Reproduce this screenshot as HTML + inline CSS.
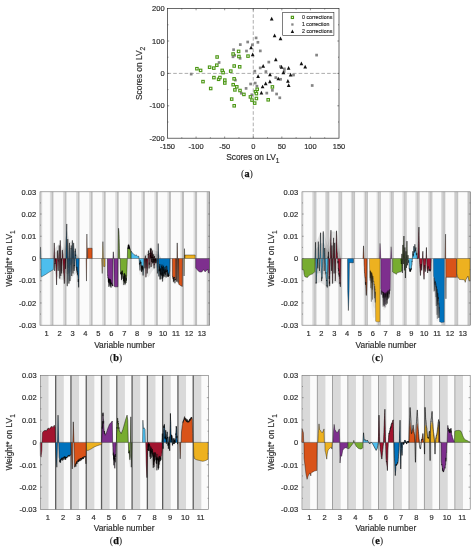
<!DOCTYPE html>
<html lang="en">
<head>
<meta charset="utf-8">
<title>Figure: PLS scores and weights</title>
<style>
html,body{margin:0;padding:0;background:#fff;}
body{width:476px;height:550px;overflow:hidden;}
svg{display:block;font-family:"Liberation Sans", Arial, sans-serif;}
</style>
</head>
<body>
<svg width="476" height="550" viewBox="0 0 476 550">
<rect x="0" y="0" width="476" height="550" fill="#ffffff"/>
<g id="panel-a">
<rect x="167.5" y="8.6" width="171.5" height="129.6" fill="#ffffff" />
<line x1="167.5" y1="73.4" x2="339" y2="73.4" stroke="#6a6a6a" stroke-width="0.55" stroke-dasharray="3.6 2.1"/>
<line x1="253.25" y1="8.6" x2="253.25" y2="138.2" stroke="#6a6a6a" stroke-width="0.55" stroke-dasharray="3.6 2.1"/>
<rect x="189.85" y="72.75" width="2.7" height="2.7" fill="#858585"/>
<rect x="217.75" y="61.15" width="2.7" height="2.7" fill="#858585"/>
<rect x="232.25" y="48.35" width="2.7" height="2.7" fill="#858585"/>
<rect x="238.95" y="43.25" width="2.7" height="2.7" fill="#858585"/>
<rect x="233.35" y="53.95" width="2.7" height="2.7" fill="#858585"/>
<rect x="231.65" y="55.45" width="2.7" height="2.7" fill="#858585"/>
<rect x="238.75" y="56.95" width="2.7" height="2.7" fill="#858585"/>
<rect x="228.85" y="69.95" width="2.7" height="2.7" fill="#858585"/>
<rect x="254.75" y="36.55" width="2.7" height="2.7" fill="#858585"/>
<rect x="256.55" y="40.95" width="2.7" height="2.7" fill="#858585"/>
<rect x="246.35" y="40.65" width="2.7" height="2.7" fill="#858585"/>
<rect x="251.05" y="43.45" width="2.7" height="2.7" fill="#858585"/>
<rect x="245.15" y="49.65" width="2.7" height="2.7" fill="#858585"/>
<rect x="258.95" y="49.55" width="2.7" height="2.7" fill="#858585"/>
<rect x="267.45" y="60.75" width="2.7" height="2.7" fill="#858585"/>
<rect x="258.85" y="66.55" width="2.7" height="2.7" fill="#858585"/>
<rect x="253.45" y="69.85" width="2.7" height="2.7" fill="#858585"/>
<rect x="264.55" y="70.25" width="2.7" height="2.7" fill="#858585"/>
<rect x="279.15" y="65.15" width="2.7" height="2.7" fill="#858585"/>
<rect x="283.05" y="67.55" width="2.7" height="2.7" fill="#858585"/>
<rect x="282.85" y="70.05" width="2.7" height="2.7" fill="#858585"/>
<rect x="292.15" y="73.65" width="2.7" height="2.7" fill="#858585"/>
<rect x="315.25" y="53.75" width="2.7" height="2.7" fill="#858585"/>
<rect x="234.05" y="78.75" width="2.7" height="2.7" fill="#858585"/>
<rect x="244.75" y="87.05" width="2.7" height="2.7" fill="#858585"/>
<rect x="249.25" y="82.65" width="2.7" height="2.7" fill="#858585"/>
<rect x="253.85" y="81.75" width="2.7" height="2.7" fill="#858585"/>
<rect x="255.55" y="84.85" width="2.7" height="2.7" fill="#858585"/>
<rect x="239.95" y="91.85" width="2.7" height="2.7" fill="#858585"/>
<rect x="250.45" y="93.45" width="2.7" height="2.7" fill="#858585"/>
<rect x="274.45" y="76.25" width="2.7" height="2.7" fill="#858585"/>
<rect x="279.25" y="77.95" width="2.7" height="2.7" fill="#858585"/>
<rect x="310.85" y="84.15" width="2.7" height="2.7" fill="#858585"/>
<rect x="271.05" y="88.95" width="2.7" height="2.7" fill="#858585"/>
<rect x="265.45" y="91.75" width="2.7" height="2.7" fill="#858585"/>
<rect x="275.25" y="92.65" width="2.7" height="2.7" fill="#858585"/>
<rect x="278.45" y="96.45" width="2.7" height="2.7" fill="#858585"/>
<rect x="195.68" y="67.48" width="2.45" height="2.45" fill="#ffffff" stroke="#4a9612" stroke-width="1.1"/>
<rect x="199.38" y="69.18" width="2.45" height="2.45" fill="#ffffff" stroke="#4a9612" stroke-width="1.1"/>
<rect x="208.38" y="65.98" width="2.45" height="2.45" fill="#ffffff" stroke="#4a9612" stroke-width="1.1"/>
<rect x="212.58" y="66.88" width="2.45" height="2.45" fill="#ffffff" stroke="#4a9612" stroke-width="1.1"/>
<rect x="215.58" y="63.98" width="2.45" height="2.45" fill="#ffffff" stroke="#4a9612" stroke-width="1.1"/>
<rect x="215.88" y="55.77" width="2.45" height="2.45" fill="#ffffff" stroke="#4a9612" stroke-width="1.1"/>
<rect x="220.97" y="69.18" width="2.45" height="2.45" fill="#ffffff" stroke="#4a9612" stroke-width="1.1"/>
<rect x="221.88" y="71.38" width="2.45" height="2.45" fill="#ffffff" stroke="#4a9612" stroke-width="1.1"/>
<rect x="229.58" y="69.88" width="2.45" height="2.45" fill="#ffffff" stroke="#4a9612" stroke-width="1.1"/>
<rect x="232.97" y="64.78" width="2.45" height="2.45" fill="#ffffff" stroke="#4a9612" stroke-width="1.1"/>
<rect x="238.47" y="65.58" width="2.45" height="2.45" fill="#ffffff" stroke="#4a9612" stroke-width="1.1"/>
<rect x="231.88" y="52.77" width="2.45" height="2.45" fill="#ffffff" stroke="#4a9612" stroke-width="1.1"/>
<rect x="237.38" y="50.17" width="2.45" height="2.45" fill="#ffffff" stroke="#4a9612" stroke-width="1.1"/>
<rect x="237.68" y="55.27" width="2.45" height="2.45" fill="#ffffff" stroke="#4a9612" stroke-width="1.1"/>
<rect x="246.78" y="54.88" width="2.45" height="2.45" fill="#ffffff" stroke="#4a9612" stroke-width="1.1"/>
<rect x="212.68" y="76.38" width="2.45" height="2.45" fill="#ffffff" stroke="#4a9612" stroke-width="1.1"/>
<rect x="217.38" y="78.08" width="2.45" height="2.45" fill="#ffffff" stroke="#4a9612" stroke-width="1.1"/>
<rect x="218.68" y="76.28" width="2.45" height="2.45" fill="#ffffff" stroke="#4a9612" stroke-width="1.1"/>
<rect x="201.78" y="80.38" width="2.45" height="2.45" fill="#ffffff" stroke="#4a9612" stroke-width="1.1"/>
<rect x="223.58" y="78.88" width="2.45" height="2.45" fill="#ffffff" stroke="#4a9612" stroke-width="1.1"/>
<rect x="223.58" y="81.78" width="2.45" height="2.45" fill="#ffffff" stroke="#4a9612" stroke-width="1.1"/>
<rect x="232.88" y="77.58" width="2.45" height="2.45" fill="#ffffff" stroke="#4a9612" stroke-width="1.1"/>
<rect x="209.47" y="87.28" width="2.45" height="2.45" fill="#ffffff" stroke="#4a9612" stroke-width="1.1"/>
<rect x="231.97" y="83.48" width="2.45" height="2.45" fill="#ffffff" stroke="#4a9612" stroke-width="1.1"/>
<rect x="235.58" y="85.58" width="2.45" height="2.45" fill="#ffffff" stroke="#4a9612" stroke-width="1.1"/>
<rect x="233.68" y="88.68" width="2.45" height="2.45" fill="#ffffff" stroke="#4a9612" stroke-width="1.1"/>
<rect x="238.78" y="89.28" width="2.45" height="2.45" fill="#ffffff" stroke="#4a9612" stroke-width="1.1"/>
<rect x="242.68" y="93.18" width="2.45" height="2.45" fill="#ffffff" stroke="#4a9612" stroke-width="1.1"/>
<rect x="230.47" y="97.88" width="2.45" height="2.45" fill="#ffffff" stroke="#4a9612" stroke-width="1.1"/>
<rect x="232.97" y="104.58" width="2.45" height="2.45" fill="#ffffff" stroke="#4a9612" stroke-width="1.1"/>
<rect x="249.18" y="95.68" width="2.45" height="2.45" fill="#ffffff" stroke="#4a9612" stroke-width="1.1"/>
<rect x="250.78" y="98.88" width="2.45" height="2.45" fill="#ffffff" stroke="#4a9612" stroke-width="1.1"/>
<rect x="253.47" y="101.88" width="2.45" height="2.45" fill="#ffffff" stroke="#4a9612" stroke-width="1.1"/>
<rect x="255.17" y="97.28" width="2.45" height="2.45" fill="#ffffff" stroke="#4a9612" stroke-width="1.1"/>
<rect x="254.28" y="90.48" width="2.45" height="2.45" fill="#ffffff" stroke="#4a9612" stroke-width="1.1"/>
<rect x="255.97" y="88.08" width="2.45" height="2.45" fill="#ffffff" stroke="#4a9612" stroke-width="1.1"/>
<rect x="255.17" y="92.38" width="2.45" height="2.45" fill="#ffffff" stroke="#4a9612" stroke-width="1.1"/>
<rect x="271.17" y="85.68" width="2.45" height="2.45" fill="#ffffff" stroke="#4a9612" stroke-width="1.1"/>
<rect x="266.97" y="98.58" width="2.45" height="2.45" fill="#ffffff" stroke="#4a9612" stroke-width="1.1"/>
<polygon points="271.7,16.85 273.55,20.55 269.85,20.55" fill="#111111"/>
<polygon points="274.6,33.45 276.45,37.15 272.75,37.15" fill="#111111"/>
<polygon points="280.5,36.55 282.35,40.25 278.65,40.25" fill="#111111"/>
<polygon points="251.1,45.45 252.95,49.15 249.25,49.15" fill="#111111"/>
<polygon points="252.7,52.45 254.55,56.15 250.85,56.15" fill="#111111"/>
<polygon points="275.8,57.45 277.65,61.15 273.95,61.15" fill="#111111"/>
<polygon points="263.2,64.05 265.05,67.75 261.35,67.75" fill="#111111"/>
<polygon points="281.6,65.05 283.45,68.75 279.75,68.75" fill="#111111"/>
<polygon points="288.6,66.05 290.45,69.75 286.75,69.75" fill="#111111"/>
<polygon points="301.4,61.55 303.25,65.25 299.55,65.25" fill="#111111"/>
<polygon points="305.2,64.75 307.05,68.45 303.35,68.45" fill="#111111"/>
<polygon points="283.4,70.55 285.25,74.25 281.55,74.25" fill="#111111"/>
<polygon points="270,72.45 271.85,76.15 268.15,76.15" fill="#111111"/>
<polygon points="290.6,72.75 292.45,76.45 288.75,76.45" fill="#111111"/>
<polygon points="258.1,74.25 259.95,77.95 256.25,77.95" fill="#111111"/>
<polygon points="278.3,76.65 280.15,80.35 276.45,80.35" fill="#111111"/>
<polygon points="287.9,79.05 289.75,82.75 286.05,82.75" fill="#111111"/>
<polygon points="288.7,83.25 290.55,86.95 286.85,86.95" fill="#111111"/>
<polygon points="269.9,79.55 271.75,83.25 268.05,83.25" fill="#111111"/>
<polygon points="265.7,81.55 267.55,85.25 263.85,85.25" fill="#111111"/>
<polygon points="262.6,84.65 264.45,88.35 260.75,88.35" fill="#111111"/>
<polygon points="261.4,90.85 263.25,94.55 259.55,94.55" fill="#111111"/>
<rect x="167.5" y="8.6" width="171.5" height="129.6" fill="none" stroke="#2a2a2a" stroke-width="0.7"/>
<line x1="181.79" y1="138.2" x2="181.79" y2="137.2" stroke="#2a2a2a" stroke-width="0.5" />
<line x1="181.79" y1="8.6" x2="181.79" y2="9.6" stroke="#2a2a2a" stroke-width="0.5" />
<line x1="196.08" y1="138.2" x2="196.08" y2="136.5" stroke="#2a2a2a" stroke-width="0.5" />
<line x1="196.08" y1="8.6" x2="196.08" y2="10.3" stroke="#2a2a2a" stroke-width="0.5" />
<line x1="210.38" y1="138.2" x2="210.38" y2="137.2" stroke="#2a2a2a" stroke-width="0.5" />
<line x1="210.38" y1="8.6" x2="210.38" y2="9.6" stroke="#2a2a2a" stroke-width="0.5" />
<line x1="224.67" y1="138.2" x2="224.67" y2="136.5" stroke="#2a2a2a" stroke-width="0.5" />
<line x1="224.67" y1="8.6" x2="224.67" y2="10.3" stroke="#2a2a2a" stroke-width="0.5" />
<line x1="238.96" y1="138.2" x2="238.96" y2="137.2" stroke="#2a2a2a" stroke-width="0.5" />
<line x1="238.96" y1="8.6" x2="238.96" y2="9.6" stroke="#2a2a2a" stroke-width="0.5" />
<line x1="253.25" y1="138.2" x2="253.25" y2="136.5" stroke="#2a2a2a" stroke-width="0.5" />
<line x1="253.25" y1="8.6" x2="253.25" y2="10.3" stroke="#2a2a2a" stroke-width="0.5" />
<line x1="267.54" y1="138.2" x2="267.54" y2="137.2" stroke="#2a2a2a" stroke-width="0.5" />
<line x1="267.54" y1="8.6" x2="267.54" y2="9.6" stroke="#2a2a2a" stroke-width="0.5" />
<line x1="281.83" y1="138.2" x2="281.83" y2="136.5" stroke="#2a2a2a" stroke-width="0.5" />
<line x1="281.83" y1="8.6" x2="281.83" y2="10.3" stroke="#2a2a2a" stroke-width="0.5" />
<line x1="296.12" y1="138.2" x2="296.12" y2="137.2" stroke="#2a2a2a" stroke-width="0.5" />
<line x1="296.12" y1="8.6" x2="296.12" y2="9.6" stroke="#2a2a2a" stroke-width="0.5" />
<line x1="310.42" y1="138.2" x2="310.42" y2="136.5" stroke="#2a2a2a" stroke-width="0.5" />
<line x1="310.42" y1="8.6" x2="310.42" y2="10.3" stroke="#2a2a2a" stroke-width="0.5" />
<line x1="324.71" y1="138.2" x2="324.71" y2="137.2" stroke="#2a2a2a" stroke-width="0.5" />
<line x1="324.71" y1="8.6" x2="324.71" y2="9.6" stroke="#2a2a2a" stroke-width="0.5" />
<line x1="167.5" y1="122" x2="168.5" y2="122" stroke="#2a2a2a" stroke-width="0.5" />
<line x1="339" y1="122" x2="338" y2="122" stroke="#2a2a2a" stroke-width="0.5" />
<line x1="167.5" y1="105.8" x2="169.2" y2="105.8" stroke="#2a2a2a" stroke-width="0.5" />
<line x1="339" y1="105.8" x2="337.3" y2="105.8" stroke="#2a2a2a" stroke-width="0.5" />
<line x1="167.5" y1="89.6" x2="168.5" y2="89.6" stroke="#2a2a2a" stroke-width="0.5" />
<line x1="339" y1="89.6" x2="338" y2="89.6" stroke="#2a2a2a" stroke-width="0.5" />
<line x1="167.5" y1="73.4" x2="169.2" y2="73.4" stroke="#2a2a2a" stroke-width="0.5" />
<line x1="339" y1="73.4" x2="337.3" y2="73.4" stroke="#2a2a2a" stroke-width="0.5" />
<line x1="167.5" y1="57.2" x2="168.5" y2="57.2" stroke="#2a2a2a" stroke-width="0.5" />
<line x1="339" y1="57.2" x2="338" y2="57.2" stroke="#2a2a2a" stroke-width="0.5" />
<line x1="167.5" y1="41" x2="169.2" y2="41" stroke="#2a2a2a" stroke-width="0.5" />
<line x1="339" y1="41" x2="337.3" y2="41" stroke="#2a2a2a" stroke-width="0.5" />
<line x1="167.5" y1="24.8" x2="168.5" y2="24.8" stroke="#2a2a2a" stroke-width="0.5" />
<line x1="339" y1="24.8" x2="338" y2="24.8" stroke="#2a2a2a" stroke-width="0.5" />
<text x="167.5" y="149.3" font-size="7.5" text-anchor="middle" fill="#2a2a2a" stroke="#2a2a2a" stroke-width="0.16" >-150</text>
<text x="196.08" y="149.3" font-size="7.5" text-anchor="middle" fill="#2a2a2a" stroke="#2a2a2a" stroke-width="0.16" >-100</text>
<text x="224.67" y="149.3" font-size="7.5" text-anchor="middle" fill="#2a2a2a" stroke="#2a2a2a" stroke-width="0.16" >-50</text>
<text x="253.25" y="149.3" font-size="7.5" text-anchor="middle" fill="#2a2a2a" stroke="#2a2a2a" stroke-width="0.16" >0</text>
<text x="281.83" y="149.3" font-size="7.5" text-anchor="middle" fill="#2a2a2a" stroke="#2a2a2a" stroke-width="0.16" >50</text>
<text x="310.42" y="149.3" font-size="7.5" text-anchor="middle" fill="#2a2a2a" stroke="#2a2a2a" stroke-width="0.16" >100</text>
<text x="339" y="149.3" font-size="7.5" text-anchor="middle" fill="#2a2a2a" stroke="#2a2a2a" stroke-width="0.16" >150</text>
<text x="164.6" y="140.8" font-size="7.5" text-anchor="end" fill="#2a2a2a" stroke="#2a2a2a" stroke-width="0.16" >-200</text>
<text x="164.6" y="108.4" font-size="7.5" text-anchor="end" fill="#2a2a2a" stroke="#2a2a2a" stroke-width="0.16" >-100</text>
<text x="164.6" y="76" font-size="7.5" text-anchor="end" fill="#2a2a2a" stroke="#2a2a2a" stroke-width="0.16" >0</text>
<text x="164.6" y="43.6" font-size="7.5" text-anchor="end" fill="#2a2a2a" stroke="#2a2a2a" stroke-width="0.16" >100</text>
<text x="164.6" y="11.2" font-size="7.5" text-anchor="end" fill="#2a2a2a" stroke="#2a2a2a" stroke-width="0.16" >200</text>
<text x="252.8" y="160" font-size="8.4" text-anchor="middle" fill="#2a2a2a" stroke="#2a2a2a" stroke-width="0.16" >Scores on LV<tspan font-size="6.6" dy="2.8">1</tspan></text>
<text transform="translate(142.4 73.4) rotate(-90)" font-size="8.4" text-anchor="middle" fill="#2a2a2a" stroke="#2a2a2a" stroke-width="0.16">Scores on LV<tspan font-size="6.6" dy="2.8">2</tspan></text>
<rect x="282.7" y="12.6" width="51.2" height="22.8" fill="#ffffff" stroke="#2a2a2a" stroke-width="0.6"/>
<rect x="291.3" y="16.3" width="2.2" height="2.2" fill="#ffffff" stroke="#4a9612" stroke-width="1.1"/>
<rect x="291.25" y="23.35" width="2.3" height="2.3" fill="#858585"/>
<polygon points="292.4,29.5 294.1,32.9 290.7,32.9" fill="#111111"/>
<text x="302" y="19.3" font-size="5.4" text-anchor="start" fill="#2a2a2a" stroke="#2a2a2a" stroke-width="0.16" textLength="30.3" lengthAdjust="spacingAndGlyphs">0 corrections</text>
<text x="302" y="26.4" font-size="5.4" text-anchor="start" fill="#2a2a2a" stroke="#2a2a2a" stroke-width="0.16" textLength="27.3" lengthAdjust="spacingAndGlyphs">1 correction</text>
<text x="302" y="33.3" font-size="5.4" text-anchor="start" fill="#2a2a2a" stroke="#2a2a2a" stroke-width="0.16" textLength="30.3" lengthAdjust="spacingAndGlyphs">2 corrections</text>
<text x="247" y="177.1" font-size="10.2" text-anchor="middle" fill="#111" font-family='"Liberation Serif", "Times New Roman", serif'>(<tspan font-weight="bold" stroke="#111" stroke-width="0.25">a</tspan>)</text>
</g>
<g id="panel-b">
<rect x="40" y="191.8" width="169.7" height="133.4" fill="#fbfbfb" />
<rect x="40.3" y="191.8" width="1.9" height="133.4" fill="#d9d9d9" />
<rect x="49.9" y="191.8" width="1.4" height="133.4" fill="#dedede" />
<rect x="51.4" y="191.8" width="2" height="133.4" fill="#bebebe" />
<rect x="62.96" y="191.8" width="1.4" height="133.4" fill="#dedede" />
<rect x="64.46" y="191.8" width="2" height="133.4" fill="#bebebe" />
<rect x="76.02" y="191.8" width="1.4" height="133.4" fill="#dedede" />
<rect x="77.52" y="191.8" width="2" height="133.4" fill="#bebebe" />
<rect x="89.08" y="191.8" width="1.4" height="133.4" fill="#dedede" />
<rect x="90.58" y="191.8" width="2" height="133.4" fill="#bebebe" />
<rect x="102.14" y="191.8" width="1.4" height="133.4" fill="#dedede" />
<rect x="103.64" y="191.8" width="2" height="133.4" fill="#bebebe" />
<rect x="115.2" y="191.8" width="1.4" height="133.4" fill="#dedede" />
<rect x="116.7" y="191.8" width="2" height="133.4" fill="#bebebe" />
<rect x="128.26" y="191.8" width="1.4" height="133.4" fill="#dedede" />
<rect x="129.76" y="191.8" width="2" height="133.4" fill="#bebebe" />
<rect x="141.32" y="191.8" width="1.4" height="133.4" fill="#dedede" />
<rect x="142.82" y="191.8" width="2" height="133.4" fill="#bebebe" />
<rect x="154.38" y="191.8" width="1.4" height="133.4" fill="#dedede" />
<rect x="155.88" y="191.8" width="2" height="133.4" fill="#bebebe" />
<rect x="167.44" y="191.8" width="1.4" height="133.4" fill="#dedede" />
<rect x="168.94" y="191.8" width="2" height="133.4" fill="#bebebe" />
<rect x="180.5" y="191.8" width="1.4" height="133.4" fill="#dedede" />
<rect x="182" y="191.8" width="2" height="133.4" fill="#bebebe" />
<rect x="193.56" y="191.8" width="1.4" height="133.4" fill="#dedede" />
<rect x="195.06" y="191.8" width="2" height="133.4" fill="#bebebe" />
<rect x="206.7" y="191.8" width="3" height="133.4" fill="#c2c2c2" />
<polygon points="40.16,258.5 40.16,258.56 40.55,247.36 40.93,258.56 41.05,276 41.44,276.89 42.14,276.49 42.84,276.09 43.54,275.68 44.24,275.28 44.94,274.88 45.64,274.47 46.36,274 47.09,273.53 47.82,273.06 48.55,272.58 49.27,272.11 50,271.64 50.73,271.16 51.4,270.78 52.06,270.4 52.73,270.02 53.4,269.64 53.78,258.56 53.78,258.5" fill="#4DBEEE"/>
<polyline points="40.16,258.56 40.55,247.36 40.93,258.56 41.05,276 41.44,276.89 42.14,276.49 42.84,276.09 43.54,275.68 44.24,275.28 44.94,274.88 45.64,274.47 46.36,274 47.09,273.53 47.82,273.06 48.55,272.58 49.27,272.11 50,271.64 50.73,271.16 51.4,270.78 52.06,270.4 52.73,270.02 53.4,269.64 53.78,258.56" fill="none" stroke="#000" stroke-opacity="1.0" stroke-width="0.38" stroke-linejoin="round"/>
<polygon points="53.78,258.18 55.18,248 59.64,242.91 63.46,249.27 67.02,230.18 69.82,241.64 73,241.64 76.18,251.82 78.98,258.18 79.24,258.56 79.24,258.56 78.98,283.64 76.18,273.46 73,276 69.82,282.36 67.02,284.91 63.46,279.82 59.64,279.82 55.18,273.46 53.78,259.46" fill="#000" fill-opacity="0.09"/>
<polygon points="53.78,258.34 55.18,252.23 59.64,249.17 63.46,252.99 67.02,241.53 69.82,248.41 73,248.41 76.18,254.52 78.98,258.34 79.24,258.56 79.24,258.56 78.98,273.61 76.18,267.5 73,269.03 69.82,272.84 67.02,274.37 63.46,271.32 59.64,271.32 55.18,267.5 53.78,259.1" fill="#000" fill-opacity="0.1"/>
<polygon points="53.78,258.5 53.78,258.56 53.91,254.37 54.04,250.85 54.16,247.68 54.29,242.91 54.42,250.96 54.55,260.52 54.67,270.91 54.8,268.29 54.93,263.61 55.05,263.04 55.18,263.84 55.31,258.56 55.44,260.71 55.56,261.02 55.69,262.79 55.82,263.14 55.95,264.55 56.07,266.29 56.2,271.17 56.33,277.64 56.45,280.93 56.58,284.91 56.71,279.22 56.84,275.41 56.96,267.56 57.09,263.17 57.22,258.56 57.35,257.81 57.47,251.72 57.6,250.55 57.73,258.18 57.85,261.36 57.98,266.03 58.11,270.91 58.24,265.99 58.36,264.08 58.49,260.7 58.62,261.21 58.75,256.91 58.87,254.75 59,252.75 59.13,249.45 59.25,245.46 59.38,256.52 59.51,260.2 59.64,268.35 59.76,278.55 59.89,271.98 60.02,260.08 60.15,248.09 60.27,240.36 60.4,248.13 60.53,257.98 60.65,264.93 60.78,276 60.91,271.12 61.04,264.76 61.16,261.82 61.29,258.56 61.42,266.1 61.55,270.99 61.67,273.46 61.8,267.74 61.93,261.46 62.05,259.61 62.18,254.13 62.31,249.91 62.44,250.42 62.56,253.94 62.69,254.09 62.82,255.36 62.95,258.56 63.07,262.94 63.2,265.17 63.33,266.09 63.46,270.69 63.58,273.24 63.71,273.46 63.84,274.54 63.96,275.83 64.09,279.46 64.22,281.29 64.35,283.64 64.47,279.38 64.6,275 64.73,270.25 64.86,264.38 64.98,263.02 65.11,258.56 65.24,260.21 65.36,263.25 65.49,268.89 65.62,268.36 65.75,263.89 65.87,261.66 66,258.56 66,258.5" fill="#A2142F"/>
<polygon points="53.78,255.56 54.29,239.91 54.67,267.91 55.31,255.56 55.95,261.55 56.58,281.91 57.22,255.56 57.6,247.55 58.11,267.91 58.75,253.91 59.25,242.46 59.76,275.55 60.27,237.36 60.78,273 61.29,255.56 61.67,270.46 62.31,246.91 62.95,255.56 63.71,270.46 64.35,280.64 65.11,255.56 65.62,265.36 66,255.56 66,261.56 65.62,271.36 65.11,261.56 64.35,286.64 63.71,276.46 62.95,261.56 62.31,252.91 61.67,276.46 61.29,261.56 60.78,279 60.27,243.36 59.76,281.55 59.25,248.46 58.75,259.91 58.11,273.91 57.6,253.55 57.22,261.56 56.58,287.91 55.95,267.55 55.31,261.56 54.67,273.91 54.29,245.91 53.78,261.56" fill="#000" fill-opacity="0.05"/>
<polygon points="53.78,256.46 54.29,240.81 54.67,268.81 55.31,256.46 55.95,262.45 56.58,282.81 57.22,256.46 57.6,248.45 58.11,268.81 58.75,254.81 59.25,243.36 59.76,276.45 60.27,238.26 60.78,273.9 61.29,256.46 61.67,271.36 62.31,247.81 62.95,256.46 63.71,271.36 64.35,281.54 65.11,256.46 65.62,266.26 66,256.46 66,260.66 65.62,270.46 65.11,260.66 64.35,285.74 63.71,275.56 62.95,260.66 62.31,252.01 61.67,275.56 61.29,260.66 60.78,278.1 60.27,242.46 59.76,280.65 59.25,247.56 58.75,259.01 58.11,273.01 57.6,252.65 57.22,260.66 56.58,287.01 55.95,266.65 55.31,260.66 54.67,273.01 54.29,245.01 53.78,260.66" fill="#000" fill-opacity="0.05"/>
<polygon points="53.78,257.21 54.29,241.56 54.67,269.56 55.31,257.21 55.95,263.2 56.58,283.56 57.22,257.21 57.6,249.2 58.11,269.56 58.75,255.56 59.25,244.11 59.76,277.2 60.27,239.01 60.78,274.65 61.29,257.21 61.67,272.11 62.31,248.56 62.95,257.21 63.71,272.11 64.35,282.29 65.11,257.21 65.62,267.01 66,257.21 66,259.91 65.62,269.71 65.11,259.91 64.35,284.99 63.71,274.81 62.95,259.91 62.31,251.26 61.67,274.81 61.29,259.91 60.78,277.35 60.27,241.71 59.76,279.9 59.25,246.81 58.75,258.26 58.11,272.26 57.6,251.9 57.22,259.91 56.58,286.26 55.95,265.9 55.31,259.91 54.67,272.26 54.29,244.26 53.78,259.91" fill="#000" fill-opacity="0.07"/>
<polygon points="53.78,257.81 54.29,242.16 54.67,270.16 55.31,257.81 55.95,263.8 56.58,284.16 57.22,257.81 57.6,249.8 58.11,270.16 58.75,256.16 59.25,244.71 59.76,277.8 60.27,239.61 60.78,275.25 61.29,257.81 61.67,272.71 62.31,249.16 62.95,257.81 63.71,272.71 64.35,282.89 65.11,257.81 65.62,267.61 66,257.81 66,259.31 65.62,269.11 65.11,259.31 64.35,284.39 63.71,274.21 62.95,259.31 62.31,250.66 61.67,274.21 61.29,259.31 60.78,276.75 60.27,241.11 59.76,279.3 59.25,246.21 58.75,257.66 58.11,271.66 57.6,251.3 57.22,259.31 56.58,285.66 55.95,265.3 55.31,259.31 54.67,271.66 54.29,243.66 53.78,259.31" fill="#000" fill-opacity="0.1"/>
<polygon points="53.78,258.2 54.29,242.55 54.67,270.55 55.31,258.2 55.95,264.19 56.58,284.55 57.22,258.2 57.6,250.19 58.11,270.55 58.75,256.55 59.25,245.1 59.76,278.19 60.27,240 60.78,275.64 61.29,258.2 61.67,273.1 62.31,249.55 62.95,258.2 63.71,273.1 64.35,283.28 65.11,258.2 65.62,268 66,258.2 66,258.92 65.62,268.72 65.11,258.92 64.35,284 63.71,273.82 62.95,258.92 62.31,250.27 61.67,273.82 61.29,258.92 60.78,276.36 60.27,240.72 59.76,278.91 59.25,245.82 58.75,257.27 58.11,271.27 57.6,250.91 57.22,258.92 56.58,285.27 55.95,264.91 55.31,258.92 54.67,271.27 54.29,243.27 53.78,258.92" fill="#000" fill-opacity="0.14"/>
<polyline points="53.78,258.56 53.91,254.37 54.04,250.85 54.16,247.68 54.29,242.91 54.42,250.96 54.55,260.52 54.67,270.91 54.8,268.29 54.93,263.61 55.05,263.04 55.18,263.84 55.31,258.56 55.44,260.71 55.56,261.02 55.69,262.79 55.82,263.14 55.95,264.55 56.07,266.29 56.2,271.17 56.33,277.64 56.45,280.93 56.58,284.91 56.71,279.22 56.84,275.41 56.96,267.56 57.09,263.17 57.22,258.56 57.35,257.81 57.47,251.72 57.6,250.55 57.73,258.18 57.85,261.36 57.98,266.03 58.11,270.91 58.24,265.99 58.36,264.08 58.49,260.7 58.62,261.21 58.75,256.91 58.87,254.75 59,252.75 59.13,249.45 59.25,245.46 59.38,256.52 59.51,260.2 59.64,268.35 59.76,278.55 59.89,271.98 60.02,260.08 60.15,248.09 60.27,240.36 60.4,248.13 60.53,257.98 60.65,264.93 60.78,276 60.91,271.12 61.04,264.76 61.16,261.82 61.29,258.56 61.42,266.1 61.55,270.99 61.67,273.46 61.8,267.74 61.93,261.46 62.05,259.61 62.18,254.13 62.31,249.91 62.44,250.42 62.56,253.94 62.69,254.09 62.82,255.36 62.95,258.56 63.07,262.94 63.2,265.17 63.33,266.09 63.46,270.69 63.58,273.24 63.71,273.46 63.84,274.54 63.96,275.83 64.09,279.46 64.22,281.29 64.35,283.64 64.47,279.38 64.6,275 64.73,270.25 64.86,264.38 64.98,263.02 65.11,258.56 65.24,260.21 65.36,263.25 65.49,268.89 65.62,268.36 65.75,263.89 65.87,261.66 66,258.56" fill="none" stroke="#000" stroke-opacity="1.0" stroke-width="0.45" stroke-linejoin="round"/>
<polygon points="66,258.5 66,258.56 66.13,252.22 66.26,247.33 66.38,238.44 66.51,235.76 66.64,229.75 66.76,223.95 66.89,242.42 67.02,256.97 67.15,269.77 67.27,286.18 67.4,272.24 67.53,264.83 67.66,250.4 67.78,239.09 67.91,246.9 68.04,251.12 68.16,255.76 68.29,258.56 68.42,262.26 68.55,268.56 68.67,273 68.8,276.73 68.93,283.64 69.06,274.55 69.18,266.23 69.31,253.94 69.44,242.91 69.56,251.98 69.69,261.59 69.82,274.18 69.95,281.09 70.07,277.79 70.2,274.35 70.33,265.79 70.46,265.28 70.58,258.56 70.71,257.14 70.84,251.09 70.96,248.42 71.09,249.02 71.22,245.46 71.35,250.29 71.47,261.06 71.6,268.08 71.73,276 71.86,271.17 71.98,259.38 72.11,256.4 72.24,246.07 72.36,240.36 72.49,246.97 72.62,255.35 72.75,262.97 72.87,264.31 73,273.46 73.13,267.78 73.26,260.59 73.38,253.59 73.51,248.01 73.64,242.91 73.76,247.24 73.89,255.78 74.02,266.56 74.15,270.91 74.27,265.13 74.4,266.1 74.53,261.67 74.66,258.56 74.78,256.22 74.91,252.33 75.04,251.43 75.16,252.07 75.29,248.64 75.42,249.8 75.55,255.82 75.67,254.63 75.8,258.56 75.93,259.59 76.06,263.12 76.18,265.59 76.31,266.18 76.44,268.01 76.56,268.36 76.69,270.69 76.82,267.84 76.95,266.85 77.07,272.61 77.2,271.04 77.33,270.91 77.46,274.72 77.58,273.2 77.71,272.88 77.84,274.48 77.96,276 78.09,275.88 78.22,282.01 78.35,279.11 78.47,283.05 78.6,287.37 78.73,286.18 78.86,274.15 78.98,266.55 79.11,258.56 79.11,258.5" fill="#0072BD"/>
<polygon points="66,255.56 66.76,220.95 67.27,283.18 67.78,236.09 68.29,255.56 68.93,280.64 69.44,239.91 69.95,278.09 70.58,255.56 71.22,242.46 71.73,273 72.36,237.36 73,270.46 73.64,239.91 74.15,267.91 74.66,255.56 75.29,245.64 75.8,255.56 76.56,265.36 77.33,267.91 77.96,273 78.73,283.18 79.11,255.56 79.11,261.56 78.73,289.18 77.96,279 77.33,273.91 76.56,271.36 75.8,261.56 75.29,251.64 74.66,261.56 74.15,273.91 73.64,245.91 73,276.46 72.36,243.36 71.73,279 71.22,248.46 70.58,261.56 69.95,284.09 69.44,245.91 68.93,286.64 68.29,261.56 67.78,242.09 67.27,289.18 66.76,226.95 66,261.56" fill="#000" fill-opacity="0.05"/>
<polygon points="66,256.46 66.76,221.85 67.27,284.08 67.78,236.99 68.29,256.46 68.93,281.54 69.44,240.81 69.95,278.99 70.58,256.46 71.22,243.36 71.73,273.9 72.36,238.26 73,271.36 73.64,240.81 74.15,268.81 74.66,256.46 75.29,246.54 75.8,256.46 76.56,266.26 77.33,268.81 77.96,273.9 78.73,284.08 79.11,256.46 79.11,260.66 78.73,288.28 77.96,278.1 77.33,273.01 76.56,270.46 75.8,260.66 75.29,250.74 74.66,260.66 74.15,273.01 73.64,245.01 73,275.56 72.36,242.46 71.73,278.1 71.22,247.56 70.58,260.66 69.95,283.19 69.44,245.01 68.93,285.74 68.29,260.66 67.78,241.19 67.27,288.28 66.76,226.05 66,260.66" fill="#000" fill-opacity="0.05"/>
<polygon points="66,257.21 66.76,222.6 67.27,284.83 67.78,237.74 68.29,257.21 68.93,282.29 69.44,241.56 69.95,279.74 70.58,257.21 71.22,244.11 71.73,274.65 72.36,239.01 73,272.11 73.64,241.56 74.15,269.56 74.66,257.21 75.29,247.29 75.8,257.21 76.56,267.01 77.33,269.56 77.96,274.65 78.73,284.83 79.11,257.21 79.11,259.91 78.73,287.53 77.96,277.35 77.33,272.26 76.56,269.71 75.8,259.91 75.29,249.99 74.66,259.91 74.15,272.26 73.64,244.26 73,274.81 72.36,241.71 71.73,277.35 71.22,246.81 70.58,259.91 69.95,282.44 69.44,244.26 68.93,284.99 68.29,259.91 67.78,240.44 67.27,287.53 66.76,225.3 66,259.91" fill="#000" fill-opacity="0.07"/>
<polygon points="66,257.81 66.76,223.2 67.27,285.43 67.78,238.34 68.29,257.81 68.93,282.89 69.44,242.16 69.95,280.34 70.58,257.81 71.22,244.71 71.73,275.25 72.36,239.61 73,272.71 73.64,242.16 74.15,270.16 74.66,257.81 75.29,247.89 75.8,257.81 76.56,267.61 77.33,270.16 77.96,275.25 78.73,285.43 79.11,257.81 79.11,259.31 78.73,286.93 77.96,276.75 77.33,271.66 76.56,269.11 75.8,259.31 75.29,249.39 74.66,259.31 74.15,271.66 73.64,243.66 73,274.21 72.36,241.11 71.73,276.75 71.22,246.21 70.58,259.31 69.95,281.84 69.44,243.66 68.93,284.39 68.29,259.31 67.78,239.84 67.27,286.93 66.76,224.7 66,259.31" fill="#000" fill-opacity="0.1"/>
<polygon points="66,258.2 66.76,223.59 67.27,285.82 67.78,238.73 68.29,258.2 68.93,283.28 69.44,242.55 69.95,280.73 70.58,258.2 71.22,245.1 71.73,275.64 72.36,240 73,273.1 73.64,242.55 74.15,270.55 74.66,258.2 75.29,248.28 75.8,258.2 76.56,268 77.33,270.55 77.96,275.64 78.73,285.82 79.11,258.2 79.11,258.92 78.73,286.54 77.96,276.36 77.33,271.27 76.56,268.72 75.8,258.92 75.29,249 74.66,258.92 74.15,271.27 73.64,243.27 73,273.82 72.36,240.72 71.73,276.36 71.22,245.82 70.58,258.92 69.95,281.45 69.44,243.27 68.93,284 68.29,258.92 67.78,239.45 67.27,286.54 66.76,224.31 66,258.92" fill="#000" fill-opacity="0.14"/>
<polyline points="66,258.56 66.13,252.22 66.26,247.33 66.38,238.44 66.51,235.76 66.64,229.75 66.76,223.95 66.89,242.42 67.02,256.97 67.15,269.77 67.27,286.18 67.4,272.24 67.53,264.83 67.66,250.4 67.78,239.09 67.91,246.9 68.04,251.12 68.16,255.76 68.29,258.56 68.42,262.26 68.55,268.56 68.67,273 68.8,276.73 68.93,283.64 69.06,274.55 69.18,266.23 69.31,253.94 69.44,242.91 69.56,251.98 69.69,261.59 69.82,274.18 69.95,281.09 70.07,277.79 70.2,274.35 70.33,265.79 70.46,265.28 70.58,258.56 70.71,257.14 70.84,251.09 70.96,248.42 71.09,249.02 71.22,245.46 71.35,250.29 71.47,261.06 71.6,268.08 71.73,276 71.86,271.17 71.98,259.38 72.11,256.4 72.24,246.07 72.36,240.36 72.49,246.97 72.62,255.35 72.75,262.97 72.87,264.31 73,273.46 73.13,267.78 73.26,260.59 73.38,253.59 73.51,248.01 73.64,242.91 73.76,247.24 73.89,255.78 74.02,266.56 74.15,270.91 74.27,265.13 74.4,266.1 74.53,261.67 74.66,258.56 74.78,256.22 74.91,252.33 75.04,251.43 75.16,252.07 75.29,248.64 75.42,249.8 75.55,255.82 75.67,254.63 75.8,258.56 75.93,259.59 76.06,263.12 76.18,265.59 76.31,266.18 76.44,268.01 76.56,268.36 76.69,270.69 76.82,267.84 76.95,266.85 77.07,272.61 77.2,271.04 77.33,270.91 77.46,274.72 77.58,273.2 77.71,272.88 77.84,274.48 77.96,276 78.09,275.88 78.22,282.01 78.35,279.11 78.47,283.05 78.6,287.37 78.73,286.18 78.86,274.15 78.98,266.55 79.11,258.56" fill="none" stroke="#000" stroke-opacity="1.0" stroke-width="0.45" stroke-linejoin="round"/>
<polygon points="86.11,258.5 86.11,258.56 86.49,281.09 86.87,234 87.26,258.56 87.64,258.56 87.64,248.26 88.38,248.26 89.12,248.26 89.86,248.26 90.61,248.26 91.35,248.26 92.09,248.26 92.09,258.56 92.09,258.5" fill="#D95319"/>
<polyline points="86.11,258.56 86.49,281.09 86.87,234 87.26,258.56 87.64,258.56 87.64,248.26 88.38,248.26 89.12,248.26 89.86,248.26 90.61,248.26 91.35,248.26 92.09,248.26 92.09,258.56" fill="none" stroke="#000" stroke-opacity="1.0" stroke-width="0.38" stroke-linejoin="round"/>
<polygon points="101.62,258.5 101.62,258.56 102.25,273.46 102.89,241.64 103.4,258.56 103.65,258.56 103.65,266.46 104.29,266.46 104.93,266.46 104.93,258.56 104.93,258.5" fill="#EDB120"/>
<polyline points="101.62,258.56 102.25,273.46 102.89,241.64 103.4,258.56 103.65,258.56 103.65,266.46 104.29,266.46 104.93,266.46 104.93,258.56" fill="none" stroke="#000" stroke-opacity="1.0" stroke-width="0.38" stroke-linejoin="round"/>
<polygon points="107.35,258.5 107.35,258.56 107.47,273.46 107.6,275.72 107.73,275.47 107.85,277.96 107.98,277.66 108.11,279.18 108.24,279.43 108.36,281.95 108.49,279.28 108.62,282.83 108.75,278.02 108.87,286.79 109,280.2 109.13,279.06 109.25,281.09 109.38,281.01 109.51,278.96 109.64,282.54 109.76,279.08 109.89,285.54 110.02,281.77 110.15,283.94 110.27,279.29 110.4,286.59 110.53,282.36 110.65,279.92 110.78,280.08 110.91,281.97 111.04,287.61 111.16,282.78 111.29,283.92 111.42,282.97 111.55,283.02 111.67,282.91 111.8,283.64 111.93,284.71 112.05,284.49 112.18,284.26 112.31,284.48 112.44,286.06 112.56,284.91 112.69,285.29 112.82,286.18 112.95,258.56 113.33,251.82 113.84,258.56 114.22,286.18 114.73,286.82 115.36,286.82 116,286.82 116.64,286.82 117.27,286.82 117.91,286.82 118.04,258.56 118.04,258.5" fill="#7E2F8E"/>
<polygon points="107.35,258.56 107.47,273.46 108.11,277.27 109.25,278.55 110.53,279.18 111.8,281.09 112.56,283.64 112.82,286.18 112.95,258.56 113.33,251.82 113.84,258.56 114.22,286.18 114.73,286.82 117.91,286.82 118.04,258.56 118.04,258.56 117.91,286.82 114.73,286.82 114.22,286.18 113.84,258.56 113.33,251.82 112.95,258.56 112.82,286.18 112.56,287.46 111.8,288.09 110.53,288.09 109.25,287.46 108.11,286.18 107.47,273.46 107.35,258.56" fill="#000" fill-opacity="0.05"/>
<polygon points="107.35,258.56 107.47,273.46 108.11,277.85 109.25,279.31 110.53,280.14 111.8,281.86 112.56,284.02 112.82,286.18 112.95,258.56 113.33,251.82 113.84,258.56 114.22,286.18 114.73,286.82 117.91,286.82 118.04,258.56 118.04,258.56 117.91,286.82 114.73,286.82 114.22,286.18 113.84,258.56 113.33,251.82 112.95,258.56 112.82,286.18 112.56,286.69 111.8,286.76 110.53,286.37 109.25,285.55 108.11,284.08 107.47,273.46 107.35,258.56" fill="#000" fill-opacity="0.05"/>
<polygon points="107.35,258.56 107.47,273.46 108.11,278.32 109.25,279.95 110.53,280.93 111.8,282.49 112.56,284.34 112.82,286.18 112.95,258.56 113.33,251.82 113.84,258.56 114.22,286.18 114.73,286.82 117.91,286.82 118.04,258.56 118.04,258.56 117.91,286.82 114.73,286.82 114.22,286.18 113.84,258.56 113.33,251.82 112.95,258.56 112.82,286.18 112.56,286.06 111.8,285.64 110.53,284.94 109.25,283.96 108.11,282.33 107.47,273.46 107.35,258.56" fill="#000" fill-opacity="0.07"/>
<polygon points="107.35,258.56 107.47,273.46 108.11,278.71 109.25,280.46 110.53,281.57 111.8,283 112.56,284.59 112.82,286.18 112.95,258.56 113.33,251.82 113.84,258.56 114.22,286.18 114.73,286.82 117.91,286.82 118.04,258.56 118.04,258.56 117.91,286.82 114.73,286.82 114.22,286.18 113.84,258.56 113.33,251.82 112.95,258.56 112.82,286.18 112.56,285.55 111.8,284.75 110.53,283.8 109.25,282.68 108.11,280.93 107.47,273.46 107.35,258.56" fill="#000" fill-opacity="0.1"/>
<polygon points="107.35,258.56 107.47,273.46 108.11,278.95 109.25,280.79 110.53,281.98 111.8,283.33 112.56,284.76 112.82,286.18 112.95,258.56 113.33,251.82 113.84,258.56 114.22,286.18 114.73,286.82 117.91,286.82 118.04,258.56 118.04,258.56 117.91,286.82 114.73,286.82 114.22,286.18 113.84,258.56 113.33,251.82 112.95,258.56 112.82,286.18 112.56,285.22 111.8,284.17 110.53,283.05 109.25,281.86 108.11,280.02 107.47,273.46 107.35,258.56" fill="#000" fill-opacity="0.14"/>
<polyline points="107.35,258.56 107.47,273.46 107.6,275.72 107.73,275.47 107.85,277.96 107.98,277.66 108.11,279.18 108.24,279.43 108.36,281.95 108.49,279.28 108.62,282.83 108.75,278.02 108.87,286.79 109,280.2 109.13,279.06 109.25,281.09 109.38,281.01 109.51,278.96 109.64,282.54 109.76,279.08 109.89,285.54 110.02,281.77 110.15,283.94 110.27,279.29 110.4,286.59 110.53,282.36 110.65,279.92 110.78,280.08 110.91,281.97 111.04,287.61 111.16,282.78 111.29,283.92 111.42,282.97 111.55,283.02 111.67,282.91 111.8,283.64 111.93,284.71 112.05,284.49 112.18,284.26 112.31,284.48 112.44,286.06 112.56,284.91 112.69,285.29 112.82,286.18 112.95,258.56 113.33,251.82 113.84,258.56 114.22,286.18 114.73,286.82 115.36,286.82 116,286.82 116.64,286.82 117.27,286.82 117.91,286.82 118.04,258.56" fill="none" stroke="#000" stroke-opacity="1.0" stroke-width="0.45" stroke-linejoin="round"/>
<polygon points="118.16,258.5 118.16,258.56 118.55,228.27 118.67,229.36 118.8,230.64 118.93,231.45 119.05,234.46 119.18,238.65 119.31,242.91 119.44,248.79 119.56,253.07 119.69,258.56 120.2,258.56 120.46,272.18 120.58,273.71 120.71,272.85 120.84,273.56 120.96,272.46 121.09,274.73 121.22,274.33 121.35,271.94 121.47,280.06 121.6,273.89 121.73,273.09 121.86,273.06 121.98,270.83 122.11,278.8 122.24,270.56 122.36,274.09 122.49,273.37 122.62,273.59 122.75,273.44 122.87,273.75 123,274.97 123.13,274.8 123.26,276.29 123.38,276.03 123.51,281.04 123.64,277.27 123.76,282.53 123.89,285.02 124.02,275.77 124.15,277.25 124.27,281.74 124.4,273.09 124.53,281.24 124.66,283.32 124.78,273.87 124.91,275.36 125.04,283.45 125.16,283.47 125.29,284.4 125.42,282.24 125.55,276.91 125.67,276.32 125.8,274.9 125.93,282.3 126.06,282.97 126.18,278.55 126.31,278.04 126.44,280.7 126.56,278.42 126.69,276.56 126.82,276 127.33,258.56 127.58,248.64 127.71,248.53 127.84,247.71 127.96,248.26 128.09,248.31 128.22,248.63 128.35,246.7 128.47,244.98 128.6,248.47 128.73,248.26 128.86,248.34 128.98,247.5 129.11,248.54 129.24,248.51 129.36,247.69 129.49,248.64 129.62,249.06 129.75,249.08 129.87,249.32 130,249.17 130.13,249.53 130.26,249.9 130.38,250.4 130.51,250.2 130.64,250.92 130.76,251.18 131.15,253.35 131.15,258.56 131.15,258.5" fill="#77AC30"/>
<polygon points="118.16,258.56 118.55,228.27 118.93,230.44 119.31,241.89 119.69,258.56 120.2,258.56 120.46,272.18 121.09,271.55 122.36,270.27 123.64,273.46 124.91,271.55 126.18,275.36 126.82,276 127.33,258.56 127.58,248.64 127.96,242.91 128.73,242.91 129.49,244.05 130.13,247.49 130.76,251.18 131.15,253.35 131.15,258.56 131.15,258.56 131.15,253.35 130.76,251.18 130.13,249.91 129.49,249.02 128.73,248.64 127.96,248.64 127.58,248.64 127.33,258.56 126.82,276 126.18,286.18 124.91,285.55 123.64,286.82 122.36,284.91 121.09,283.64 120.46,272.18 120.2,258.56 119.69,258.56 119.31,243.93 118.93,232.47 118.55,228.27 118.16,258.56" fill="#000" fill-opacity="0.05"/>
<polygon points="118.16,258.56 118.55,228.27 118.93,230.74 119.31,242.2 119.69,258.56 120.2,258.56 120.46,272.18 121.09,272.5 122.36,271.42 123.64,274.6 124.91,272.69 126.18,276.32 126.82,276 127.33,258.56 127.58,248.64 127.96,244.51 128.73,244.51 129.49,245.43 130.13,248.1 130.76,251.18 131.15,253.35 131.15,258.56 131.15,258.56 131.15,253.35 130.76,251.18 130.13,249.8 129.49,248.9 128.73,248.52 127.96,248.52 127.58,248.64 127.33,258.56 126.82,276 126.18,283.89 124.91,282.49 123.64,283.96 122.36,281.66 121.09,280.96 120.46,272.18 120.2,258.56 119.69,258.56 119.31,243.62 118.93,232.17 118.55,228.27 118.16,258.56" fill="#000" fill-opacity="0.05"/>
<polygon points="118.16,258.56 118.55,228.27 118.93,231 119.31,242.45 119.69,258.56 120.2,258.56 120.46,272.18 121.09,273.3 122.36,272.37 123.64,275.56 124.91,273.65 126.18,277.11 126.82,276 127.33,258.56 127.58,248.64 127.96,245.85 128.73,245.85 129.49,246.58 130.13,248.61 130.76,251.18 131.15,253.35 131.15,258.56 131.15,258.56 131.15,253.35 130.76,251.18 130.13,249.7 129.49,248.81 128.73,248.43 127.96,248.43 127.58,248.64 127.33,258.56 126.82,276 126.18,281.98 124.91,279.95 123.64,281.57 122.36,278.96 121.09,278.74 120.46,272.18 120.2,258.56 119.69,258.56 119.31,243.37 118.93,231.91 118.55,228.27 118.16,258.56" fill="#000" fill-opacity="0.07"/>
<polygon points="118.16,258.56 118.55,228.27 118.93,231.2 119.31,242.65 119.69,258.56 120.2,258.56 120.46,272.18 121.09,273.93 122.36,273.14 123.64,276.32 124.91,274.41 126.18,277.75 126.82,276 127.33,258.56 127.58,248.64 127.96,246.92 128.73,246.92 129.49,247.49 130.13,249.02 130.76,251.18 131.15,253.35 131.15,258.56 131.15,258.56 131.15,253.35 130.76,251.18 130.13,249.62 129.49,248.73 128.73,248.35 127.96,248.35 127.58,248.64 127.33,258.56 126.82,276 126.18,280.46 124.91,277.91 123.64,279.66 122.36,276.8 121.09,276.96 120.46,272.18 120.2,258.56 119.69,258.56 119.31,243.16 118.93,231.71 118.55,228.27 118.16,258.56" fill="#000" fill-opacity="0.1"/>
<polygon points="118.16,258.56 118.55,228.27 118.93,231.33 119.31,242.79 119.69,258.56 120.2,258.56 120.46,272.18 121.09,274.35 122.36,273.63 123.64,276.82 124.91,274.91 126.18,278.16 126.82,276 127.33,258.56 127.58,248.64 127.96,247.61 128.73,247.61 129.49,248.09 130.13,249.28 130.76,251.18 131.15,253.35 131.15,258.56 131.15,258.56 131.15,253.35 130.76,251.18 130.13,249.57 129.49,248.68 128.73,248.3 127.96,248.3 127.58,248.64 127.33,258.56 126.82,276 126.18,279.46 124.91,276.59 123.64,278.42 122.36,275.39 121.09,275.8 120.46,272.18 120.2,258.56 119.69,258.56 119.31,243.03 118.93,231.58 118.55,228.27 118.16,258.56" fill="#000" fill-opacity="0.14"/>
<polyline points="118.16,258.56 118.55,228.27 118.67,229.36 118.8,230.64 118.93,231.45 119.05,234.46 119.18,238.65 119.31,242.91 119.44,248.79 119.56,253.07 119.69,258.56 120.2,258.56 120.46,272.18 120.58,273.71 120.71,272.85 120.84,273.56 120.96,272.46 121.09,274.73 121.22,274.33 121.35,271.94 121.47,280.06 121.6,273.89 121.73,273.09 121.86,273.06 121.98,270.83 122.11,278.8 122.24,270.56 122.36,274.09 122.49,273.37 122.62,273.59 122.75,273.44 122.87,273.75 123,274.97 123.13,274.8 123.26,276.29 123.38,276.03 123.51,281.04 123.64,277.27 123.76,282.53 123.89,285.02 124.02,275.77 124.15,277.25 124.27,281.74 124.4,273.09 124.53,281.24 124.66,283.32 124.78,273.87 124.91,275.36 125.04,283.45 125.16,283.47 125.29,284.4 125.42,282.24 125.55,276.91 125.67,276.32 125.8,274.9 125.93,282.3 126.06,282.97 126.18,278.55 126.31,278.04 126.44,280.7 126.56,278.42 126.69,276.56 126.82,276 127.33,258.56 127.58,248.64 127.71,248.53 127.84,247.71 127.96,248.26 128.09,248.31 128.22,248.63 128.35,246.7 128.47,244.98 128.6,248.47 128.73,248.26 128.86,248.34 128.98,247.5 129.11,248.54 129.24,248.51 129.36,247.69 129.49,248.64 129.62,249.06 129.75,249.08 129.87,249.32 130,249.17 130.13,249.53 130.26,249.9 130.38,250.4 130.51,250.2 130.64,250.92 130.76,251.18 131.15,253.35 131.15,258.56" fill="none" stroke="#000" stroke-opacity="1.0" stroke-width="0.45" stroke-linejoin="round"/>
<polygon points="127.58,248.76 127.71,245.71 128.09,244.05 128.47,244.95 128.98,244.18 129.49,245.46 130,247.24 130.51,249.78 129.75,248.89 128.73,248.51" fill="#000" fill-opacity="0.9"/>
<polygon points="131.15,258.5 131.15,258.56 131.15,251.18 131.85,252.14 132.55,253.09 133.18,253.73 133.82,254.36 134.46,254.87 135.09,255.38 135.73,255.19 136.36,255 137,255.64 137.64,256.27 138.21,256.27 138.78,256.27 139.04,258.56 139.16,260.39 139.29,260.97 139.42,264.55 139.55,262.97 139.67,262.88 139.8,264.67 139.93,268.13 140.06,270.47 140.18,260.28 140.31,263.27 140.44,263.56 140.56,262.35 140.69,263.38 140.82,263.55 140.95,261.8 141.07,262.52 141.2,266.03 141.33,265.82 141.46,271.78 141.58,268.26 141.71,265.84 141.84,271.5 141.96,266.5 142.09,268.12 142.22,265.56 142.35,269 142.47,265.79 142.6,268.66 142.73,270.26 142.86,266.63 142.98,274.71 143.11,275.47 143.24,272.86 143.36,270.27 143.49,268.03 143.62,266.85 143.75,264.58 143.87,260.89 144,258.56 144,258.5" fill="#4DBEEE"/>
<polygon points="131.15,258.56 131.15,251.18 132.55,253.09 133.82,254.36 135.09,255.38 136.36,255 137.64,256.27 138.78,256.27 139.04,258.56 139.42,262 140.31,259.46 141.33,262 142.35,265.18 143.36,267.73 144,258.56 144,258.56 143.36,276 142.35,276.64 141.33,274.73 140.31,274.73 139.42,274.73 139.04,258.56 138.78,256.27 137.64,256.27 136.36,255 135.09,255.38 133.82,254.36 132.55,253.09 131.15,251.18 131.15,258.56" fill="#000" fill-opacity="0.05"/>
<polygon points="131.15,258.56 131.15,251.18 132.55,253.09 133.82,254.36 135.09,255.38 136.36,255 137.64,256.27 138.78,256.27 139.04,258.56 139.42,262.76 140.31,260.6 141.33,263.15 142.35,266.33 143.36,268.49 144,258.56 144,258.56 143.36,274.28 142.35,274.35 141.33,272.06 140.31,271.29 139.42,271.67 139.04,258.56 138.78,256.27 137.64,256.27 136.36,255 135.09,255.38 133.82,254.36 132.55,253.09 131.15,251.18 131.15,258.56" fill="#000" fill-opacity="0.05"/>
<polygon points="131.15,258.56 131.15,251.18 132.55,253.09 133.82,254.36 135.09,255.38 136.36,255 137.64,256.27 138.78,256.27 139.04,258.56 139.42,263.4 140.31,261.56 141.33,264.1 142.35,267.28 143.36,269.13 144,258.56 144,258.56 143.36,272.85 142.35,272.44 141.33,269.83 140.31,268.43 139.42,269.13 139.04,258.56 138.78,256.27 137.64,256.27 136.36,255 135.09,255.38 133.82,254.36 132.55,253.09 131.15,251.18 131.15,258.56" fill="#000" fill-opacity="0.07"/>
<polygon points="131.15,258.56 131.15,251.18 132.55,253.09 133.82,254.36 135.09,255.38 136.36,255 137.64,256.27 138.78,256.27 139.04,258.56 139.42,263.91 140.31,262.32 141.33,264.86 142.35,268.05 143.36,269.64 144,258.56 144,258.56 143.36,271.71 142.35,270.91 141.33,268.05 140.31,266.14 139.42,267.09 139.04,258.56 138.78,256.27 137.64,256.27 136.36,255 135.09,255.38 133.82,254.36 132.55,253.09 131.15,251.18 131.15,258.56" fill="#000" fill-opacity="0.1"/>
<polygon points="131.15,258.56 131.15,251.18 132.55,253.09 133.82,254.36 135.09,255.38 136.36,255 137.64,256.27 138.78,256.27 139.04,258.56 139.42,264.24 140.31,262.82 141.33,265.36 142.35,268.54 143.36,269.97 144,258.56 144,258.56 143.36,270.96 142.35,269.92 141.33,266.89 140.31,264.65 139.42,265.77 139.04,258.56 138.78,256.27 137.64,256.27 136.36,255 135.09,255.38 133.82,254.36 132.55,253.09 131.15,251.18 131.15,258.56" fill="#000" fill-opacity="0.14"/>
<polyline points="131.15,258.56 131.15,251.18 131.85,252.14 132.55,253.09 133.18,253.73 133.82,254.36 134.46,254.87 135.09,255.38 135.73,255.19 136.36,255 137,255.64 137.64,256.27 138.21,256.27 138.78,256.27 139.04,258.56 139.16,260.39 139.29,260.97 139.42,264.55 139.55,262.97 139.67,262.88 139.8,264.67 139.93,268.13 140.06,270.47 140.18,260.28 140.31,263.27 140.44,263.56 140.56,262.35 140.69,263.38 140.82,263.55 140.95,261.8 141.07,262.52 141.2,266.03 141.33,265.82 141.46,271.78 141.58,268.26 141.71,265.84 141.84,271.5 141.96,266.5 142.09,268.12 142.22,265.56 142.35,269 142.47,265.79 142.6,268.66 142.73,270.26 142.86,266.63 142.98,274.71 143.11,275.47 143.24,272.86 143.36,270.27 143.49,268.03 143.62,266.85 143.75,264.58 143.87,260.89 144,258.56" fill="none" stroke="#000" stroke-opacity="1.0" stroke-width="0.45" stroke-linejoin="round"/>
<polygon points="144.13,258.18 145.27,254.36 148.46,249.91 152.27,249.27 154.82,250.55 158.64,251.82 161.18,258.56 161.18,258.56 158.64,267.09 154.82,268.36 152.27,270.91 148.46,277.27 145.27,273.46 144.13,259.46" fill="#000" fill-opacity="0.09"/>
<polygon points="144.13,258.34 145.27,256.04 148.46,253.37 152.27,252.99 154.82,253.75 158.64,254.52 161.18,258.56 161.18,258.56 158.64,263.68 154.82,264.44 152.27,265.97 148.46,269.79 145.27,267.5 144.13,259.1" fill="#000" fill-opacity="0.1"/>
<polygon points="144.38,258.5 144.38,258.56 144.51,261.24 144.64,262.67 144.76,263.86 144.89,268.36 145.02,265.74 145.15,262.67 145.27,259.76 145.4,255.64 145.53,260.74 145.66,263.8 145.78,271.41 145.91,277.27 146.04,276.44 146.16,269.38 146.29,265.67 146.42,261.85 146.55,258.18 146.67,260.68 146.8,266.88 146.93,268.34 147.06,269.06 147.18,273.46 147.31,270.39 147.44,268.27 147.56,266.81 147.69,265.98 147.82,262 147.95,260.15 148.07,256.89 148.2,254.03 148.33,255.28 148.46,250.55 148.58,254.14 148.71,255.72 148.84,262.42 148.96,264.8 149.09,268.36 149.22,262.58 149.35,264.72 149.47,259.73 149.6,255.85 149.73,253.09 149.86,254.19 149.98,253.56 150.11,252.95 150.24,248.61 150.36,249.27 150.49,250.63 150.62,253.7 150.75,260.64 150.87,262.99 151,267.09 151.13,266.72 151.26,262.4 151.38,261.75 151.51,257.47 151.64,255.64 151.76,254.63 151.89,252.46 152.02,254.32 152.15,252.75 152.27,250.55 152.4,252.57 152.53,257.58 152.66,258.16 152.78,258.89 152.91,263.27 153.04,260.94 153.16,262.43 153.29,257.88 153.42,255.13 153.55,254.36 153.67,256.29 153.8,259.48 153.93,259.36 154.06,261.17 154.18,262 154.31,261.46 154.44,257.83 154.56,256.13 154.69,257.56 154.82,256.91 150.25,258.18 150.38,255.05 150.51,256.75 150.64,251.82 150.76,250.37 150.89,247.9 151.02,250.22 151.15,248.85 151.27,249.27 151.4,255.03 151.53,258.63 151.65,259.57 151.78,262 151.91,257.33 152.04,258.22 152.16,257.17 152.29,254.36 152.42,255.83 152.55,258.82 152.67,260.23 152.8,263.27 152.93,262.48 153.05,261.66 153.18,257.87 153.31,260.25 153.44,258.18 153.56,259.04 153.69,259.55 153.82,263.44 153.95,266.37 154.07,268.36 154.2,264.42 154.33,265.15 154.45,263.37 154.58,262.38 154.71,262.82 154.84,258.56 154.96,258.46 155.09,261.19 155.22,258.06 155.35,259.93 155.47,258.9 155.6,263.21 155.73,262 155.85,261.34 155.98,259.44 156.11,262.77 156.24,258.72 156.36,258.56 156.36,258.5" fill="#A2142F"/>
<polygon points="144.38,255.56 144.89,265.36 145.4,252.64 145.91,274.27 146.55,255.18 147.18,270.46 147.82,259 148.46,247.55 149.09,265.36 149.73,250.09 150.36,246.27 151,264.09 151.64,252.64 152.27,247.55 152.91,260.27 153.55,251.36 154.18,259 154.82,253.91 150.25,255.18 150.64,248.82 151.27,246.27 151.78,259 152.29,251.36 152.8,260.27 153.44,255.18 154.07,265.36 154.84,255.56 155.73,259 156.36,255.56 156.36,261.56 155.73,265 154.84,261.56 154.07,271.36 153.44,261.18 152.8,266.27 152.29,257.36 151.78,265 151.27,252.27 150.64,254.82 150.25,261.18 154.82,259.91 154.18,265 153.55,257.36 152.91,266.27 152.27,253.55 151.64,258.64 151,270.09 150.36,252.27 149.73,256.09 149.09,271.36 148.46,253.55 147.82,265 147.18,276.46 146.55,261.18 145.91,280.27 145.4,258.64 144.89,271.36 144.38,261.56" fill="#000" fill-opacity="0.05"/>
<polygon points="144.38,256.46 144.89,266.26 145.4,253.54 145.91,275.17 146.55,256.08 147.18,271.36 147.82,259.9 148.46,248.45 149.09,266.26 149.73,250.99 150.36,247.17 151,264.99 151.64,253.54 152.27,248.45 152.91,261.17 153.55,252.26 154.18,259.9 154.82,254.81 150.25,256.08 150.64,249.72 151.27,247.17 151.78,259.9 152.29,252.26 152.8,261.17 153.44,256.08 154.07,266.26 154.84,256.46 155.73,259.9 156.36,256.46 156.36,260.66 155.73,264.1 154.84,260.66 154.07,270.46 153.44,260.28 152.8,265.37 152.29,256.46 151.78,264.1 151.27,251.37 150.64,253.92 150.25,260.28 154.82,259.01 154.18,264.1 153.55,256.46 152.91,265.37 152.27,252.65 151.64,257.74 151,269.19 150.36,251.37 149.73,255.19 149.09,270.46 148.46,252.65 147.82,264.1 147.18,275.56 146.55,260.28 145.91,279.37 145.4,257.74 144.89,270.46 144.38,260.66" fill="#000" fill-opacity="0.05"/>
<polygon points="144.38,257.21 144.89,267.01 145.4,254.29 145.91,275.92 146.55,256.83 147.18,272.11 147.82,260.65 148.46,249.2 149.09,267.01 149.73,251.74 150.36,247.92 151,265.74 151.64,254.29 152.27,249.2 152.91,261.92 153.55,253.01 154.18,260.65 154.82,255.56 150.25,256.83 150.64,250.47 151.27,247.92 151.78,260.65 152.29,253.01 152.8,261.92 153.44,256.83 154.07,267.01 154.84,257.21 155.73,260.65 156.36,257.21 156.36,259.91 155.73,263.35 154.84,259.91 154.07,269.71 153.44,259.53 152.8,264.62 152.29,255.71 151.78,263.35 151.27,250.62 150.64,253.17 150.25,259.53 154.82,258.26 154.18,263.35 153.55,255.71 152.91,264.62 152.27,251.9 151.64,256.99 151,268.44 150.36,250.62 149.73,254.44 149.09,269.71 148.46,251.9 147.82,263.35 147.18,274.81 146.55,259.53 145.91,278.62 145.4,256.99 144.89,269.71 144.38,259.91" fill="#000" fill-opacity="0.07"/>
<polygon points="144.38,257.81 144.89,267.61 145.4,254.89 145.91,276.52 146.55,257.43 147.18,272.71 147.82,261.25 148.46,249.8 149.09,267.61 149.73,252.34 150.36,248.52 151,266.34 151.64,254.89 152.27,249.8 152.91,262.52 153.55,253.61 154.18,261.25 154.82,256.16 150.25,257.43 150.64,251.07 151.27,248.52 151.78,261.25 152.29,253.61 152.8,262.52 153.44,257.43 154.07,267.61 154.84,257.81 155.73,261.25 156.36,257.81 156.36,259.31 155.73,262.75 154.84,259.31 154.07,269.11 153.44,258.93 152.8,264.02 152.29,255.11 151.78,262.75 151.27,250.02 150.64,252.57 150.25,258.93 154.82,257.66 154.18,262.75 153.55,255.11 152.91,264.02 152.27,251.3 151.64,256.39 151,267.84 150.36,250.02 149.73,253.84 149.09,269.11 148.46,251.3 147.82,262.75 147.18,274.21 146.55,258.93 145.91,278.02 145.4,256.39 144.89,269.11 144.38,259.31" fill="#000" fill-opacity="0.1"/>
<polygon points="144.38,258.2 144.89,268 145.4,255.28 145.91,276.91 146.55,257.82 147.18,273.1 147.82,261.64 148.46,250.19 149.09,268 149.73,252.73 150.36,248.91 151,266.73 151.64,255.28 152.27,250.19 152.91,262.91 153.55,254 154.18,261.64 154.82,256.55 150.25,257.82 150.64,251.46 151.27,248.91 151.78,261.64 152.29,254 152.8,262.91 153.44,257.82 154.07,268 154.84,258.2 155.73,261.64 156.36,258.2 156.36,258.92 155.73,262.36 154.84,258.92 154.07,268.72 153.44,258.54 152.8,263.63 152.29,254.72 151.78,262.36 151.27,249.63 150.64,252.18 150.25,258.54 154.82,257.27 154.18,262.36 153.55,254.72 152.91,263.63 152.27,250.91 151.64,256 151,267.45 150.36,249.63 149.73,253.45 149.09,268.72 148.46,250.91 147.82,262.36 147.18,273.82 146.55,258.54 145.91,277.63 145.4,256 144.89,268.72 144.38,258.92" fill="#000" fill-opacity="0.14"/>
<polyline points="144.38,258.56 144.51,261.24 144.64,262.67 144.76,263.86 144.89,268.36 145.02,265.74 145.15,262.67 145.27,259.76 145.4,255.64 145.53,260.74 145.66,263.8 145.78,271.41 145.91,277.27 146.04,276.44 146.16,269.38 146.29,265.67 146.42,261.85 146.55,258.18 146.67,260.68 146.8,266.88 146.93,268.34 147.06,269.06 147.18,273.46 147.31,270.39 147.44,268.27 147.56,266.81 147.69,265.98 147.82,262 147.95,260.15 148.07,256.89 148.2,254.03 148.33,255.28 148.46,250.55 148.58,254.14 148.71,255.72 148.84,262.42 148.96,264.8 149.09,268.36 149.22,262.58 149.35,264.72 149.47,259.73 149.6,255.85 149.73,253.09 149.86,254.19 149.98,253.56 150.11,252.95 150.24,248.61 150.36,249.27 150.49,250.63 150.62,253.7 150.75,260.64 150.87,262.99 151,267.09 151.13,266.72 151.26,262.4 151.38,261.75 151.51,257.47 151.64,255.64 151.76,254.63 151.89,252.46 152.02,254.32 152.15,252.75 152.27,250.55 152.4,252.57 152.53,257.58 152.66,258.16 152.78,258.89 152.91,263.27 153.04,260.94 153.16,262.43 153.29,257.88 153.42,255.13 153.55,254.36 153.67,256.29 153.8,259.48 153.93,259.36 154.06,261.17 154.18,262 154.31,261.46 154.44,257.83 154.56,256.13 154.69,257.56 154.82,256.91 150.25,258.18 150.38,255.05 150.51,256.75 150.64,251.82 150.76,250.37 150.89,247.9 151.02,250.22 151.15,248.85 151.27,249.27 151.4,255.03 151.53,258.63 151.65,259.57 151.78,262 151.91,257.33 152.04,258.22 152.16,257.17 152.29,254.36 152.42,255.83 152.55,258.82 152.67,260.23 152.8,263.27 152.93,262.48 153.05,261.66 153.18,257.87 153.31,260.25 153.44,258.18 153.56,259.04 153.69,259.55 153.82,263.44 153.95,266.37 154.07,268.36 154.2,264.42 154.33,265.15 154.45,263.37 154.58,262.38 154.71,262.82 154.84,258.56 154.96,258.46 155.09,261.19 155.22,258.06 155.35,259.93 155.47,258.9 155.6,263.21 155.73,262 155.85,261.34 155.98,259.44 156.11,262.77 156.24,258.72 156.36,258.56" fill="none" stroke="#000" stroke-opacity="1.0" stroke-width="0.45" stroke-linejoin="round"/>
<polygon points="157,258.5 157,258.56 157.38,273.46 157.89,268.36 158.27,243.55 158.4,251.95 158.53,262.37 158.65,270.91 158.78,276.09 158.91,276.49 159.04,272.72 159.16,269.32 159.29,271.19 159.42,266.51 159.55,270.73 159.67,267.79 159.8,264.09 159.93,279.47 160.05,270.63 160.18,270.91 160.31,268.07 160.44,274.44 160.56,269.16 160.69,277.18 160.82,279.31 160.95,272.96 161.07,274.41 161.2,275.32 161.33,274.22 161.45,273.46 161.58,272.22 161.71,265.95 161.84,275.75 161.96,264.64 162.09,275.27 162.22,278.84 162.35,274.74 162.47,266.9 162.6,281.5 162.73,274.73 162.85,272.45 162.98,272.93 163.11,277.5 163.24,275.39 163.36,275.67 163.49,265.73 163.62,272.48 163.75,276.24 163.87,268.93 164,270.91 164.13,270.25 164.25,267.31 164.38,273.04 164.51,270.54 164.64,273.64 164.76,272.22 164.89,276.82 165.02,273.58 165.15,270.83 165.27,274.73 165.4,274.62 165.53,269.39 165.65,272.2 165.78,266.51 165.91,269.5 166.04,270.25 166.16,277.5 166.29,270.88 166.42,271.97 166.55,270.91 166.67,265.82 166.8,266.89 166.93,266.9 167.05,271.41 167.18,269.81 167.31,276.28 167.44,270.19 167.56,271.13 167.69,272.37 167.82,273.46 167.95,276.83 168.07,272.71 168.2,276.78 168.33,274.3 168.45,276.58 168.58,274.94 168.71,275.6 168.84,275.92 168.96,275.79 169.09,276 169.73,270.91 169.98,258.56 169.98,258.5" fill="#0072BD"/>
<polygon points="157,258.56 157.38,273.46 157.89,268.36 158.27,243.55 158.65,265.82 160.18,263.27 161.45,264.55 162.73,264.55 164,262 165.27,267.09 166.55,264.55 167.82,269.64 169.09,276 169.73,270.91 169.98,258.56 169.98,258.56 169.73,270.91 169.09,276 167.82,277.27 166.55,276 165.27,281.09 164,279.82 162.73,282.36 161.45,282.36 160.18,279.82 158.65,278.55 158.27,243.55 157.89,268.36 157.38,273.46 157,258.56" fill="#000" fill-opacity="0.05"/>
<polygon points="157,258.56 157.38,273.46 157.89,268.36 158.27,243.55 158.65,267.35 160.18,265.56 161.45,267.22 162.73,267.6 164,264.67 165.27,269.38 166.55,266.46 167.82,270.78 169.09,276 169.73,270.91 169.98,258.56 169.98,258.56 169.73,270.91 169.09,276 167.82,276.13 166.55,274.47 165.27,279.18 164,277.15 162.73,280.07 161.45,279.69 160.18,277.15 158.65,276.26 158.27,243.55 157.89,268.36 157.38,273.46 157,258.56" fill="#000" fill-opacity="0.05"/>
<polygon points="157,258.56 157.38,273.46 157.89,268.36 158.27,243.55 158.65,268.62 160.18,267.47 161.45,269.45 162.73,270.15 164,266.9 165.27,271.29 166.55,268.05 167.82,271.74 169.09,276 169.73,270.91 169.98,258.56 169.98,258.56 169.73,270.91 169.09,276 167.82,275.17 166.55,273.2 165.27,277.59 164,274.92 162.73,278.16 161.45,277.46 160.18,274.92 158.65,274.35 158.27,243.55 157.89,268.36 157.38,273.46 157,258.56" fill="#000" fill-opacity="0.07"/>
<polygon points="157,258.56 157.38,273.46 157.89,268.36 158.27,243.55 158.65,269.64 160.18,269 161.45,271.23 162.73,272.18 164,268.68 165.27,272.82 166.55,269.32 167.82,272.5 169.09,276 169.73,270.91 169.98,258.56 169.98,258.56 169.73,270.91 169.09,276 167.82,274.41 166.55,272.18 165.27,276.32 164,273.14 162.73,276.64 161.45,275.68 160.18,273.14 158.65,272.82 158.27,243.55 157.89,268.36 157.38,273.46 157,258.56" fill="#000" fill-opacity="0.1"/>
<polygon points="157,258.56 157.38,273.46 157.89,268.36 158.27,243.55 158.65,270.3 160.18,269.99 161.45,272.39 162.73,273.51 164,269.84 165.27,273.81 166.55,270.15 167.82,273 169.09,276 169.73,270.91 169.98,258.56 169.98,258.56 169.73,270.91 169.09,276 167.82,273.91 166.55,271.52 165.27,275.49 164,271.98 162.73,275.64 161.45,274.52 160.18,271.98 158.65,271.83 158.27,243.55 157.89,268.36 157.38,273.46 157,258.56" fill="#000" fill-opacity="0.14"/>
<polyline points="157,258.56 157.38,273.46 157.89,268.36 158.27,243.55 158.4,251.95 158.53,262.37 158.65,270.91 158.78,276.09 158.91,276.49 159.04,272.72 159.16,269.32 159.29,271.19 159.42,266.51 159.55,270.73 159.67,267.79 159.8,264.09 159.93,279.47 160.05,270.63 160.18,270.91 160.31,268.07 160.44,274.44 160.56,269.16 160.69,277.18 160.82,279.31 160.95,272.96 161.07,274.41 161.2,275.32 161.33,274.22 161.45,273.46 161.58,272.22 161.71,265.95 161.84,275.75 161.96,264.64 162.09,275.27 162.22,278.84 162.35,274.74 162.47,266.9 162.6,281.5 162.73,274.73 162.85,272.45 162.98,272.93 163.11,277.5 163.24,275.39 163.36,275.67 163.49,265.73 163.62,272.48 163.75,276.24 163.87,268.93 164,270.91 164.13,270.25 164.25,267.31 164.38,273.04 164.51,270.54 164.64,273.64 164.76,272.22 164.89,276.82 165.02,273.58 165.15,270.83 165.27,274.73 165.4,274.62 165.53,269.39 165.65,272.2 165.78,266.51 165.91,269.5 166.04,270.25 166.16,277.5 166.29,270.88 166.42,271.97 166.55,270.91 166.67,265.82 166.8,266.89 166.93,266.9 167.05,271.41 167.18,269.81 167.31,276.28 167.44,270.19 167.56,271.13 167.69,272.37 167.82,273.46 167.95,276.83 168.07,272.71 168.2,276.78 168.33,274.3 168.45,276.58 168.58,274.94 168.71,275.6 168.84,275.92 168.96,275.79 169.09,276 169.73,270.91 169.98,258.56" fill="none" stroke="#000" stroke-opacity="1.0" stroke-width="0.45" stroke-linejoin="round"/>
<polygon points="172.27,258.5 172.27,258.56 172.4,276 172.53,276.53 172.65,276.16 172.78,277.51 172.91,277.15 173.04,279.08 173.16,278.55 173.29,278.15 173.42,282.17 173.55,277.31 173.67,278.93 173.8,279.22 173.93,281.04 174.05,280.08 174.18,279.18 174.31,277.33 174.44,277.09 174.56,278.07 174.69,277.42 174.82,278.96 174.95,283.25 175.07,279.3 175.2,279.82 175.33,279.64 175.46,279.14 175.58,279.47 175.71,279.82 175.84,258.56 176.09,258.56 176.22,276 176.35,276.98 176.47,278.02 176.6,281.65 176.73,279.82 176.86,269.26 176.98,258.56 177.24,242.91 177.49,258.56 177.62,281.09 178.13,282.62 178.38,258.56 178.64,258.56 178.76,284.27 179.36,284.7 179.95,285.12 180.55,285.55 181.14,285.84 181.73,286.14 182.33,286.44 182.46,258.56 182.46,258.5" fill="#D95319"/>
<polygon points="172.27,258.56 172.4,276 173.16,276 174.18,275.36 175.2,276 175.71,279.82 175.84,258.56 176.09,258.56 176.22,276 176.73,276 176.98,258.56 177.24,242.91 177.49,258.56 177.62,281.09 178.13,282.62 178.38,258.56 178.64,258.56 178.76,284.27 180.55,285.55 182.33,286.44 182.46,258.56 182.46,258.56 182.33,286.44 180.55,285.55 178.76,284.27 178.64,258.56 178.38,258.56 178.13,282.62 177.62,281.09 177.49,258.56 177.24,242.91 176.98,258.56 176.73,284.91 176.22,276 176.09,258.56 175.84,258.56 175.71,279.82 175.2,284.91 174.18,283.64 173.16,282.36 172.4,276 172.27,258.56" fill="#000" fill-opacity="0.05"/>
<polygon points="172.27,258.56 172.4,276 173.16,276.76 174.18,276.51 175.2,277.15 175.71,279.82 175.84,258.56 176.09,258.56 176.22,276 176.73,277.15 176.98,258.56 177.24,242.91 177.49,258.56 177.62,281.09 178.13,282.62 178.38,258.56 178.64,258.56 178.76,284.27 180.55,285.55 182.33,286.44 182.46,258.56 182.46,258.56 182.33,286.44 180.55,285.55 178.76,284.27 178.64,258.56 178.38,258.56 178.13,282.62 177.62,281.09 177.49,258.56 177.24,242.91 176.98,258.56 176.73,283.38 176.22,276 176.09,258.56 175.84,258.56 175.71,279.82 175.2,283.38 174.18,282.3 173.16,281.22 172.4,276 172.27,258.56" fill="#000" fill-opacity="0.05"/>
<polygon points="172.27,258.56 172.4,276 173.16,277.4 174.18,277.46 175.2,278.1 175.71,279.82 175.84,258.56 176.09,258.56 176.22,276 176.73,278.1 176.98,258.56 177.24,242.91 177.49,258.56 177.62,281.09 178.13,282.62 178.38,258.56 178.64,258.56 178.76,284.27 180.55,285.55 182.33,286.44 182.46,258.56 182.46,258.56 182.33,286.44 180.55,285.55 178.76,284.27 178.64,258.56 178.38,258.56 178.13,282.62 177.62,281.09 177.49,258.56 177.24,242.91 176.98,258.56 176.73,282.11 176.22,276 176.09,258.56 175.84,258.56 175.71,279.82 175.2,282.11 174.18,281.19 173.16,280.26 172.4,276 172.27,258.56" fill="#000" fill-opacity="0.07"/>
<polygon points="172.27,258.56 172.4,276 173.16,277.91 174.18,278.23 175.2,278.86 175.71,279.82 175.84,258.56 176.09,258.56 176.22,276 176.73,278.86 176.98,258.56 177.24,242.91 177.49,258.56 177.62,281.09 178.13,282.62 178.38,258.56 178.64,258.56 178.76,284.27 180.55,285.55 182.33,286.44 182.46,258.56 182.46,258.56 182.33,286.44 180.55,285.55 178.76,284.27 178.64,258.56 178.38,258.56 178.13,282.62 177.62,281.09 177.49,258.56 177.24,242.91 176.98,258.56 176.73,281.09 176.22,276 176.09,258.56 175.84,258.56 175.71,279.82 175.2,281.09 174.18,280.3 173.16,279.5 172.4,276 172.27,258.56" fill="#000" fill-opacity="0.1"/>
<polygon points="172.27,258.56 172.4,276 173.16,278.24 174.18,278.72 175.2,279.36 175.71,279.82 175.84,258.56 176.09,258.56 176.22,276 176.73,279.36 176.98,258.56 177.24,242.91 177.49,258.56 177.62,281.09 178.13,282.62 178.38,258.56 178.64,258.56 178.76,284.27 180.55,285.55 182.33,286.44 182.46,258.56 182.46,258.56 182.33,286.44 180.55,285.55 178.76,284.27 178.64,258.56 178.38,258.56 178.13,282.62 177.62,281.09 177.49,258.56 177.24,242.91 176.98,258.56 176.73,280.43 176.22,276 176.09,258.56 175.84,258.56 175.71,279.82 175.2,280.43 174.18,279.72 173.16,279 172.4,276 172.27,258.56" fill="#000" fill-opacity="0.14"/>
<polyline points="172.27,258.56 172.4,276 172.53,276.53 172.65,276.16 172.78,277.51 172.91,277.15 173.04,279.08 173.16,278.55 173.29,278.15 173.42,282.17 173.55,277.31 173.67,278.93 173.8,279.22 173.93,281.04 174.05,280.08 174.18,279.18 174.31,277.33 174.44,277.09 174.56,278.07 174.69,277.42 174.82,278.96 174.95,283.25 175.07,279.3 175.2,279.82 175.33,279.64 175.46,279.14 175.58,279.47 175.71,279.82 175.84,258.56 176.09,258.56 176.22,276 176.35,276.98 176.47,278.02 176.6,281.65 176.73,279.82 176.86,269.26 176.98,258.56 177.24,242.91 177.49,258.56 177.62,281.09 178.13,282.62 178.38,258.56 178.64,258.56 178.76,284.27 179.36,284.7 179.95,285.12 180.55,285.55 181.14,285.84 181.73,286.14 182.33,286.44 182.46,258.56" fill="none" stroke="#000" stroke-opacity="1.0" stroke-width="0.45" stroke-linejoin="round"/>
<polygon points="183.86,258.5 183.86,258.56 184.11,276 184.49,248.64 184.75,258.18 184.75,255 185.44,255 186.14,255 186.83,255 187.53,255 188.22,255 188.92,255 189.62,255 190.31,255 191.01,255 191.7,255 192.4,255 193.1,255 193.79,255 194.49,255 195.18,255 195.18,258.56 195.18,258.5" fill="#EDB120"/>
<polyline points="183.86,258.56 184.11,276 184.49,248.64 184.75,258.18 184.75,255 185.44,255 186.14,255 186.83,255 187.53,255 188.22,255 188.92,255 189.62,255 190.31,255 191.01,255 191.7,255 192.4,255 193.1,255 193.79,255 194.49,255 195.18,255 195.18,258.56" fill="none" stroke="#000" stroke-opacity="1.0" stroke-width="0.38" stroke-linejoin="round"/>
<polygon points="195.69,258.5 195.69,258.56 195.69,267.98 196.58,269 197.47,270.02 198.11,270.72 198.75,271.42 199.38,271.74 200.02,272.06 201.04,272.06 202.06,271.8 202.82,270.66 203.46,269.51 204.22,270.66 204.98,271.8 205.75,271.29 206.51,270.53 207.53,269 208.04,270.66 208.55,272.95 209.44,273.2 209.56,258.56 209.56,258.5" fill="#7E2F8E"/>
<polyline points="195.69,258.56 195.69,267.98 196.58,269 197.47,270.02 198.11,270.72 198.75,271.42 199.38,271.74 200.02,272.06 201.04,272.06 202.06,271.8 202.82,270.66 203.46,269.51 204.22,270.66 204.98,271.8 205.75,271.29 206.51,270.53 207.53,269 208.04,270.66 208.55,272.95 209.44,273.2 209.56,258.56" fill="none" stroke="#000" stroke-opacity="1.0" stroke-width="0.38" stroke-linejoin="round"/>
<line x1="40" y1="258.5" x2="209.7" y2="258.5" stroke="#3a3a3a" stroke-width="0.45" />
<rect x="40" y="191.8" width="169.7" height="133.4" fill="none" stroke="#6e6e6e" stroke-width="0.6"/>
<line x1="40" y1="314.08" x2="41" y2="314.08" stroke="#555" stroke-width="0.5" />
<line x1="209.7" y1="314.08" x2="208.7" y2="314.08" stroke="#555" stroke-width="0.5" />
<line x1="40" y1="302.97" x2="41.7" y2="302.97" stroke="#555" stroke-width="0.5" />
<line x1="209.7" y1="302.97" x2="208" y2="302.97" stroke="#555" stroke-width="0.5" />
<line x1="40" y1="291.85" x2="41" y2="291.85" stroke="#555" stroke-width="0.5" />
<line x1="209.7" y1="291.85" x2="208.7" y2="291.85" stroke="#555" stroke-width="0.5" />
<line x1="40" y1="280.73" x2="41.7" y2="280.73" stroke="#555" stroke-width="0.5" />
<line x1="209.7" y1="280.73" x2="208" y2="280.73" stroke="#555" stroke-width="0.5" />
<line x1="40" y1="269.62" x2="41" y2="269.62" stroke="#555" stroke-width="0.5" />
<line x1="209.7" y1="269.62" x2="208.7" y2="269.62" stroke="#555" stroke-width="0.5" />
<line x1="40" y1="258.5" x2="41.7" y2="258.5" stroke="#555" stroke-width="0.5" />
<line x1="209.7" y1="258.5" x2="208" y2="258.5" stroke="#555" stroke-width="0.5" />
<line x1="40" y1="247.38" x2="41" y2="247.38" stroke="#555" stroke-width="0.5" />
<line x1="209.7" y1="247.38" x2="208.7" y2="247.38" stroke="#555" stroke-width="0.5" />
<line x1="40" y1="236.27" x2="41.7" y2="236.27" stroke="#555" stroke-width="0.5" />
<line x1="209.7" y1="236.27" x2="208" y2="236.27" stroke="#555" stroke-width="0.5" />
<line x1="40" y1="225.15" x2="41" y2="225.15" stroke="#555" stroke-width="0.5" />
<line x1="209.7" y1="225.15" x2="208.7" y2="225.15" stroke="#555" stroke-width="0.5" />
<line x1="40" y1="214.03" x2="41.7" y2="214.03" stroke="#555" stroke-width="0.5" />
<line x1="209.7" y1="214.03" x2="208" y2="214.03" stroke="#555" stroke-width="0.5" />
<line x1="40" y1="202.92" x2="41" y2="202.92" stroke="#555" stroke-width="0.5" />
<line x1="209.7" y1="202.92" x2="208.7" y2="202.92" stroke="#555" stroke-width="0.5" />
<text x="36.2" y="327.95" font-size="7.5" text-anchor="end" fill="#2a2a2a" stroke="#2a2a2a" stroke-width="0.16" >-0.03</text>
<text x="36.2" y="305.72" font-size="7.5" text-anchor="end" fill="#2a2a2a" stroke="#2a2a2a" stroke-width="0.16" >-0.02</text>
<text x="36.2" y="283.48" font-size="7.5" text-anchor="end" fill="#2a2a2a" stroke="#2a2a2a" stroke-width="0.16" >-0.01</text>
<text x="36.2" y="261.25" font-size="7.5" text-anchor="end" fill="#2a2a2a" stroke="#2a2a2a" stroke-width="0.16" >0</text>
<text x="36.2" y="239.02" font-size="7.5" text-anchor="end" fill="#2a2a2a" stroke="#2a2a2a" stroke-width="0.16" >0.01</text>
<text x="36.2" y="216.78" font-size="7.5" text-anchor="end" fill="#2a2a2a" stroke="#2a2a2a" stroke-width="0.16" >0.02</text>
<text x="36.2" y="194.55" font-size="7.5" text-anchor="end" fill="#2a2a2a" stroke="#2a2a2a" stroke-width="0.16" >0.03</text>
<text x="46.6" y="335.9" font-size="7.5" text-anchor="middle" fill="#2a2a2a" stroke="#2a2a2a" stroke-width="0.16" >1</text>
<text x="59.54" y="335.9" font-size="7.5" text-anchor="middle" fill="#2a2a2a" stroke="#2a2a2a" stroke-width="0.16" >2</text>
<text x="72.48" y="335.9" font-size="7.5" text-anchor="middle" fill="#2a2a2a" stroke="#2a2a2a" stroke-width="0.16" >3</text>
<text x="85.42" y="335.9" font-size="7.5" text-anchor="middle" fill="#2a2a2a" stroke="#2a2a2a" stroke-width="0.16" >4</text>
<text x="98.36" y="335.9" font-size="7.5" text-anchor="middle" fill="#2a2a2a" stroke="#2a2a2a" stroke-width="0.16" >5</text>
<text x="111.3" y="335.9" font-size="7.5" text-anchor="middle" fill="#2a2a2a" stroke="#2a2a2a" stroke-width="0.16" >6</text>
<text x="124.24" y="335.9" font-size="7.5" text-anchor="middle" fill="#2a2a2a" stroke="#2a2a2a" stroke-width="0.16" >7</text>
<text x="137.18" y="335.9" font-size="7.5" text-anchor="middle" fill="#2a2a2a" stroke="#2a2a2a" stroke-width="0.16" >8</text>
<text x="150.12" y="335.9" font-size="7.5" text-anchor="middle" fill="#2a2a2a" stroke="#2a2a2a" stroke-width="0.16" >9</text>
<text x="163.06" y="335.9" font-size="7.5" text-anchor="middle" fill="#2a2a2a" stroke="#2a2a2a" stroke-width="0.16" >10</text>
<text x="176" y="335.9" font-size="7.5" text-anchor="middle" fill="#2a2a2a" stroke="#2a2a2a" stroke-width="0.16" >11</text>
<text x="188.94" y="335.9" font-size="7.5" text-anchor="middle" fill="#2a2a2a" stroke="#2a2a2a" stroke-width="0.16" >12</text>
<text x="201.88" y="335.9" font-size="7.5" text-anchor="middle" fill="#2a2a2a" stroke="#2a2a2a" stroke-width="0.16" >13</text>
<text x="124.55" y="347.8" font-size="8.4" text-anchor="middle" fill="#2a2a2a" stroke="#2a2a2a" stroke-width="0.16" >Variable number</text>
<text transform="translate(12.2 258.5) rotate(-90)" font-size="8.4" text-anchor="middle" fill="#2a2a2a" stroke="#2a2a2a" stroke-width="0.16">Weight* on LV<tspan font-size="6.6" dy="2.8">1</tspan></text>
<text x="116" y="360.7" font-size="10.2" text-anchor="middle" fill="#111" font-family='"Liberation Serif", "Times New Roman", serif'>(<tspan font-weight="bold" stroke="#111" stroke-width="0.25">b</tspan>)</text>
</g>
<g id="panel-c">
<rect x="302" y="191.8" width="168.5" height="133.4" fill="#fbfbfb" />
<rect x="302.3" y="191.8" width="1.6" height="133.4" fill="#ececec" />
<rect x="312.2" y="191.8" width="1.1" height="133.4" fill="#dcdcdc" />
<rect x="313.4" y="191.8" width="3" height="133.4" fill="#c2c2c2" />
<rect x="314.85" y="191.8" width="0.4" height="133.4" fill="#dcdcdc" />
<rect x="325.09" y="191.8" width="1.1" height="133.4" fill="#dcdcdc" />
<rect x="326.29" y="191.8" width="3" height="133.4" fill="#c2c2c2" />
<rect x="327.74" y="191.8" width="0.4" height="133.4" fill="#dcdcdc" />
<rect x="337.98" y="191.8" width="1.1" height="133.4" fill="#dcdcdc" />
<rect x="339.18" y="191.8" width="3" height="133.4" fill="#c2c2c2" />
<rect x="340.63" y="191.8" width="0.4" height="133.4" fill="#dcdcdc" />
<rect x="350.87" y="191.8" width="1.1" height="133.4" fill="#dcdcdc" />
<rect x="352.07" y="191.8" width="3" height="133.4" fill="#c2c2c2" />
<rect x="353.52" y="191.8" width="0.4" height="133.4" fill="#dcdcdc" />
<rect x="363.76" y="191.8" width="1.1" height="133.4" fill="#dcdcdc" />
<rect x="364.96" y="191.8" width="3" height="133.4" fill="#c2c2c2" />
<rect x="366.41" y="191.8" width="0.4" height="133.4" fill="#dcdcdc" />
<rect x="376.65" y="191.8" width="1.1" height="133.4" fill="#dcdcdc" />
<rect x="377.85" y="191.8" width="3" height="133.4" fill="#c2c2c2" />
<rect x="379.3" y="191.8" width="0.4" height="133.4" fill="#dcdcdc" />
<rect x="389.54" y="191.8" width="1.1" height="133.4" fill="#dcdcdc" />
<rect x="390.74" y="191.8" width="3" height="133.4" fill="#c2c2c2" />
<rect x="392.19" y="191.8" width="0.4" height="133.4" fill="#dcdcdc" />
<rect x="402.43" y="191.8" width="1.1" height="133.4" fill="#dcdcdc" />
<rect x="403.63" y="191.8" width="3" height="133.4" fill="#c2c2c2" />
<rect x="405.08" y="191.8" width="0.4" height="133.4" fill="#dcdcdc" />
<rect x="415.32" y="191.8" width="1.1" height="133.4" fill="#dcdcdc" />
<rect x="416.52" y="191.8" width="3" height="133.4" fill="#c2c2c2" />
<rect x="417.97" y="191.8" width="0.4" height="133.4" fill="#dcdcdc" />
<rect x="428.21" y="191.8" width="1.1" height="133.4" fill="#dcdcdc" />
<rect x="429.41" y="191.8" width="3" height="133.4" fill="#c2c2c2" />
<rect x="430.86" y="191.8" width="0.4" height="133.4" fill="#dcdcdc" />
<rect x="441.1" y="191.8" width="1.1" height="133.4" fill="#dcdcdc" />
<rect x="442.3" y="191.8" width="3" height="133.4" fill="#c2c2c2" />
<rect x="443.75" y="191.8" width="0.4" height="133.4" fill="#dcdcdc" />
<rect x="453.99" y="191.8" width="1.1" height="133.4" fill="#dcdcdc" />
<rect x="455.19" y="191.8" width="3" height="133.4" fill="#c2c2c2" />
<rect x="456.64" y="191.8" width="0.4" height="133.4" fill="#dcdcdc" />
<rect x="467.5" y="191.8" width="3" height="133.4" fill="#c2c2c2" />
<polygon points="302.04,258.5 302.04,258.82 302.04,269.64 302.86,269.76 303.69,269.89 304.07,274.09 304.84,276.64 305.6,276.96 306.36,277.27 306.94,277.34 307.51,277.4 308.4,276 309.16,275.49 309.93,275.05 310.69,274.6 311.45,274.35 312.22,274.09 313.24,273.33 314.25,272.31 314.89,271.55 315.02,258.82 315.02,258.5" fill="#77AC30"/>
<polyline points="302.04,258.82 302.04,269.64 302.86,269.76 303.69,269.89 304.07,274.09 304.84,276.64 305.6,276.96 306.36,277.27 306.94,277.34 307.51,277.4 308.4,276 309.16,275.49 309.93,275.05 310.69,274.6 311.45,274.35 312.22,274.09 313.24,273.33 314.25,272.31 314.89,271.55 315.02,258.82" fill="none" stroke="#000" stroke-opacity="1.0" stroke-width="0.38" stroke-linejoin="round"/>
<polygon points="315.02,258.18 315.91,242.91 320.36,232.73 324.18,232.73 327.49,245.46 331.18,231.45 336.91,231.45 340.47,255.64 340.98,258.82 340.98,258.82 340.47,286.82 336.91,282.36 331.18,283.64 327.49,287.46 324.18,284.91 320.36,282.36 315.91,283.64 315.02,259.46" fill="#000" fill-opacity="0.09"/>
<polygon points="315.02,258.44 315.91,249.27 320.36,243.16 324.18,243.16 327.49,250.8 331.18,242.4 336.91,242.4 340.47,256.91 340.98,258.82 340.98,258.82 340.47,275.62 336.91,272.95 331.18,273.71 327.49,276 324.18,274.47 320.36,272.95 315.91,273.71 315.02,259.2" fill="#000" fill-opacity="0.1"/>
<polygon points="315.02,258.5 315.02,258.82 315.15,255.57 315.27,250.8 315.4,249.4 315.53,242.27 315.65,254.94 315.78,260.02 315.91,270.46 316.04,283.64 316.16,282.05 316.29,282.56 316.42,277.1 316.55,276 316.67,273.44 316.8,270.87 316.93,267.68 317.05,267.25 317.18,261.12 317.31,258.82 317.44,261.93 317.56,263.23 317.69,263.21 317.82,268.36 317.95,264.3 318.07,252.78 318.2,246.96 318.33,241.64 318.45,246.77 318.58,251.67 318.71,257.09 318.84,258.82 318.96,258.26 319.09,264.59 319.22,266.65 319.35,270 319.47,270.91 319.6,264.95 319.73,262.93 319.85,259.52 319.98,256.18 320.11,251.82 320.24,248.4 320.36,240.89 320.49,232.73 320.62,239.25 320.75,245.49 320.87,253.35 321,258.82 321.13,265.89 321.25,267.26 321.38,272.21 321.51,275.81 321.64,281.09 321.76,279.24 321.89,277.52 322.02,278.45 322.15,278.2 322.27,276 322.4,268.94 322.53,267.13 322.65,261.4 322.78,258.82 322.91,254.19 323.04,244.57 323.16,236.56 323.29,231.45 323.42,239.11 323.55,246.23 323.67,254.02 323.8,258.82 323.93,260.21 324.05,265.52 324.18,270.91 324.31,264.68 324.44,257.26 324.56,252.3 324.69,248 324.82,250.97 324.95,251.8 325.07,257.84 325.2,258.82 325.33,262.09 325.46,264 325.58,265.01 325.71,272.5 325.84,273.46 325.96,272.3 326.09,277.16 326.22,278.39 326.35,278.37 326.47,279.82 326.6,281.04 326.73,280.27 326.86,286.07 326.98,285.49 327.11,287.25 327.24,287.46 327.36,283.07 327.49,274.28 327.62,270.72 327.75,264.56 327.87,258.82 327.87,258.5" fill="#4DBEEE"/>
<polygon points="315.02,255.82 315.53,239.27 316.04,280.64 316.55,273 317.31,255.82 317.82,265.36 318.33,238.64 318.84,255.82 319.47,267.91 320.11,248.82 320.49,229.73 321,255.82 321.64,278.09 322.27,273 322.78,255.82 323.29,228.45 323.8,255.82 324.18,267.91 324.69,245 325.2,255.82 325.84,270.46 326.47,276.82 327.24,284.46 327.87,255.82 327.87,261.82 327.24,290.46 326.47,282.82 325.84,276.46 325.2,261.82 324.69,251 324.18,273.91 323.8,261.82 323.29,234.45 322.78,261.82 322.27,279 321.64,284.09 321,261.82 320.49,235.73 320.11,254.82 319.47,273.91 318.84,261.82 318.33,244.64 317.82,271.36 317.31,261.82 316.55,279 316.04,286.64 315.53,245.27 315.02,261.82" fill="#000" fill-opacity="0.05"/>
<polygon points="315.02,256.72 315.53,240.17 316.04,281.54 316.55,273.9 317.31,256.72 317.82,266.26 318.33,239.54 318.84,256.72 319.47,268.81 320.11,249.72 320.49,230.63 321,256.72 321.64,278.99 322.27,273.9 322.78,256.72 323.29,229.35 323.8,256.72 324.18,268.81 324.69,245.9 325.2,256.72 325.84,271.36 326.47,277.72 327.24,285.36 327.87,256.72 327.87,260.92 327.24,289.56 326.47,281.92 325.84,275.56 325.2,260.92 324.69,250.1 324.18,273.01 323.8,260.92 323.29,233.55 322.78,260.92 322.27,278.1 321.64,283.19 321,260.92 320.49,234.83 320.11,253.92 319.47,273.01 318.84,260.92 318.33,243.74 317.82,270.46 317.31,260.92 316.55,278.1 316.04,285.74 315.53,244.37 315.02,260.92" fill="#000" fill-opacity="0.05"/>
<polygon points="315.02,257.47 315.53,240.92 316.04,282.29 316.55,274.65 317.31,257.47 317.82,267.01 318.33,240.29 318.84,257.47 319.47,269.56 320.11,250.47 320.49,231.38 321,257.47 321.64,279.74 322.27,274.65 322.78,257.47 323.29,230.1 323.8,257.47 324.18,269.56 324.69,246.65 325.2,257.47 325.84,272.11 326.47,278.47 327.24,286.11 327.87,257.47 327.87,260.17 327.24,288.81 326.47,281.17 325.84,274.81 325.2,260.17 324.69,249.35 324.18,272.26 323.8,260.17 323.29,232.8 322.78,260.17 322.27,277.35 321.64,282.44 321,260.17 320.49,234.08 320.11,253.17 319.47,272.26 318.84,260.17 318.33,242.99 317.82,269.71 317.31,260.17 316.55,277.35 316.04,284.99 315.53,243.62 315.02,260.17" fill="#000" fill-opacity="0.07"/>
<polygon points="315.02,258.07 315.53,241.52 316.04,282.89 316.55,275.25 317.31,258.07 317.82,267.61 318.33,240.89 318.84,258.07 319.47,270.16 320.11,251.07 320.49,231.98 321,258.07 321.64,280.34 322.27,275.25 322.78,258.07 323.29,230.7 323.8,258.07 324.18,270.16 324.69,247.25 325.2,258.07 325.84,272.71 326.47,279.07 327.24,286.71 327.87,258.07 327.87,259.57 327.24,288.21 326.47,280.57 325.84,274.21 325.2,259.57 324.69,248.75 324.18,271.66 323.8,259.57 323.29,232.2 322.78,259.57 322.27,276.75 321.64,281.84 321,259.57 320.49,233.48 320.11,252.57 319.47,271.66 318.84,259.57 318.33,242.39 317.82,269.11 317.31,259.57 316.55,276.75 316.04,284.39 315.53,243.02 315.02,259.57" fill="#000" fill-opacity="0.1"/>
<polygon points="315.02,258.46 315.53,241.91 316.04,283.28 316.55,275.64 317.31,258.46 317.82,268 318.33,241.28 318.84,258.46 319.47,270.55 320.11,251.46 320.49,232.37 321,258.46 321.64,280.73 322.27,275.64 322.78,258.46 323.29,231.09 323.8,258.46 324.18,270.55 324.69,247.64 325.2,258.46 325.84,273.1 326.47,279.46 327.24,287.1 327.87,258.46 327.87,259.18 327.24,287.82 326.47,280.18 325.84,273.82 325.2,259.18 324.69,248.36 324.18,271.27 323.8,259.18 323.29,231.81 322.78,259.18 322.27,276.36 321.64,281.45 321,259.18 320.49,233.09 320.11,252.18 319.47,271.27 318.84,259.18 318.33,242 317.82,268.72 317.31,259.18 316.55,276.36 316.04,284 315.53,242.63 315.02,259.18" fill="#000" fill-opacity="0.14"/>
<polyline points="315.02,258.82 315.15,255.57 315.27,250.8 315.4,249.4 315.53,242.27 315.65,254.94 315.78,260.02 315.91,270.46 316.04,283.64 316.16,282.05 316.29,282.56 316.42,277.1 316.55,276 316.67,273.44 316.8,270.87 316.93,267.68 317.05,267.25 317.18,261.12 317.31,258.82 317.44,261.93 317.56,263.23 317.69,263.21 317.82,268.36 317.95,264.3 318.07,252.78 318.2,246.96 318.33,241.64 318.45,246.77 318.58,251.67 318.71,257.09 318.84,258.82 318.96,258.26 319.09,264.59 319.22,266.65 319.35,270 319.47,270.91 319.6,264.95 319.73,262.93 319.85,259.52 319.98,256.18 320.11,251.82 320.24,248.4 320.36,240.89 320.49,232.73 320.62,239.25 320.75,245.49 320.87,253.35 321,258.82 321.13,265.89 321.25,267.26 321.38,272.21 321.51,275.81 321.64,281.09 321.76,279.24 321.89,277.52 322.02,278.45 322.15,278.2 322.27,276 322.4,268.94 322.53,267.13 322.65,261.4 322.78,258.82 322.91,254.19 323.04,244.57 323.16,236.56 323.29,231.45 323.42,239.11 323.55,246.23 323.67,254.02 323.8,258.82 323.93,260.21 324.05,265.52 324.18,270.91 324.31,264.68 324.44,257.26 324.56,252.3 324.69,248 324.82,250.97 324.95,251.8 325.07,257.84 325.2,258.82 325.33,262.09 325.46,264 325.58,265.01 325.71,272.5 325.84,273.46 325.96,272.3 326.09,277.16 326.22,278.39 326.35,278.37 326.47,279.82 326.6,281.04 326.73,280.27 326.86,286.07 326.98,285.49 327.11,287.25 327.24,287.46 327.36,283.07 327.49,274.28 327.62,270.72 327.75,264.56 327.87,258.82" fill="none" stroke="#000" stroke-opacity="1.0" stroke-width="0.45" stroke-linejoin="round"/>
<polygon points="328,258.5 328,258.82 328.13,256.57 328.26,258.11 328.38,254.31 328.51,251.82 328.64,257.98 328.76,259.98 328.89,269.94 329.02,273.46 329.15,278.92 329.27,276.13 329.4,283.57 329.53,281.63 329.66,286.18 329.78,281.4 329.91,273.58 330.04,267.09 330.16,264.26 330.29,258.82 330.42,250.36 330.55,247.1 330.67,241.58 330.8,237.61 330.93,230.18 331.06,242.41 331.18,248.99 331.31,258.39 331.44,270.91 331.56,267.14 331.69,255.67 331.82,254.61 331.95,245.46 332.07,252.67 332.2,260.68 332.33,270.68 332.46,278.36 332.58,283.64 332.71,278.07 332.84,271.06 332.96,265.44 333.09,258.82 333.22,252.54 333.35,247.77 333.47,241.09 333.6,237.82 333.73,246 333.86,256.91 333.98,266.19 334.11,273.46 334.24,264.82 334.36,256.01 334.49,248.61 334.62,242.91 334.75,250.99 334.87,258.33 335,266.15 335.13,273.05 335.26,281.09 335.38,279.55 335.51,270.95 335.64,265.47 335.76,262.03 335.89,258.82 336.02,250.83 336.15,244.83 336.27,241.58 336.4,237.68 336.53,230.82 336.66,234.04 336.78,238.45 336.91,247.84 337.04,250.55 337.16,253.03 337.29,252.91 337.42,255.65 337.55,257.19 337.67,258.82 337.8,259.84 337.93,263.27 338.06,261.02 338.18,264.04 338.31,268.88 338.44,268.36 338.56,271.22 338.69,269.85 338.82,269.28 338.95,274.89 339.07,272.86 339.2,276.56 339.33,275.02 339.46,277.27 339.58,279.14 339.71,279.33 339.84,283.79 339.96,282.43 340.09,283.35 340.22,285.76 340.35,286.82 340.47,279.44 340.6,274.84 340.73,262.96 340.86,258.82 340.86,258.5" fill="#A2142F"/>
<polygon points="328,255.82 328.51,248.82 329.02,270.46 329.66,283.18 330.29,255.82 330.93,227.18 331.44,267.91 331.95,242.46 332.58,280.64 333.09,255.82 333.6,234.82 334.11,270.46 334.62,239.91 335.26,278.09 335.89,255.82 336.53,227.82 337.04,247.55 337.67,255.82 338.44,265.36 339.46,274.27 340.35,283.82 340.86,255.82 340.86,261.82 340.35,289.82 339.46,280.27 338.44,271.36 337.67,261.82 337.04,253.55 336.53,233.82 335.89,261.82 335.26,284.09 334.62,245.91 334.11,276.46 333.6,240.82 333.09,261.82 332.58,286.64 331.95,248.46 331.44,273.91 330.93,233.18 330.29,261.82 329.66,289.18 329.02,276.46 328.51,254.82 328,261.82" fill="#000" fill-opacity="0.05"/>
<polygon points="328,256.72 328.51,249.72 329.02,271.36 329.66,284.08 330.29,256.72 330.93,228.08 331.44,268.81 331.95,243.36 332.58,281.54 333.09,256.72 333.6,235.72 334.11,271.36 334.62,240.81 335.26,278.99 335.89,256.72 336.53,228.72 337.04,248.45 337.67,256.72 338.44,266.26 339.46,275.17 340.35,284.72 340.86,256.72 340.86,260.92 340.35,288.92 339.46,279.37 338.44,270.46 337.67,260.92 337.04,252.65 336.53,232.92 335.89,260.92 335.26,283.19 334.62,245.01 334.11,275.56 333.6,239.92 333.09,260.92 332.58,285.74 331.95,247.56 331.44,273.01 330.93,232.28 330.29,260.92 329.66,288.28 329.02,275.56 328.51,253.92 328,260.92" fill="#000" fill-opacity="0.05"/>
<polygon points="328,257.47 328.51,250.47 329.02,272.11 329.66,284.83 330.29,257.47 330.93,228.83 331.44,269.56 331.95,244.11 332.58,282.29 333.09,257.47 333.6,236.47 334.11,272.11 334.62,241.56 335.26,279.74 335.89,257.47 336.53,229.47 337.04,249.2 337.67,257.47 338.44,267.01 339.46,275.92 340.35,285.47 340.86,257.47 340.86,260.17 340.35,288.17 339.46,278.62 338.44,269.71 337.67,260.17 337.04,251.9 336.53,232.17 335.89,260.17 335.26,282.44 334.62,244.26 334.11,274.81 333.6,239.17 333.09,260.17 332.58,284.99 331.95,246.81 331.44,272.26 330.93,231.53 330.29,260.17 329.66,287.53 329.02,274.81 328.51,253.17 328,260.17" fill="#000" fill-opacity="0.07"/>
<polygon points="328,258.07 328.51,251.07 329.02,272.71 329.66,285.43 330.29,258.07 330.93,229.43 331.44,270.16 331.95,244.71 332.58,282.89 333.09,258.07 333.6,237.07 334.11,272.71 334.62,242.16 335.26,280.34 335.89,258.07 336.53,230.07 337.04,249.8 337.67,258.07 338.44,267.61 339.46,276.52 340.35,286.07 340.86,258.07 340.86,259.57 340.35,287.57 339.46,278.02 338.44,269.11 337.67,259.57 337.04,251.3 336.53,231.57 335.89,259.57 335.26,281.84 334.62,243.66 334.11,274.21 333.6,238.57 333.09,259.57 332.58,284.39 331.95,246.21 331.44,271.66 330.93,230.93 330.29,259.57 329.66,286.93 329.02,274.21 328.51,252.57 328,259.57" fill="#000" fill-opacity="0.1"/>
<polygon points="328,258.46 328.51,251.46 329.02,273.1 329.66,285.82 330.29,258.46 330.93,229.82 331.44,270.55 331.95,245.1 332.58,283.28 333.09,258.46 333.6,237.46 334.11,273.1 334.62,242.55 335.26,280.73 335.89,258.46 336.53,230.46 337.04,250.19 337.67,258.46 338.44,268 339.46,276.91 340.35,286.46 340.86,258.46 340.86,259.18 340.35,287.18 339.46,277.63 338.44,268.72 337.67,259.18 337.04,250.91 336.53,231.18 335.89,259.18 335.26,281.45 334.62,243.27 334.11,273.82 333.6,238.18 333.09,259.18 332.58,284 331.95,245.82 331.44,271.27 330.93,230.54 330.29,259.18 329.66,286.54 329.02,273.82 328.51,252.18 328,259.18" fill="#000" fill-opacity="0.14"/>
<polyline points="328,258.82 328.13,256.57 328.26,258.11 328.38,254.31 328.51,251.82 328.64,257.98 328.76,259.98 328.89,269.94 329.02,273.46 329.15,278.92 329.27,276.13 329.4,283.57 329.53,281.63 329.66,286.18 329.78,281.4 329.91,273.58 330.04,267.09 330.16,264.26 330.29,258.82 330.42,250.36 330.55,247.1 330.67,241.58 330.8,237.61 330.93,230.18 331.06,242.41 331.18,248.99 331.31,258.39 331.44,270.91 331.56,267.14 331.69,255.67 331.82,254.61 331.95,245.46 332.07,252.67 332.2,260.68 332.33,270.68 332.46,278.36 332.58,283.64 332.71,278.07 332.84,271.06 332.96,265.44 333.09,258.82 333.22,252.54 333.35,247.77 333.47,241.09 333.6,237.82 333.73,246 333.86,256.91 333.98,266.19 334.11,273.46 334.24,264.82 334.36,256.01 334.49,248.61 334.62,242.91 334.75,250.99 334.87,258.33 335,266.15 335.13,273.05 335.26,281.09 335.38,279.55 335.51,270.95 335.64,265.47 335.76,262.03 335.89,258.82 336.02,250.83 336.15,244.83 336.27,241.58 336.4,237.68 336.53,230.82 336.66,234.04 336.78,238.45 336.91,247.84 337.04,250.55 337.16,253.03 337.29,252.91 337.42,255.65 337.55,257.19 337.67,258.82 337.8,259.84 337.93,263.27 338.06,261.02 338.18,264.04 338.31,268.88 338.44,268.36 338.56,271.22 338.69,269.85 338.82,269.28 338.95,274.89 339.07,272.86 339.2,276.56 339.33,275.02 339.46,277.27 339.58,279.14 339.71,279.33 339.84,283.79 339.96,282.43 340.09,283.35 340.22,285.76 340.35,286.82 340.47,279.44 340.6,274.84 340.73,262.96 340.86,258.82" fill="none" stroke="#000" stroke-opacity="1.0" stroke-width="0.45" stroke-linejoin="round"/>
<polygon points="347.56,258.5 347.56,258.99 347.73,290.42 348.4,310.59 349.08,290.42 349.41,262.69 350.08,262.69 350.76,262.69 351.43,262.69 352.1,262.69 352.77,262.69 353.45,262.69 353.45,258.99 353.45,258.5" fill="#0072BD"/>
<polyline points="347.56,258.99 347.73,290.42 348.4,310.59 349.08,290.42 349.41,262.69 350.08,262.69 350.76,262.69 351.43,262.69 352.1,262.69 352.77,262.69 353.45,262.69 353.45,258.99" fill="none" stroke="#000" stroke-opacity="1.0" stroke-width="0.38" stroke-linejoin="round"/>
<polygon points="363.03,258.5 363.03,258.99 363.53,245.88 364.03,258.99 364.2,265.21 364.34,267.29 364.47,271.6 364.61,273.17 364.74,273.17 364.87,276.13 365.01,276.87 365.15,278.07 365.29,277.82 365.43,283.99 365.57,284.83 365.71,282.02 365.85,283.98 365.98,286.69 366.12,291.69 366.25,294.42 366.39,295.46 366.89,282.02 367.06,258.99 367.06,258.5" fill="#D95319"/>
<polygon points="363.03,258.99 363.53,245.88 364.03,258.99 364.2,265.21 364.87,274.45 365.71,280.34 366.39,295.46 366.89,282.02 367.06,258.99 367.06,258.99 366.89,282.02 366.39,295.46 365.71,293.78 364.87,282.86 364.2,265.21 364.03,258.99 363.53,245.88 363.03,258.99" fill="#000" fill-opacity="0.05"/>
<polygon points="363.03,258.99 363.53,245.88 364.03,258.99 364.2,265.21 364.87,274.96 365.71,280.84 366.39,295.46 366.89,282.02 367.06,258.99 367.06,258.99 366.89,282.02 366.39,295.46 365.71,290.25 364.87,280.84 364.2,265.21 364.03,258.99 363.53,245.88 363.03,258.99" fill="#000" fill-opacity="0.05"/>
<polygon points="363.03,258.99 363.53,245.88 364.03,258.99 364.2,265.21 364.87,275.38 365.71,281.26 366.39,295.46 366.89,282.02 367.06,258.99 367.06,258.99 366.89,282.02 366.39,295.46 365.71,287.31 364.87,279.16 364.2,265.21 364.03,258.99 363.53,245.88 363.03,258.99" fill="#000" fill-opacity="0.07"/>
<polygon points="363.03,258.99 363.53,245.88 364.03,258.99 364.2,265.21 364.87,275.71 365.71,281.6 366.39,295.46 366.89,282.02 367.06,258.99 367.06,258.99 366.89,282.02 366.39,295.46 365.71,284.96 364.87,277.82 364.2,265.21 364.03,258.99 363.53,245.88 363.03,258.99" fill="#000" fill-opacity="0.1"/>
<polygon points="363.03,258.99 363.53,245.88 364.03,258.99 364.2,265.21 364.87,275.93 365.71,281.82 366.39,295.46 366.89,282.02 367.06,258.99 367.06,258.99 366.89,282.02 366.39,295.46 365.71,283.43 364.87,276.94 364.2,265.21 364.03,258.99 363.53,245.88 363.03,258.99" fill="#000" fill-opacity="0.14"/>
<polyline points="363.03,258.99 363.53,245.88 364.03,258.99 364.2,265.21 364.34,267.29 364.47,271.6 364.61,273.17 364.74,273.17 364.87,276.13 365.01,276.87 365.15,278.07 365.29,277.82 365.43,283.99 365.57,284.83 365.71,282.02 365.85,283.98 365.98,286.69 366.12,291.69 366.25,294.42 366.39,295.46 366.89,282.02 367.06,258.99" fill="none" stroke="#000" stroke-opacity="1.0" stroke-width="0.45" stroke-linejoin="round"/>
<polygon points="369.41,258.5 369.41,258.99 369.58,269.41 369.71,269.69 369.85,277.45 369.98,278.35 370.12,280.63 370.25,271.09 370.39,278.2 370.52,270.72 370.66,271.44 370.79,288.16 370.92,276.01 371.06,272.28 371.19,280.98 371.33,301.73 371.46,272.68 371.6,274.45 371.73,282.76 371.87,272.69 372,274.42 372.13,274.03 372.27,289.64 372.4,275.46 372.54,299.59 372.67,296.63 372.81,292.15 372.94,278.66 373.07,276.17 373.2,277.87 373.33,278.22 373.46,277.97 373.59,281.83 373.73,281.51 373.86,282.1 373.99,281.74 374.12,284.54 374.26,284.77 374.4,284.1 374.54,298.27 374.68,285.77 374.82,288.35 374.96,289.58 375.08,288.94 375.21,302.48 375.34,291.8 375.46,293.78 375.63,321.34 376.3,321.6 376.97,321.85 377.69,321.85 378.4,321.85 379.12,321.85 379.83,321.85 380,258.99 380,258.5" fill="#EDB120"/>
<polygon points="369.41,258.99 369.58,269.41 370.25,269.41 371.6,271.93 372.94,275.29 374.12,281.18 374.96,287.06 375.46,292.1 375.63,321.34 376.97,321.85 379.83,321.85 380,258.99 380,258.99 379.83,321.85 376.97,321.85 375.63,321.34 375.46,310.59 374.96,316.47 374.12,318.15 372.94,317.31 371.6,308.07 370.25,292.94 369.58,269.41 369.41,258.99" fill="#000" fill-opacity="0.05"/>
<polygon points="369.41,258.99 369.58,269.41 370.25,269.92 371.6,272.69 372.94,276.3 374.12,282.18 374.96,287.82 375.46,292.61 375.63,321.34 376.97,321.85 379.83,321.85 380,258.99 380,258.99 379.83,321.85 376.97,321.85 375.63,321.34 375.46,305.55 374.96,308.4 374.12,308.07 372.94,305.71 371.6,297.98 370.25,286.39 369.58,269.41 369.41,258.99" fill="#000" fill-opacity="0.05"/>
<polygon points="369.41,258.99 369.58,269.41 370.25,270.34 371.6,273.32 372.94,277.14 374.12,283.03 374.96,288.45 375.46,293.03 375.63,321.34 376.97,321.85 379.83,321.85 380,258.99 380,258.99 379.83,321.85 376.97,321.85 375.63,321.34 375.46,301.34 374.96,301.68 374.12,299.66 372.94,296.05 371.6,289.58 370.25,280.92 369.58,269.41 369.41,258.99" fill="#000" fill-opacity="0.07"/>
<polygon points="369.41,258.99 369.58,269.41 370.25,270.67 371.6,273.82 372.94,277.82 374.12,283.7 374.96,288.95 375.46,293.36 375.63,321.34 376.97,321.85 379.83,321.85 380,258.99 380,258.99 379.83,321.85 376.97,321.85 375.63,321.34 375.46,297.98 374.96,296.3 374.12,292.94 372.94,288.32 371.6,282.86 370.25,276.55 369.58,269.41 369.41,258.99" fill="#000" fill-opacity="0.1"/>
<polygon points="369.41,258.99 369.58,269.41 370.25,270.89 371.6,274.15 372.94,278.25 374.12,284.13 374.96,289.28 375.46,293.58 375.63,321.34 376.97,321.85 379.83,321.85 380,258.99 380,258.99 379.83,321.85 376.97,321.85 375.63,321.34 375.46,295.8 374.96,292.81 374.12,288.57 372.94,283.29 371.6,278.49 370.25,273.71 369.58,269.41 369.41,258.99" fill="#000" fill-opacity="0.14"/>
<polyline points="369.41,258.99 369.58,269.41 369.71,269.69 369.85,277.45 369.98,278.35 370.12,280.63 370.25,271.09 370.39,278.2 370.52,270.72 370.66,271.44 370.79,288.16 370.92,276.01 371.06,272.28 371.19,280.98 371.33,301.73 371.46,272.68 371.6,274.45 371.73,282.76 371.87,272.69 372,274.42 372.13,274.03 372.27,289.64 372.4,275.46 372.54,299.59 372.67,296.63 372.81,292.15 372.94,278.66 373.07,276.17 373.2,277.87 373.33,278.22 373.46,277.97 373.59,281.83 373.73,281.51 373.86,282.1 373.99,281.74 374.12,284.54 374.26,284.77 374.4,284.1 374.54,298.27 374.68,285.77 374.82,288.35 374.96,289.58 375.08,288.94 375.21,302.48 375.34,291.8 375.46,293.78 375.63,321.34 376.3,321.6 376.97,321.85 377.69,321.85 378.4,321.85 379.12,321.85 379.83,321.85 380,258.99" fill="none" stroke="#000" stroke-opacity="0.85" stroke-width="0.3" stroke-linejoin="round"/>
<polygon points="379.5,258.5 379.5,258.99 380,243.36 380.5,251.76 380.84,258.99 380.84,288.74 380.98,288.9 381.12,289.37 381.26,294.31 381.4,290.61 381.54,292.07 381.68,292.1 381.82,294.92 381.95,294.41 382.08,292.35 382.22,292.76 382.35,291.4 382.49,293.09 382.62,292.62 382.76,292.3 382.89,297.79 383.03,294.62 383.15,306.71 383.28,292.23 383.41,305.41 383.54,292.47 383.67,295.3 383.8,292.24 383.93,297.5 384.06,295.36 384.19,293.34 384.32,295.6 384.45,305.88 384.58,293.26 384.71,296.3 384.84,305.61 384.96,307.41 385.09,306.26 385.22,293.66 385.35,304.27 385.48,292.65 385.61,297.4 385.74,294.98 385.87,295.04 386,294.71 386.13,293.48 386.26,305.05 386.39,294.62 386.52,291.84 386.65,292.79 386.77,303.68 386.9,293.06 387.03,294.3 387.16,299.97 387.29,292.15 387.42,303.61 387.55,290.74 387.68,297.28 387.81,293.3 387.94,298.49 388.07,292.94 388.2,290.66 388.34,291.5 388.47,298.58 388.61,291.15 388.74,290.67 388.87,293.01 389.01,293.51 389.14,292.25 389.28,297.5 389.41,290.42 389.55,294.29 389.69,289.58 389.83,289.14 389.97,290.96 390.11,288.83 390.25,288.74 390.59,258.99 391.09,246.72 391.76,258.99 391.76,258.5" fill="#7E2F8E"/>
<polygon points="379.5,258.99 380,243.36 380.5,251.76 380.84,258.99 380.84,288.74 381.68,289.58 383.03,291.26 384.71,292.94 386.39,291.26 388.07,290.42 389.41,288.74 390.25,288.74 390.59,258.99 391.09,246.72 391.76,258.99 391.76,258.99 391.09,246.72 390.59,258.99 390.25,288.74 389.41,297.14 388.07,303.03 386.39,307.23 384.71,309.75 383.03,309.75 381.68,302.18 380.84,288.74 380.84,258.99 380.5,251.76 380,243.36 379.5,258.99" fill="#000" fill-opacity="0.05"/>
<polygon points="379.5,258.99 380,243.36 380.5,251.76 380.84,258.99 380.84,288.74 381.68,290.34 383.03,292.27 384.71,293.95 386.39,292.27 388.07,291.18 389.41,289.24 390.25,288.74 390.59,258.99 391.09,246.72 391.76,258.99 391.76,258.99 391.09,246.72 390.59,258.99 390.25,288.74 389.41,295.13 388.07,300 386.39,303.45 384.71,305.71 383.03,305.21 381.68,299.16 380.84,288.74 380.84,258.99 380.5,251.76 380,243.36 379.5,258.99" fill="#000" fill-opacity="0.05"/>
<polygon points="379.5,258.99 380,243.36 380.5,251.76 380.84,258.99 380.84,288.74 381.68,290.97 383.03,293.11 384.71,294.79 386.39,293.11 388.07,291.81 389.41,289.66 390.25,288.74 390.59,258.99 391.09,246.72 391.76,258.99 391.76,258.99 391.09,246.72 390.59,258.99 390.25,288.74 389.41,293.45 388.07,297.48 386.39,300.29 384.71,302.35 383.03,301.43 381.68,296.64 380.84,288.74 380.84,258.99 380.5,251.76 380,243.36 379.5,258.99" fill="#000" fill-opacity="0.07"/>
<polygon points="379.5,258.99 380,243.36 380.5,251.76 380.84,258.99 380.84,288.74 381.68,291.47 383.03,293.78 384.71,295.46 386.39,293.78 388.07,292.31 389.41,290 390.25,288.74 390.59,258.99 391.09,246.72 391.76,258.99 391.76,258.99 391.09,246.72 390.59,258.99 390.25,288.74 389.41,292.1 388.07,295.46 386.39,297.77 384.71,299.66 383.03,298.4 381.68,294.62 380.84,288.74 380.84,258.99 380.5,251.76 380,243.36 379.5,258.99" fill="#000" fill-opacity="0.1"/>
<polygon points="379.5,258.99 380,243.36 380.5,251.76 380.84,258.99 380.84,288.74 381.68,291.8 383.03,294.22 384.71,295.9 386.39,294.22 388.07,292.64 389.41,290.22 390.25,288.74 390.59,258.99 391.09,246.72 391.76,258.99 391.76,258.99 391.09,246.72 390.59,258.99 390.25,288.74 389.41,291.23 388.07,294.15 386.39,296.13 384.71,297.92 383.03,296.44 381.68,293.31 380.84,288.74 380.84,258.99 380.5,251.76 380,243.36 379.5,258.99" fill="#000" fill-opacity="0.14"/>
<polyline points="379.5,258.99 380,243.36 380.5,251.76 380.84,258.99 380.84,288.74 380.98,288.9 381.12,289.37 381.26,294.31 381.4,290.61 381.54,292.07 381.68,292.1 381.82,294.92 381.95,294.41 382.08,292.35 382.22,292.76 382.35,291.4 382.49,293.09 382.62,292.62 382.76,292.3 382.89,297.79 383.03,294.62 383.15,306.71 383.28,292.23 383.41,305.41 383.54,292.47 383.67,295.3 383.8,292.24 383.93,297.5 384.06,295.36 384.19,293.34 384.32,295.6 384.45,305.88 384.58,293.26 384.71,296.3 384.84,305.61 384.96,307.41 385.09,306.26 385.22,293.66 385.35,304.27 385.48,292.65 385.61,297.4 385.74,294.98 385.87,295.04 386,294.71 386.13,293.48 386.26,305.05 386.39,294.62 386.52,291.84 386.65,292.79 386.77,303.68 386.9,293.06 387.03,294.3 387.16,299.97 387.29,292.15 387.42,303.61 387.55,290.74 387.68,297.28 387.81,293.3 387.94,298.49 388.07,292.94 388.2,290.66 388.34,291.5 388.47,298.58 388.61,291.15 388.74,290.67 388.87,293.01 389.01,293.51 389.14,292.25 389.28,297.5 389.41,290.42 389.55,294.29 389.69,289.58 389.83,289.14 389.97,290.96 390.11,288.83 390.25,288.74 390.59,258.99 391.09,246.72 391.76,258.99" fill="none" stroke="#000" stroke-opacity="0.85" stroke-width="0.32" stroke-linejoin="round"/>
<polygon points="392.61,258.5 392.61,258.99 392.61,271.93 393.19,272.35 393.78,272.77 394.62,273.19 395.46,273.61 396.3,274.45 397.14,272.77 397.98,272.52 398.82,272.27 399.66,272.1 400.5,271.93 401.18,271.51 401.85,271.09 402.18,258.99 402.18,258.5" fill="#77AC30"/>
<polyline points="392.61,258.99 392.61,271.93 393.19,272.35 393.78,272.77 394.62,273.19 395.46,273.61 396.3,274.45 397.14,272.77 397.98,272.52 398.82,272.27 399.66,272.1 400.5,271.93 401.18,271.51 401.85,271.09 402.18,258.99" fill="none" stroke="#000" stroke-opacity="1.0" stroke-width="0.38" stroke-linejoin="round"/>
<polygon points="400.84,258.5 400.84,258.94 400.97,260.98 401.1,261.12 401.22,262.56 401.35,264.04 401.48,262.36 401.61,260.14 401.73,257.27 401.86,253.85 401.99,259.53 402.11,264.25 402.24,268.42 402.37,272.96 402.5,266.56 402.62,259.04 402.75,251.91 402.88,244.93 403.01,251.14 403.13,254.96 403.26,260.45 403.39,264.04 403.52,257.34 403.64,249.47 403.77,242.45 403.9,236.01 404.03,246.08 404.15,252.41 404.28,261.69 404.41,270.41 404.54,265.49 404.66,259.54 404.79,252.71 404.92,247.48 405.04,256.6 405.17,263.41 405.3,270.31 405.43,278.05 405.55,271.6 405.68,264.67 405.81,256.98 405.94,251.3 406.06,253.91 406.19,258.23 406.32,263.71 406.45,267.86 406.57,261.45 406.7,254.69 406.83,246.63 406.96,241.11 407.08,248.48 407.21,253.29 407.34,260.31 407.46,265.31 407.59,261.3 407.72,258.69 407.85,257.68 407.97,255.12 408.1,256.09 408.23,259.01 408.36,259.77 408.48,262.76 408.61,260.16 408.74,260.22 408.74,258.5" fill="#77AC30"/>
<polyline points="400.84,258.94 400.97,260.98 401.1,261.12 401.22,262.56 401.35,264.04 401.48,262.36 401.61,260.14 401.73,257.27 401.86,253.85 401.99,259.53 402.11,264.25 402.24,268.42 402.37,272.96 402.5,266.56 402.62,259.04 402.75,251.91 402.88,244.93 403.01,251.14 403.13,254.96 403.26,260.45 403.39,264.04 403.52,257.34 403.64,249.47 403.77,242.45 403.9,236.01 404.03,246.08 404.15,252.41 404.28,261.69 404.41,270.41 404.54,265.49 404.66,259.54 404.79,252.71 404.92,247.48 405.04,256.6 405.17,263.41 405.3,270.31 405.43,278.05 405.55,271.6 405.68,264.67 405.81,256.98 405.94,251.3 406.06,253.91 406.19,258.23 406.32,263.71 406.45,267.86 406.57,261.45 406.7,254.69 406.83,246.63 406.96,241.11 407.08,248.48 407.21,253.29 407.34,260.31 407.46,265.31 407.59,261.3 407.72,258.69 407.85,257.68 407.97,255.12 408.1,256.09 408.23,259.01 408.36,259.77 408.48,262.76 408.61,260.16 408.74,260.22" fill="none" stroke="#000" stroke-opacity="1.0" stroke-width="0.5" stroke-linejoin="round"/>
<polygon points="408.74,258.5 408.74,260.22 408.87,262.4 408.99,264.01 409.12,266.1 409.25,269.13 409.38,268.47 409.5,269.01 409.63,270.54 409.76,269.44 409.89,271.69 410.01,271.04 410.14,271.18 410.27,269.47 410.39,271.6 410.52,269.7 410.65,271.29 410.78,270.4 410.9,268.81 411.03,269.77 411.16,268.21 411.29,269.42 411.41,267.82 411.54,266.54 411.67,265.38 411.8,265.31 411.92,264.84 412.05,261.09 412.18,261.63 412.31,258.94 412.43,257.3 412.56,256.12 412.69,254.37 412.82,251.3 412.94,252.51 413.07,254.83 413.2,254.21 413.32,256.39 413.45,254.07 413.58,252.11 413.71,248.56 413.83,246.2 413.96,246.88 414.09,249.89 414.22,249.98 414.34,252.57 414.47,250.72 414.6,249.57 414.73,246.95 414.85,244.29 414.98,245.36 415.11,247.62 415.24,248.71 415.36,251.3 415.49,249.7 415.62,248.81 415.75,248.4 415.87,247.48 416,249.78 416.13,250.56 416.25,253.34 416.38,255.12 416.51,255.16 416.64,254.5 416.76,252.88 416.89,253.85 417.02,255.66 417.15,256.65 417.27,258.13 417.4,258.94 417.4,258.5" fill="#4DBEEE"/>
<polyline points="408.74,260.22 408.87,262.4 408.99,264.01 409.12,266.1 409.25,269.13 409.38,268.47 409.5,269.01 409.63,270.54 409.76,269.44 409.89,271.69 410.01,271.04 410.14,271.18 410.27,269.47 410.39,271.6 410.52,269.7 410.65,271.29 410.78,270.4 410.9,268.81 411.03,269.77 411.16,268.21 411.29,269.42 411.41,267.82 411.54,266.54 411.67,265.38 411.8,265.31 411.92,264.84 412.05,261.09 412.18,261.63 412.31,258.94 412.43,257.3 412.56,256.12 412.69,254.37 412.82,251.3 412.94,252.51 413.07,254.83 413.2,254.21 413.32,256.39 413.45,254.07 413.58,252.11 413.71,248.56 413.83,246.2 413.96,246.88 414.09,249.89 414.22,249.98 414.34,252.57 414.47,250.72 414.6,249.57 414.73,246.95 414.85,244.29 414.98,245.36 415.11,247.62 415.24,248.71 415.36,251.3 415.49,249.7 415.62,248.81 415.75,248.4 415.87,247.48 416,249.78 416.13,250.56 416.25,253.34 416.38,255.12 416.51,255.16 416.64,254.5 416.76,252.88 416.89,253.85 417.02,255.66 417.15,256.65 417.27,258.13 417.4,258.94" fill="none" stroke="#000" stroke-opacity="1.0" stroke-width="0.5" stroke-linejoin="round"/>
<polygon points="417.66,258.5 417.66,258.94 417.78,257.59 417.91,255.6 418.04,252.04 418.17,249.61 418.29,247.48 418.42,243.37 418.55,240.42 418.68,234.03 418.8,231.22 418.93,227.1 419.06,235.48 419.18,241.78 419.31,250.33 419.44,258.94 419.57,262.72 419.69,264.45 419.82,266.59 419.95,268.23 420.08,271.44 420.2,271.91 420.33,273.36 420.46,275.5 420.59,274.36 420.71,270.95 420.84,269.48 420.97,267.61 421.1,264.04 421.22,265.19 421.35,267.79 421.48,268.16 421.61,270.06 421.73,270.41 421.86,268.04 421.99,266.23 422.11,264.15 422.24,262.13 422.37,260.22 422.5,257.99 422.62,255.93 422.75,252.34 422.88,251.3 423.01,254.56 423.13,261.34 423.26,264.19 423.39,269.13 423.52,269.98 423.64,273.95 423.77,274.9 423.9,277.81 424.03,279.32 424.15,276.64 424.28,273.68 424.41,271.55 424.54,267.02 424.66,265.31 424.79,266.15 424.92,267.6 425.04,269.48 425.17,269.86 425.3,271.68 425.43,268.5 425.55,266.34 425.68,264.43 425.81,263.72 425.94,261.49 426.06,257.7 426.19,254.3 426.32,249.7 426.45,247.48 426.57,253.76 426.7,257.38 426.83,262.8 426.96,267.86 427.08,269.17 427.21,269.91 427.34,271.27 427.46,271.94 427.59,272.96 427.72,272.28 427.85,269.94 427.97,269.34 428.1,267.98 428.23,266.59 428.36,266.4 428.48,268.29 428.61,268.81 428.74,270.19 428.87,270.41 428.99,270.01 429.12,270.84 429.25,270.44 429.38,269.51 429.5,269.78 429.63,269.13 429.76,269.49 429.89,270.11 430.01,271.18 430.14,270.4 430.27,271.25 430.39,271.04 430.52,270.83 430.65,269.05 430.78,269.47 430.9,269.13 431.03,263.35 431.16,258.94 431.16,258.5" fill="#A2142F"/>
<polyline points="417.66,258.94 417.78,257.59 417.91,255.6 418.04,252.04 418.17,249.61 418.29,247.48 418.42,243.37 418.55,240.42 418.68,234.03 418.8,231.22 418.93,227.1 419.06,235.48 419.18,241.78 419.31,250.33 419.44,258.94 419.57,262.72 419.69,264.45 419.82,266.59 419.95,268.23 420.08,271.44 420.2,271.91 420.33,273.36 420.46,275.5 420.59,274.36 420.71,270.95 420.84,269.48 420.97,267.61 421.1,264.04 421.22,265.19 421.35,267.79 421.48,268.16 421.61,270.06 421.73,270.41 421.86,268.04 421.99,266.23 422.11,264.15 422.24,262.13 422.37,260.22 422.5,257.99 422.62,255.93 422.75,252.34 422.88,251.3 423.01,254.56 423.13,261.34 423.26,264.19 423.39,269.13 423.52,269.98 423.64,273.95 423.77,274.9 423.9,277.81 424.03,279.32 424.15,276.64 424.28,273.68 424.41,271.55 424.54,267.02 424.66,265.31 424.79,266.15 424.92,267.6 425.04,269.48 425.17,269.86 425.3,271.68 425.43,268.5 425.55,266.34 425.68,264.43 425.81,263.72 425.94,261.49 426.06,257.7 426.19,254.3 426.32,249.7 426.45,247.48 426.57,253.76 426.7,257.38 426.83,262.8 426.96,267.86 427.08,269.17 427.21,269.91 427.34,271.27 427.46,271.94 427.59,272.96 427.72,272.28 427.85,269.94 427.97,269.34 428.1,267.98 428.23,266.59 428.36,266.4 428.48,268.29 428.61,268.81 428.74,270.19 428.87,270.41 428.99,270.01 429.12,270.84 429.25,270.44 429.38,269.51 429.5,269.78 429.63,269.13 429.76,269.49 429.89,270.11 430.01,271.18 430.14,270.4 430.27,271.25 430.39,271.04 430.52,270.83 430.65,269.05 430.78,269.47 430.9,269.13 431.03,263.35 431.16,258.94" fill="none" stroke="#000" stroke-opacity="1.0" stroke-width="0.5" stroke-linejoin="round"/>
<polygon points="433.31,258.5 433.31,258.99 433.48,276.13 433.61,276.55 433.75,276.98 433.88,277.18 434.02,291.49 434.15,278.99 434.28,278.25 434.41,278.54 434.54,278.62 434.67,288.99 434.8,290.79 434.94,281.63 435.07,284.75 435.2,282.28 435.33,282.86 435.46,281.33 435.59,283.72 435.72,286.86 435.85,283.34 435.98,297.14 436.11,286.84 436.24,306.02 436.37,286.65 436.5,287.39 436.63,286.68 436.76,288.54 436.88,289.2 437.01,314.83 437.13,289.19 437.26,293.37 437.39,318.67 437.51,292.94 437.65,292.83 437.79,304.62 437.93,293.15 438.07,301.36 438.21,297.16 438.35,298.82 438.49,297.7 438.62,317.88 438.76,316.29 438.89,302.71 439.03,304.71 439.14,317.82 439.25,307.12 439.36,308.91 439.53,321.85 440.15,322.07 440.76,322.3 441.38,322.52 442.09,322.44 442.81,322.35 443.52,322.27 444.24,322.18 444.4,258.99 444.4,258.5" fill="#0072BD"/>
<polygon points="433.31,258.99 433.48,276.13 434.15,277.31 435.33,280.34 436.5,284.03 437.51,289.58 438.35,296.3 439.03,303.03 439.36,308.07 439.53,321.85 441.38,322.52 444.24,322.18 444.4,258.99 444.4,258.99 444.24,322.18 441.38,322.52 439.53,321.85 439.36,317.31 439.03,319.83 438.35,320.67 437.51,321.51 436.5,321.01 435.33,313.11 434.15,299.16 433.48,276.13 433.31,258.99" fill="#000" fill-opacity="0.05"/>
<polygon points="433.31,258.99 433.48,276.13 434.15,277.82 435.33,281.09 436.5,285.04 437.51,290.59 438.35,297.06 439.03,303.53 439.36,308.32 439.53,321.85 441.38,322.52 444.24,322.18 444.4,258.99 444.4,258.99 444.24,322.18 441.38,322.52 439.53,321.85 439.36,314.79 439.03,315.29 438.35,314.12 437.51,312.94 436.5,310.92 435.33,304.03 434.15,293.11 433.48,276.13 433.31,258.99" fill="#000" fill-opacity="0.05"/>
<polygon points="433.31,258.99 433.48,276.13 434.15,278.24 435.33,281.72 436.5,285.88 437.51,291.43 438.35,297.69 439.03,303.95 439.36,308.53 439.53,321.85 441.38,322.52 444.24,322.18 444.4,258.99 444.4,258.99 444.24,322.18 441.38,322.52 439.53,321.85 439.36,312.69 439.03,311.51 438.35,308.66 437.51,305.8 436.5,302.52 435.33,296.47 434.15,288.07 433.48,276.13 433.31,258.99" fill="#000" fill-opacity="0.07"/>
<polygon points="433.31,258.99 433.48,276.13 434.15,278.57 435.33,282.23 436.5,286.55 437.51,292.1 438.35,298.19 439.03,304.29 439.36,308.7 439.53,321.85 441.38,322.52 444.24,322.18 444.4,258.99 444.4,258.99 444.24,322.18 441.38,322.52 439.53,321.85 439.36,311.01 439.03,308.49 438.35,304.29 437.51,300.08 436.5,295.8 435.33,290.42 434.15,284.03 433.48,276.13 433.31,258.99" fill="#000" fill-opacity="0.1"/>
<polygon points="433.31,258.99 433.48,276.13 434.15,278.79 435.33,282.55 436.5,286.99 437.51,292.54 438.35,298.52 439.03,304.5 439.36,308.81 439.53,321.85 441.38,322.52 444.24,322.18 444.4,258.99 444.4,258.99 444.24,322.18 441.38,322.52 439.53,321.85 439.36,309.92 439.03,306.52 438.35,301.45 437.51,296.37 436.5,291.43 435.33,286.49 434.15,281.41 433.48,276.13 433.31,258.99" fill="#000" fill-opacity="0.14"/>
<polyline points="433.31,258.99 433.48,276.13 433.61,276.55 433.75,276.98 433.88,277.18 434.02,291.49 434.15,278.99 434.28,278.25 434.41,278.54 434.54,278.62 434.67,288.99 434.8,290.79 434.94,281.63 435.07,284.75 435.2,282.28 435.33,282.86 435.46,281.33 435.59,283.72 435.72,286.86 435.85,283.34 435.98,297.14 436.11,286.84 436.24,306.02 436.37,286.65 436.5,287.39 436.63,286.68 436.76,288.54 436.88,289.2 437.01,314.83 437.13,289.19 437.26,293.37 437.39,318.67 437.51,292.94 437.65,292.83 437.79,304.62 437.93,293.15 438.07,301.36 438.21,297.16 438.35,298.82 438.49,297.7 438.62,317.88 438.76,316.29 438.89,302.71 439.03,304.71 439.14,317.82 439.25,307.12 439.36,308.91 439.53,321.85 440.15,322.07 440.76,322.3 441.38,322.52 442.09,322.44 442.81,322.35 443.52,322.27 444.24,322.18 444.4,258.99" fill="none" stroke="#000" stroke-opacity="0.85" stroke-width="0.3" stroke-linejoin="round"/>
<polygon points="445.08,258.5 445.08,258.99 445.58,234.12 445.92,298.82 446.08,277.31 446.78,277.31 447.47,277.31 448.17,277.31 448.86,277.31 449.56,277.31 450.25,277.31 450.95,277.31 451.64,277.31 452.34,277.31 453.03,277.31 453.73,277.31 454.42,277.31 455.11,277.31 455.81,277.31 456.5,277.31 456.5,258.99 456.5,258.5" fill="#D95319"/>
<polyline points="445.08,258.99 445.58,234.12 445.92,298.82 446.08,277.31 446.78,277.31 447.47,277.31 448.17,277.31 448.86,277.31 449.56,277.31 450.25,277.31 450.95,277.31 451.64,277.31 452.34,277.31 453.03,277.31 453.73,277.31 454.42,277.31 455.11,277.31 455.81,277.31 456.5,277.31 456.5,258.99" fill="none" stroke="#000" stroke-opacity="1.0" stroke-width="0.38" stroke-linejoin="round"/>
<polygon points="456.84,258.5 456.84,258.99 456.84,273.61 457.85,277.82 458.44,278.07 459.03,278.32 459.53,279.5 460.27,279.53 461.01,279.56 461.75,279.6 462.49,279.63 463.23,279.66 463.9,279.83 464.57,280 465.24,282.35 465.92,279.66 466.92,277.82 467.93,276.13 468.94,280.34 469.61,281.18 470.12,280.34 470.12,258.99 470.12,258.5" fill="#EDB120"/>
<polyline points="456.84,258.99 456.84,273.61 457.85,277.82 458.44,278.07 459.03,278.32 459.53,279.5 460.27,279.53 461.01,279.56 461.75,279.6 462.49,279.63 463.23,279.66 463.9,279.83 464.57,280 465.24,282.35 465.92,279.66 466.92,277.82 467.93,276.13 468.94,280.34 469.61,281.18 470.12,280.34 470.12,258.99" fill="none" stroke="#000" stroke-opacity="1.0" stroke-width="0.38" stroke-linejoin="round"/>
<line x1="302" y1="258.5" x2="470.5" y2="258.5" stroke="#3a3a3a" stroke-width="0.45" />
<rect x="302" y="191.8" width="168.5" height="133.4" fill="none" stroke="#6e6e6e" stroke-width="0.6"/>
<line x1="302" y1="314.08" x2="303" y2="314.08" stroke="#555" stroke-width="0.5" />
<line x1="470.5" y1="314.08" x2="469.5" y2="314.08" stroke="#555" stroke-width="0.5" />
<line x1="302" y1="302.97" x2="303.7" y2="302.97" stroke="#555" stroke-width="0.5" />
<line x1="470.5" y1="302.97" x2="468.8" y2="302.97" stroke="#555" stroke-width="0.5" />
<line x1="302" y1="291.85" x2="303" y2="291.85" stroke="#555" stroke-width="0.5" />
<line x1="470.5" y1="291.85" x2="469.5" y2="291.85" stroke="#555" stroke-width="0.5" />
<line x1="302" y1="280.73" x2="303.7" y2="280.73" stroke="#555" stroke-width="0.5" />
<line x1="470.5" y1="280.73" x2="468.8" y2="280.73" stroke="#555" stroke-width="0.5" />
<line x1="302" y1="269.62" x2="303" y2="269.62" stroke="#555" stroke-width="0.5" />
<line x1="470.5" y1="269.62" x2="469.5" y2="269.62" stroke="#555" stroke-width="0.5" />
<line x1="302" y1="258.5" x2="303.7" y2="258.5" stroke="#555" stroke-width="0.5" />
<line x1="470.5" y1="258.5" x2="468.8" y2="258.5" stroke="#555" stroke-width="0.5" />
<line x1="302" y1="247.38" x2="303" y2="247.38" stroke="#555" stroke-width="0.5" />
<line x1="470.5" y1="247.38" x2="469.5" y2="247.38" stroke="#555" stroke-width="0.5" />
<line x1="302" y1="236.27" x2="303.7" y2="236.27" stroke="#555" stroke-width="0.5" />
<line x1="470.5" y1="236.27" x2="468.8" y2="236.27" stroke="#555" stroke-width="0.5" />
<line x1="302" y1="225.15" x2="303" y2="225.15" stroke="#555" stroke-width="0.5" />
<line x1="470.5" y1="225.15" x2="469.5" y2="225.15" stroke="#555" stroke-width="0.5" />
<line x1="302" y1="214.03" x2="303.7" y2="214.03" stroke="#555" stroke-width="0.5" />
<line x1="470.5" y1="214.03" x2="468.8" y2="214.03" stroke="#555" stroke-width="0.5" />
<line x1="302" y1="202.92" x2="303" y2="202.92" stroke="#555" stroke-width="0.5" />
<line x1="470.5" y1="202.92" x2="469.5" y2="202.92" stroke="#555" stroke-width="0.5" />
<text x="298.2" y="327.95" font-size="7.5" text-anchor="end" fill="#2a2a2a" stroke="#2a2a2a" stroke-width="0.16" >-0.03</text>
<text x="298.2" y="305.72" font-size="7.5" text-anchor="end" fill="#2a2a2a" stroke="#2a2a2a" stroke-width="0.16" >-0.02</text>
<text x="298.2" y="283.48" font-size="7.5" text-anchor="end" fill="#2a2a2a" stroke="#2a2a2a" stroke-width="0.16" >-0.01</text>
<text x="298.2" y="261.25" font-size="7.5" text-anchor="end" fill="#2a2a2a" stroke="#2a2a2a" stroke-width="0.16" >0</text>
<text x="298.2" y="239.02" font-size="7.5" text-anchor="end" fill="#2a2a2a" stroke="#2a2a2a" stroke-width="0.16" >0.01</text>
<text x="298.2" y="216.78" font-size="7.5" text-anchor="end" fill="#2a2a2a" stroke="#2a2a2a" stroke-width="0.16" >0.02</text>
<text x="298.2" y="194.55" font-size="7.5" text-anchor="end" fill="#2a2a2a" stroke="#2a2a2a" stroke-width="0.16" >0.03</text>
<text x="308.5" y="335.9" font-size="7.5" text-anchor="middle" fill="#2a2a2a" stroke="#2a2a2a" stroke-width="0.16" >1</text>
<text x="321.36" y="335.9" font-size="7.5" text-anchor="middle" fill="#2a2a2a" stroke="#2a2a2a" stroke-width="0.16" >2</text>
<text x="334.22" y="335.9" font-size="7.5" text-anchor="middle" fill="#2a2a2a" stroke="#2a2a2a" stroke-width="0.16" >3</text>
<text x="347.08" y="335.9" font-size="7.5" text-anchor="middle" fill="#2a2a2a" stroke="#2a2a2a" stroke-width="0.16" >4</text>
<text x="359.94" y="335.9" font-size="7.5" text-anchor="middle" fill="#2a2a2a" stroke="#2a2a2a" stroke-width="0.16" >5</text>
<text x="372.8" y="335.9" font-size="7.5" text-anchor="middle" fill="#2a2a2a" stroke="#2a2a2a" stroke-width="0.16" >6</text>
<text x="385.66" y="335.9" font-size="7.5" text-anchor="middle" fill="#2a2a2a" stroke="#2a2a2a" stroke-width="0.16" >7</text>
<text x="398.52" y="335.9" font-size="7.5" text-anchor="middle" fill="#2a2a2a" stroke="#2a2a2a" stroke-width="0.16" >8</text>
<text x="411.38" y="335.9" font-size="7.5" text-anchor="middle" fill="#2a2a2a" stroke="#2a2a2a" stroke-width="0.16" >9</text>
<text x="424.24" y="335.9" font-size="7.5" text-anchor="middle" fill="#2a2a2a" stroke="#2a2a2a" stroke-width="0.16" >10</text>
<text x="437.1" y="335.9" font-size="7.5" text-anchor="middle" fill="#2a2a2a" stroke="#2a2a2a" stroke-width="0.16" >11</text>
<text x="449.96" y="335.9" font-size="7.5" text-anchor="middle" fill="#2a2a2a" stroke="#2a2a2a" stroke-width="0.16" >12</text>
<text x="462.82" y="335.9" font-size="7.5" text-anchor="middle" fill="#2a2a2a" stroke="#2a2a2a" stroke-width="0.16" >13</text>
<text x="385.95" y="347.8" font-size="8.4" text-anchor="middle" fill="#2a2a2a" stroke="#2a2a2a" stroke-width="0.16" >Variable number</text>
<text transform="translate(274.2 258.5) rotate(-90)" font-size="8.4" text-anchor="middle" fill="#2a2a2a" stroke="#2a2a2a" stroke-width="0.16">Weight* on LV<tspan font-size="6.6" dy="2.8">1</tspan></text>
<text x="377.5" y="360.7" font-size="10.2" text-anchor="middle" fill="#111" font-family='"Liberation Serif", "Times New Roman", serif'>(<tspan font-weight="bold" stroke="#111" stroke-width="0.25">c</tspan>)</text>
</g>
<g id="panel-d">
<rect x="40.4" y="375.3" width="168.1" height="134.2" fill="#fbfbfb" />
<rect x="40.8" y="375.3" width="7.7" height="134.2" fill="#d9d9d9" />
<rect x="56.08" y="375.3" width="7.7" height="134.2" fill="#d9d9d9" />
<rect x="71.36" y="375.3" width="7.7" height="134.2" fill="#d9d9d9" />
<rect x="86.65" y="375.3" width="7.7" height="134.2" fill="#d9d9d9" />
<rect x="101.93" y="375.3" width="7.7" height="134.2" fill="#d9d9d9" />
<rect x="117.21" y="375.3" width="7.7" height="134.2" fill="#d9d9d9" />
<rect x="132.49" y="375.3" width="7.7" height="134.2" fill="#d9d9d9" />
<rect x="147.77" y="375.3" width="7.7" height="134.2" fill="#d9d9d9" />
<rect x="163.05" y="375.3" width="7.7" height="134.2" fill="#d9d9d9" />
<rect x="178.34" y="375.3" width="7.7" height="134.2" fill="#d9d9d9" />
<rect x="193.62" y="375.3" width="7.7" height="134.2" fill="#d9d9d9" />
<rect x="55.03" y="375.3" width="1.3" height="134.2" fill="#5c5c5c" />
<rect x="70.31" y="375.3" width="1.3" height="134.2" fill="#5c5c5c" />
<rect x="85.6" y="375.3" width="1.3" height="134.2" fill="#5c5c5c" />
<rect x="100.88" y="375.3" width="1.3" height="134.2" fill="#5c5c5c" />
<rect x="116.16" y="375.3" width="1.3" height="134.2" fill="#5c5c5c" />
<rect x="131.44" y="375.3" width="1.3" height="134.2" fill="#5c5c5c" />
<rect x="146.72" y="375.3" width="1.3" height="134.2" fill="#5c5c5c" />
<rect x="162" y="375.3" width="1.3" height="134.2" fill="#5c5c5c" />
<rect x="177.29" y="375.3" width="1.3" height="134.2" fill="#5c5c5c" />
<rect x="192.57" y="375.3" width="1.3" height="134.2" fill="#5c5c5c" />
<polygon points="40.2,442.4 40.2,442.35 40.37,455.46 41.04,457.14 41.88,450.42 42.05,442.35 42.39,432.77 42.52,432.59 42.65,432.4 42.78,432.11 42.91,432 43.04,431.84 43.17,431.65 43.3,431.47 43.43,431.28 43.56,431.09 43.69,431.05 43.82,431.01 43.95,430.98 44.08,430.94 44.21,430.9 44.34,430.86 44.47,430.42 44.6,430.42 44.73,430.74 44.86,430.44 44.99,430.67 45.11,430.57 45.24,430.59 45.37,430.42 45.51,430.58 45.64,430.43 45.77,430.81 45.9,430.87 46.03,430.48 46.16,430.66 46.29,431.04 46.42,431.09 46.55,430.76 46.67,430.37 46.8,430.11 46.92,430.06 47.05,430.04 47.18,429.83 47.3,428.96 47.43,429.41 47.56,428.79 47.69,429.12 47.82,429.02 47.95,428.68 48.08,428.29 48.21,428.52 48.34,428.5 48.47,428.19 48.61,428.24 48.74,427.89 48.87,428.38 49,428.46 49.13,428.53 49.26,428.61 49.39,428.68 49.52,428.76 49.65,428.83 49.78,428.91 49.91,428.7 50.03,427.85 50.16,428.28 50.29,428.07 50.41,427.86 50.54,427.39 50.66,427.44 50.79,427.23 50.92,426.82 51.05,426.91 51.18,427 51.31,426.68 51.44,426.69 51.57,426.43 51.7,426.7 51.84,426.63 51.97,426.55 52.11,426.75 52.25,426.95 52.39,426.54 52.53,427.32 52.67,427.54 52.81,427.73 52.95,427.54 53.09,427.34 53.23,427.14 53.37,426.95 53.51,426.39 53.65,426.55 53.79,425.81 53.93,426.11 54.07,425.78 54.21,425.55 54.35,425.43 54.49,425.21 55.16,427.73 55.5,442.35 55.5,442.4" fill="#A2142F"/>
<polyline points="40.2,442.35 40.37,455.46 41.04,457.14 41.88,450.42 42.05,442.35 42.39,432.77 42.52,432.59 42.65,432.4 42.78,432.11 42.91,432 43.04,431.84 43.17,431.65 43.3,431.47 43.43,431.28 43.56,431.09 43.69,431.05 43.82,431.01 43.95,430.98 44.08,430.94 44.21,430.9 44.34,430.86 44.47,430.42 44.6,430.42 44.73,430.74 44.86,430.44 44.99,430.67 45.11,430.57 45.24,430.59 45.37,430.42 45.51,430.58 45.64,430.43 45.77,430.81 45.9,430.87 46.03,430.48 46.16,430.66 46.29,431.04 46.42,431.09 46.55,430.76 46.67,430.37 46.8,430.11 46.92,430.06 47.05,430.04 47.18,429.83 47.3,428.96 47.43,429.41 47.56,428.79 47.69,429.12 47.82,429.02 47.95,428.68 48.08,428.29 48.21,428.52 48.34,428.5 48.47,428.19 48.61,428.24 48.74,427.89 48.87,428.38 49,428.46 49.13,428.53 49.26,428.61 49.39,428.68 49.52,428.76 49.65,428.83 49.78,428.91 49.91,428.7 50.03,427.85 50.16,428.28 50.29,428.07 50.41,427.86 50.54,427.39 50.66,427.44 50.79,427.23 50.92,426.82 51.05,426.91 51.18,427 51.31,426.68 51.44,426.69 51.57,426.43 51.7,426.7 51.84,426.63 51.97,426.55 52.11,426.75 52.25,426.95 52.39,426.54 52.53,427.32 52.67,427.54 52.81,427.73 52.95,427.54 53.09,427.34 53.23,427.14 53.37,426.95 53.51,426.39 53.65,426.55 53.79,425.81 53.93,426.11 54.07,425.78 54.21,425.55 54.35,425.43 54.49,425.21 55.16,427.73 55.5,442.35" fill="none" stroke="#000" stroke-opacity="1.0" stroke-width="0.38" stroke-linejoin="round"/>
<polygon points="55.66,442.4 55.66,442.35 56.17,455.46 56.84,467.23 57.51,442.35 58.02,415.13 58.69,442.35 59.19,457.14 59.33,458.1 59.46,458.3 59.6,459.7 59.73,461.92 59.87,460.5 60,460.13 60.13,462.68 60.27,460.2 60.4,461.74 60.54,462.57 60.67,460.47 60.81,459.14 60.94,460.31 61.08,458.88 61.21,458.82 61.34,460.11 61.47,457.86 61.6,458.68 61.73,457.94 61.86,457.96 61.99,458.24 62.12,459.67 62.24,458.64 62.37,457.83 62.5,457.68 62.63,460.62 62.76,458.89 62.89,457.98 63.02,457.83 63.15,458.01 63.28,457.69 63.41,459.71 63.54,459.59 63.67,457.59 63.8,458.15 63.93,458.16 64.05,457.23 64.18,456.59 64.31,457.96 64.44,456.94 64.57,457.14 64.7,456.48 64.83,459.59 64.96,456.87 65.09,457.38 65.22,459.38 65.35,456.79 65.48,458.11 65.61,459.76 65.73,456.94 65.86,457.52 65.99,458.18 66.12,457.2 66.25,457.98 66.38,457.22 66.51,457.62 66.64,457.49 66.77,457.91 66.9,457.48 67.03,457.83 67.16,457.05 67.29,456.28 67.42,456.67 67.54,456.51 67.67,456.55 67.8,456.97 67.93,456.3 68.06,455.69 68.19,456 68.32,456.26 68.45,455.37 68.58,456.18 68.71,455.35 68.84,455.05 68.97,454.99 69.1,456.01 69.23,455.58 69.35,455.92 69.48,456.42 69.61,455.46 69.74,455.23 69.87,455.47 70.01,455.27 70.14,455.53 70.27,454.72 70.4,454.73 70.53,454.9 70.66,454.71 70.79,454.62 71.13,442.35 71.13,442.4" fill="#0072BD"/>
<polygon points="55.66,442.35 56.17,455.46 56.84,467.23 57.51,442.35 58.02,415.13 58.69,442.35 59.19,457.14 59.87,459.66 61.21,457.98 62.89,457.14 64.57,456.3 66.25,457.14 67.93,455.46 69.61,454.62 70.79,454.62 71.13,442.35 71.13,442.35 70.79,454.62 69.61,457.14 67.93,458.32 66.25,460 64.57,459.66 62.89,460.5 61.21,461.34 59.87,463.87 59.19,457.14 58.69,442.35 58.02,415.13 57.51,442.35 56.84,467.23 56.17,455.46 55.66,442.35" fill="#000" fill-opacity="0.05"/>
<polygon points="55.66,442.35 56.17,455.46 56.84,467.23 57.51,442.35 58.02,415.13 58.69,442.35 59.19,457.14 59.87,459.92 61.21,458.24 62.89,457.39 64.57,456.55 66.25,457.39 67.93,455.71 69.61,454.87 70.79,454.62 71.13,442.35 71.13,442.35 70.79,454.62 69.61,456.64 67.93,457.71 66.25,459.39 64.57,458.91 62.89,459.75 61.21,460.59 59.87,462.86 59.19,457.14 58.69,442.35 58.02,415.13 57.51,442.35 56.84,467.23 56.17,455.46 55.66,442.35" fill="#000" fill-opacity="0.05"/>
<polygon points="55.66,442.35 56.17,455.46 56.84,467.23 57.51,442.35 58.02,415.13 58.69,442.35 59.19,457.14 59.87,460.13 61.21,458.45 62.89,457.61 64.57,456.76 66.25,457.61 67.93,455.92 69.61,455.08 70.79,454.62 71.13,442.35 71.13,442.35 70.79,454.62 69.61,456.22 67.93,457.21 66.25,458.89 64.57,458.28 62.89,459.12 61.21,459.96 59.87,462.02 59.19,457.14 58.69,442.35 58.02,415.13 57.51,442.35 56.84,467.23 56.17,455.46 55.66,442.35" fill="#000" fill-opacity="0.07"/>
<polygon points="55.66,442.35 56.17,455.46 56.84,467.23 57.51,442.35 58.02,415.13 58.69,442.35 59.19,457.14 59.87,460.29 61.21,458.61 62.89,457.77 64.57,456.93 66.25,457.77 67.93,456.09 69.61,455.25 70.79,454.62 71.13,442.35 71.13,442.35 70.79,454.62 69.61,455.88 67.93,456.81 66.25,458.49 64.57,457.77 62.89,458.61 61.21,459.45 59.87,461.34 59.19,457.14 58.69,442.35 58.02,415.13 57.51,442.35 56.84,467.23 56.17,455.46 55.66,442.35" fill="#000" fill-opacity="0.1"/>
<polygon points="55.66,442.35 56.17,455.46 56.84,467.23 57.51,442.35 58.02,415.13 58.69,442.35 59.19,457.14 59.87,460.4 61.21,458.72 62.89,457.88 64.57,457.04 66.25,457.88 67.93,456.2 69.61,455.36 70.79,454.62 71.13,442.35 71.13,442.35 70.79,454.62 69.61,455.66 67.93,456.54 66.25,458.23 64.57,457.45 62.89,458.29 61.21,459.13 59.87,460.91 59.19,457.14 58.69,442.35 58.02,415.13 57.51,442.35 56.84,467.23 56.17,455.46 55.66,442.35" fill="#000" fill-opacity="0.14"/>
<polyline points="55.66,442.35 56.17,455.46 56.84,467.23 57.51,442.35 58.02,415.13 58.69,442.35 59.19,457.14 59.33,458.1 59.46,458.3 59.6,459.7 59.73,461.92 59.87,460.5 60,460.13 60.13,462.68 60.27,460.2 60.4,461.74 60.54,462.57 60.67,460.47 60.81,459.14 60.94,460.31 61.08,458.88 61.21,458.82 61.34,460.11 61.47,457.86 61.6,458.68 61.73,457.94 61.86,457.96 61.99,458.24 62.12,459.67 62.24,458.64 62.37,457.83 62.5,457.68 62.63,460.62 62.76,458.89 62.89,457.98 63.02,457.83 63.15,458.01 63.28,457.69 63.41,459.71 63.54,459.59 63.67,457.59 63.8,458.15 63.93,458.16 64.05,457.23 64.18,456.59 64.31,457.96 64.44,456.94 64.57,457.14 64.7,456.48 64.83,459.59 64.96,456.87 65.09,457.38 65.22,459.38 65.35,456.79 65.48,458.11 65.61,459.76 65.73,456.94 65.86,457.52 65.99,458.18 66.12,457.2 66.25,457.98 66.38,457.22 66.51,457.62 66.64,457.49 66.77,457.91 66.9,457.48 67.03,457.83 67.16,457.05 67.29,456.28 67.42,456.67 67.54,456.51 67.67,456.55 67.8,456.97 67.93,456.3 68.06,455.69 68.19,456 68.32,456.26 68.45,455.37 68.58,456.18 68.71,455.35 68.84,455.05 68.97,454.99 69.1,456.01 69.23,455.58 69.35,455.92 69.48,456.42 69.61,455.46 69.74,455.23 69.87,455.47 70.01,455.27 70.14,455.53 70.27,454.72 70.4,454.73 70.53,454.9 70.66,454.71 70.79,454.62 71.13,442.35" fill="none" stroke="#000" stroke-opacity="1.0" stroke-width="0.45" stroke-linejoin="round"/>
<polygon points="71.13,442.4 71.13,442.35 71.63,455.46 72.3,468.91 72.81,442.35 73.31,421.85 73.98,442.35 74.49,467.23 74.61,466.83 74.74,466.47 74.87,466.12 74.99,465.78 75.12,465.63 75.24,465.23 75.37,464.53 75.5,464.71 75.63,464.17 75.75,466.63 75.88,466.72 76.01,463.49 76.14,462.89 76.27,464.06 76.4,462.39 76.53,463.22 76.66,463.29 76.79,462.52 76.92,461.11 77.05,463.8 77.18,461.34 77.31,461.2 77.44,460.97 77.56,460.7 77.69,460.62 77.82,461.05 77.95,462.04 78.08,460.97 78.21,459.78 78.34,460.18 78.47,462.03 78.6,459.9 78.73,461.19 78.86,459.66 78.99,459.45 79.12,458.9 79.24,458.72 79.37,459.53 79.5,460.13 79.63,461.27 79.76,459.17 79.89,460.02 80.02,460.68 80.15,461.02 80.28,459.9 80.41,458.34 80.54,458.82 80.67,458.39 80.8,458.88 80.93,458.68 81.05,460.38 81.18,458.1 81.31,459.75 81.44,458.78 81.57,458.06 81.7,458.12 81.83,458.1 81.96,459.39 82.09,457.9 82.22,457.98 82.35,458.66 82.48,458.41 82.61,457.07 82.74,457.31 82.86,457 82.99,459.03 83.12,457.02 83.25,458.24 83.38,459.01 83.51,457.15 83.64,457.15 83.77,457.03 83.9,457.14 84.03,456.57 84.16,456.96 84.29,456.69 84.42,456.82 84.55,456.82 84.67,457.52 84.8,456.43 84.93,457.01 85.06,456.45 85.19,456.47 85.32,456.43 85.45,456.46 85.58,456.3 85.92,463.87 86.25,442.35 86.25,442.4" fill="#D95319"/>
<polygon points="71.13,442.35 71.63,455.46 72.3,468.91 72.81,442.35 73.31,421.85 73.98,442.35 74.49,467.23 75.5,463.87 77.18,460.5 78.86,458.82 80.54,457.98 82.22,457.14 83.9,456.3 85.58,456.3 85.92,463.87 86.25,442.35 86.25,442.35 85.92,463.87 85.58,456.3 83.9,459.16 82.22,460 80.54,461.34 78.86,462.18 77.18,464.71 75.5,468.07 74.49,467.23 73.98,442.35 73.31,421.85 72.81,442.35 72.3,468.91 71.63,455.46 71.13,442.35" fill="#000" fill-opacity="0.05"/>
<polygon points="71.13,442.35 71.63,455.46 72.3,468.91 72.81,442.35 73.31,421.85 73.98,442.35 74.49,467.23 75.5,464.12 77.18,460.76 78.86,459.08 80.54,458.24 82.22,457.39 83.9,456.55 85.58,456.3 85.92,463.87 86.25,442.35 86.25,442.35 85.92,463.87 85.58,456.3 83.9,458.55 82.22,459.39 80.54,460.59 78.86,461.43 77.18,463.7 75.5,467.06 74.49,467.23 73.98,442.35 73.31,421.85 72.81,442.35 72.3,468.91 71.63,455.46 71.13,442.35" fill="#000" fill-opacity="0.05"/>
<polygon points="71.13,442.35 71.63,455.46 72.3,468.91 72.81,442.35 73.31,421.85 73.98,442.35 74.49,467.23 75.5,464.33 77.18,460.97 78.86,459.29 80.54,458.45 82.22,457.61 83.9,456.76 85.58,456.3 85.92,463.87 86.25,442.35 86.25,442.35 85.92,463.87 85.58,456.3 83.9,458.05 82.22,458.89 80.54,459.96 78.86,460.8 77.18,462.86 75.5,466.22 74.49,467.23 73.98,442.35 73.31,421.85 72.81,442.35 72.3,468.91 71.63,455.46 71.13,442.35" fill="#000" fill-opacity="0.07"/>
<polygon points="71.13,442.35 71.63,455.46 72.3,468.91 72.81,442.35 73.31,421.85 73.98,442.35 74.49,467.23 75.5,464.5 77.18,461.13 78.86,459.45 80.54,458.61 82.22,457.77 83.9,456.93 85.58,456.3 85.92,463.87 86.25,442.35 86.25,442.35 85.92,463.87 85.58,456.3 83.9,457.65 82.22,458.49 80.54,459.45 78.86,460.29 77.18,462.18 75.5,465.55 74.49,467.23 73.98,442.35 73.31,421.85 72.81,442.35 72.3,468.91 71.63,455.46 71.13,442.35" fill="#000" fill-opacity="0.1"/>
<polygon points="71.13,442.35 71.63,455.46 72.3,468.91 72.81,442.35 73.31,421.85 73.98,442.35 74.49,467.23 75.5,464.61 77.18,461.24 78.86,459.56 80.54,458.72 82.22,457.88 83.9,457.04 85.58,456.3 85.92,463.87 86.25,442.35 86.25,442.35 85.92,463.87 85.58,456.3 83.9,457.38 82.22,458.23 80.54,459.13 78.86,459.97 77.18,461.75 75.5,465.11 74.49,467.23 73.98,442.35 73.31,421.85 72.81,442.35 72.3,468.91 71.63,455.46 71.13,442.35" fill="#000" fill-opacity="0.14"/>
<polyline points="71.13,442.35 71.63,455.46 72.3,468.91 72.81,442.35 73.31,421.85 73.98,442.35 74.49,467.23 74.61,466.83 74.74,466.47 74.87,466.12 74.99,465.78 75.12,465.63 75.24,465.23 75.37,464.53 75.5,464.71 75.63,464.17 75.75,466.63 75.88,466.72 76.01,463.49 76.14,462.89 76.27,464.06 76.4,462.39 76.53,463.22 76.66,463.29 76.79,462.52 76.92,461.11 77.05,463.8 77.18,461.34 77.31,461.2 77.44,460.97 77.56,460.7 77.69,460.62 77.82,461.05 77.95,462.04 78.08,460.97 78.21,459.78 78.34,460.18 78.47,462.03 78.6,459.9 78.73,461.19 78.86,459.66 78.99,459.45 79.12,458.9 79.24,458.72 79.37,459.53 79.5,460.13 79.63,461.27 79.76,459.17 79.89,460.02 80.02,460.68 80.15,461.02 80.28,459.9 80.41,458.34 80.54,458.82 80.67,458.39 80.8,458.88 80.93,458.68 81.05,460.38 81.18,458.1 81.31,459.75 81.44,458.78 81.57,458.06 81.7,458.12 81.83,458.1 81.96,459.39 82.09,457.9 82.22,457.98 82.35,458.66 82.48,458.41 82.61,457.07 82.74,457.31 82.86,457 82.99,459.03 83.12,457.02 83.25,458.24 83.38,459.01 83.51,457.15 83.64,457.15 83.77,457.03 83.9,457.14 84.03,456.57 84.16,456.96 84.29,456.69 84.42,456.82 84.55,456.82 84.67,457.52 84.8,456.43 84.93,457.01 85.06,456.45 85.19,456.47 85.32,456.43 85.45,456.46 85.58,456.3 85.92,463.87 86.25,442.35" fill="none" stroke="#000" stroke-opacity="1.0" stroke-width="0.45" stroke-linejoin="round"/>
<polygon points="86.42,442.4 86.42,442.35 86.59,450.42 87.34,450.42 88.1,450.42 88.94,450 89.78,449.58 90.62,449.16 91.46,448.74 92.3,448.15 93.14,447.56 93.98,447.14 94.82,446.72 95.66,446.39 96.5,446.05 97.34,445.71 98.18,445.38 99.03,445.13 99.87,444.87 100.71,444.71 101.55,444.54 101.88,442.35 101.88,442.4" fill="#EDB120"/>
<polyline points="86.42,442.35 86.59,450.42 87.34,450.42 88.1,450.42 88.94,450 89.78,449.58 90.62,449.16 91.46,448.74 92.3,448.15 93.14,447.56 93.98,447.14 94.82,446.72 95.66,446.39 96.5,446.05 97.34,445.71 98.18,445.38 99.03,445.13 99.87,444.87 100.71,444.71 101.55,444.54 101.88,442.35" fill="none" stroke="#000" stroke-opacity="1.0" stroke-width="0.38" stroke-linejoin="round"/>
<polygon points="101.55,442.4 101.55,442.35 101.67,441.33 101.8,438.44 101.92,435.48 102.05,433.61 102.18,426.72 102.32,428.75 102.45,421.16 102.59,427.3 102.72,418.49 102.83,413.23 102.95,416.12 103.06,412.61 103.18,415.15 103.31,418.68 103.44,418.73 103.56,423.53 103.7,420.8 103.83,426.47 103.97,430.04 104.1,431.54 104.24,431.09 104.36,433.67 104.49,431.08 104.61,432.19 104.74,433.25 104.87,433.82 104.99,433.43 105.12,434.76 105.24,435.29 105.83,434.03 106.42,432.77 107.09,430.67 107.76,428.57 108.61,426.47 109.45,424.37 110.12,423.53 110.79,422.69 111.8,421.85 112.3,421.01 112.64,442.35 112.77,444.84 112.91,447.6 113.04,455.16 113.18,455.43 113.31,455.46 113.44,452.65 113.57,459.42 113.7,454.47 113.83,465.29 113.96,458.25 114.1,455.21 114.23,460.73 114.36,458.15 114.49,458.82 114.61,455.69 114.74,467.98 114.87,468.33 114.99,463.24 115.12,457.99 115.24,462.3 115.37,454.03 115.5,457.14 115.63,456.77 115.76,452.3 115.9,445.96 116.03,445.14 116.17,442.35 116.17,442.4" fill="#7E2F8E"/>
<polygon points="101.55,442.35 102.05,428.57 102.72,411.76 103.06,412.61 103.56,417.65 104.24,427.73 105.24,435.29 106.42,432.77 107.76,428.57 109.45,424.37 110.79,422.69 111.8,421.85 112.3,421.01 112.64,442.35 113.31,450.42 114.49,450.42 115.5,450.42 116.17,442.35 116.17,442.35 115.5,465.55 114.49,470.59 113.31,465.55 112.64,442.35 112.3,421.01 111.8,421.85 110.79,422.69 109.45,424.37 107.76,428.57 106.42,432.77 105.24,435.29 104.24,433.61 103.56,428.57 103.06,412.61 102.72,425.21 102.05,438.66 101.55,442.35" fill="#000" fill-opacity="0.05"/>
<polygon points="101.55,442.35 102.05,430.08 102.72,413.78 103.06,412.61 103.56,419.41 104.24,428.74 105.24,435.29 106.42,432.77 107.76,428.57 109.45,424.37 110.79,422.69 111.8,421.85 112.3,421.01 112.64,442.35 113.31,451.93 114.49,452.94 115.5,452.44 116.17,442.35 116.17,442.35 115.5,463.03 114.49,467.06 113.31,462.52 112.64,442.35 112.3,421.01 111.8,421.85 110.79,422.69 109.45,424.37 107.76,428.57 106.42,432.77 105.24,435.29 104.24,432.86 103.56,427.06 103.06,412.61 102.72,423.19 102.05,437.14 101.55,442.35" fill="#000" fill-opacity="0.05"/>
<polygon points="101.55,442.35 102.05,431.34 102.72,415.46 103.06,412.61 103.56,420.88 104.24,429.58 105.24,435.29 106.42,432.77 107.76,428.57 109.45,424.37 110.79,422.69 111.8,421.85 112.3,421.01 112.64,442.35 113.31,453.19 114.49,455.04 115.5,454.12 116.17,442.35 116.17,442.35 115.5,460.92 114.49,464.12 113.31,460 112.64,442.35 112.3,421.01 111.8,421.85 110.79,422.69 109.45,424.37 107.76,428.57 106.42,432.77 105.24,435.29 104.24,432.23 103.56,425.8 103.06,412.61 102.72,421.51 102.05,435.88 101.55,442.35" fill="#000" fill-opacity="0.07"/>
<polygon points="101.55,442.35 102.05,432.35 102.72,416.81 103.06,412.61 103.56,422.06 104.24,430.25 105.24,435.29 106.42,432.77 107.76,428.57 109.45,424.37 110.79,422.69 111.8,421.85 112.3,421.01 112.64,442.35 113.31,454.2 114.49,456.72 115.5,455.46 116.17,442.35 116.17,442.35 115.5,459.24 114.49,461.76 113.31,457.98 112.64,442.35 112.3,421.01 111.8,421.85 110.79,422.69 109.45,424.37 107.76,428.57 106.42,432.77 105.24,435.29 104.24,431.72 103.56,424.79 103.06,412.61 102.72,420.17 102.05,434.87 101.55,442.35" fill="#000" fill-opacity="0.1"/>
<polygon points="101.55,442.35 102.05,433.01 102.72,417.68 103.06,412.61 103.56,422.82 104.24,430.69 105.24,435.29 106.42,432.77 107.76,428.57 109.45,424.37 110.79,422.69 111.8,421.85 112.3,421.01 112.64,442.35 113.31,454.86 114.49,457.82 115.5,456.34 116.17,442.35 116.17,442.35 115.5,458.15 114.49,460.24 113.31,456.67 112.64,442.35 112.3,421.01 111.8,421.85 110.79,422.69 109.45,424.37 107.76,428.57 106.42,432.77 105.24,435.29 104.24,431.39 103.56,424.13 103.06,412.61 102.72,419.29 102.05,434.22 101.55,442.35" fill="#000" fill-opacity="0.14"/>
<polyline points="101.55,442.35 101.67,441.33 101.8,438.44 101.92,435.48 102.05,433.61 102.18,426.72 102.32,428.75 102.45,421.16 102.59,427.3 102.72,418.49 102.83,413.23 102.95,416.12 103.06,412.61 103.18,415.15 103.31,418.68 103.44,418.73 103.56,423.53 103.7,420.8 103.83,426.47 103.97,430.04 104.1,431.54 104.24,431.09 104.36,433.67 104.49,431.08 104.61,432.19 104.74,433.25 104.87,433.82 104.99,433.43 105.12,434.76 105.24,435.29 105.83,434.03 106.42,432.77 107.09,430.67 107.76,428.57 108.61,426.47 109.45,424.37 110.12,423.53 110.79,422.69 111.8,421.85 112.3,421.01 112.64,442.35 112.77,444.84 112.91,447.6 113.04,455.16 113.18,455.43 113.31,455.46 113.44,452.65 113.57,459.42 113.7,454.47 113.83,465.29 113.96,458.25 114.1,455.21 114.23,460.73 114.36,458.15 114.49,458.82 114.61,455.69 114.74,467.98 114.87,468.33 114.99,463.24 115.12,457.99 115.24,462.3 115.37,454.03 115.5,457.14 115.63,456.77 115.76,452.3 115.9,445.96 116.03,445.14 116.17,442.35" fill="none" stroke="#000" stroke-opacity="1.0" stroke-width="0.45" stroke-linejoin="round"/>
<polygon points="116.34,442.4 116.34,442.35 116.46,440.22 116.59,435.64 116.71,432.63 116.84,431.93 116.97,427.09 117.09,428.55 117.22,423.75 117.34,421.85 117.46,422.56 117.57,417.97 117.68,418.49 117.81,419.89 117.93,421.81 118.06,421.1 118.18,424.37 118.32,422.98 118.45,424.31 118.59,427.01 118.72,427.61 118.86,428.57 118.99,427.39 119.13,430.25 119.26,430.13 119.39,430.82 119.53,431.09 120.37,432.35 121.21,433.61 122.05,431.51 122.89,429.41 123.73,426.47 124.57,423.53 125.24,421.01 125.92,418.49 126.5,416.81 127.09,415.13 127.76,420.17 128.27,442.35 128.39,443.79 128.52,446.94 128.65,452.65 128.77,452.1 128.91,453.3 129.05,453.43 129.19,451.93 129.33,450.67 129.47,453.31 129.61,455.46 129.75,458.8 129.88,459.75 130.02,458.03 130.15,457.73 130.29,455.46 130.79,416.81 131.29,467.23 131.8,442.35 131.8,442.4" fill="#77AC30"/>
<polygon points="116.34,442.35 116.84,426.89 117.34,415.97 117.68,418.49 118.18,419.33 118.86,426.05 119.53,431.09 121.21,433.61 122.89,429.41 124.57,423.53 125.92,418.49 127.09,415.13 127.76,420.17 128.27,442.35 128.77,447.06 129.61,447.06 130.29,455.46 130.79,416.81 131.29,467.23 131.8,442.35 131.8,442.35 131.29,467.23 130.79,416.81 130.29,455.46 129.61,468.91 128.77,460.5 128.27,442.35 127.76,420.17 127.09,415.13 125.92,418.49 124.57,423.53 122.89,429.41 121.21,433.61 119.53,431.09 118.86,430.25 118.18,428.57 117.68,418.49 117.34,427.73 116.84,436.97 116.34,442.35" fill="#000" fill-opacity="0.05"/>
<polygon points="116.34,442.35 116.84,428.4 117.34,417.73 117.68,418.49 118.18,420.84 118.86,426.81 119.53,431.09 121.21,433.61 122.89,429.41 124.57,423.53 125.92,418.49 127.09,415.13 127.76,420.17 128.27,442.35 128.77,448.57 129.61,449.58 130.29,455.46 130.79,416.81 131.29,467.23 131.8,442.35 131.8,442.35 131.29,467.23 130.79,416.81 130.29,455.46 129.61,464.87 128.77,457.98 128.27,442.35 127.76,420.17 127.09,415.13 125.92,418.49 124.57,423.53 122.89,429.41 121.21,433.61 119.53,431.09 118.86,429.75 118.18,427.31 117.68,418.49 117.34,425.97 116.84,435.46 116.34,442.35" fill="#000" fill-opacity="0.05"/>
<polygon points="116.34,442.35 116.84,429.66 117.34,419.2 117.68,418.49 118.18,422.1 118.86,427.44 119.53,431.09 121.21,433.61 122.89,429.41 124.57,423.53 125.92,418.49 127.09,415.13 127.76,420.17 128.27,442.35 128.77,449.83 129.61,451.68 130.29,455.46 130.79,416.81 131.29,467.23 131.8,442.35 131.8,442.35 131.29,467.23 130.79,416.81 130.29,455.46 129.61,461.51 128.77,455.88 128.27,442.35 127.76,420.17 127.09,415.13 125.92,418.49 124.57,423.53 122.89,429.41 121.21,433.61 119.53,431.09 118.86,429.33 118.18,426.26 117.68,418.49 117.34,424.5 116.84,434.2 116.34,442.35" fill="#000" fill-opacity="0.07"/>
<polygon points="116.34,442.35 116.84,430.67 117.34,420.38 117.68,418.49 118.18,423.11 118.86,427.94 119.53,431.09 121.21,433.61 122.89,429.41 124.57,423.53 125.92,418.49 127.09,415.13 127.76,420.17 128.27,442.35 128.77,450.84 129.61,453.36 130.29,455.46 130.79,416.81 131.29,467.23 131.8,442.35 131.8,442.35 131.29,467.23 130.79,416.81 130.29,455.46 129.61,458.82 128.77,454.2 128.27,442.35 127.76,420.17 127.09,415.13 125.92,418.49 124.57,423.53 122.89,429.41 121.21,433.61 119.53,431.09 118.86,428.99 118.18,425.42 117.68,418.49 117.34,423.32 116.84,433.19 116.34,442.35" fill="#000" fill-opacity="0.1"/>
<polygon points="116.34,442.35 116.84,431.33 117.34,421.14 117.68,418.49 118.18,423.76 118.86,428.27 119.53,431.09 121.21,433.61 122.89,429.41 124.57,423.53 125.92,418.49 127.09,415.13 127.76,420.17 128.27,442.35 128.77,451.5 129.61,454.45 130.29,455.46 130.79,416.81 131.29,467.23 131.8,442.35 131.8,442.35 131.29,467.23 130.79,416.81 130.29,455.46 129.61,457.08 128.77,453.11 128.27,442.35 127.76,420.17 127.09,415.13 125.92,418.49 124.57,423.53 122.89,429.41 121.21,433.61 119.53,431.09 118.86,428.77 118.18,424.87 117.68,418.49 117.34,422.55 116.84,432.54 116.34,442.35" fill="#000" fill-opacity="0.14"/>
<polyline points="116.34,442.35 116.46,440.22 116.59,435.64 116.71,432.63 116.84,431.93 116.97,427.09 117.09,428.55 117.22,423.75 117.34,421.85 117.46,422.56 117.57,417.97 117.68,418.49 117.81,419.89 117.93,421.81 118.06,421.1 118.18,424.37 118.32,422.98 118.45,424.31 118.59,427.01 118.72,427.61 118.86,428.57 118.99,427.39 119.13,430.25 119.26,430.13 119.39,430.82 119.53,431.09 120.37,432.35 121.21,433.61 122.05,431.51 122.89,429.41 123.73,426.47 124.57,423.53 125.24,421.01 125.92,418.49 126.5,416.81 127.09,415.13 127.76,420.17 128.27,442.35 128.39,443.79 128.52,446.94 128.65,452.65 128.77,452.1 128.91,453.3 129.05,453.43 129.19,451.93 129.33,450.67 129.47,453.31 129.61,455.46 129.75,458.8 129.88,459.75 130.02,458.03 130.15,457.73 130.29,455.46 130.79,416.81 131.29,467.23 131.8,442.35" fill="none" stroke="#000" stroke-opacity="1.0" stroke-width="0.45" stroke-linejoin="round"/>
<polygon points="142.55,442.4 142.55,442.35 142.89,420.17 143.39,428.57 144.07,427.73 145.08,429.41 145.41,442.35 145.41,442.4" fill="#4DBEEE"/>
<polyline points="142.55,442.35 142.89,420.17 143.39,428.57 144.07,427.73 145.08,429.41 145.41,442.35" fill="none" stroke="#000" stroke-opacity="1.0" stroke-width="0.38" stroke-linejoin="round"/>
<polygon points="145.75,442.4 145.75,442.35 146.25,463.87 146.92,477.65 147.43,455.46 147.55,452.31 147.68,449.14 147.81,449.86 147.93,444.03 148.06,443.64 148.18,450.25 148.31,444.65 148.44,445.07 148.56,450.99 148.69,442.37 148.82,446.7 148.94,445.38 149.07,444.46 149.19,450.98 149.32,446.39 149.45,443.91 149.57,445.27 149.7,444.97 149.82,447.45 149.95,452.82 150.08,456.73 150.2,448.88 150.33,448.78 150.45,458.94 150.58,450 150.71,446.49 150.83,453.77 150.96,450.92 151.08,450.7 151.21,454.7 151.34,457.76 151.46,450.72 151.59,447.82 151.71,452.59 151.84,451.32 151.97,450.45 152.09,451.86 152.22,450.94 152.34,453.66 152.47,449 152.6,453.77 152.72,456.57 152.85,452.63 152.97,454.96 153.11,452.64 153.24,467.86 153.37,455.47 153.5,464.79 153.64,464.98 153.77,462.82 153.9,454.89 154.03,467.11 154.16,463.96 154.3,452.71 154.43,461.58 154.56,459.6 154.69,460.43 154.82,456.81 154.95,455.64 155.08,452.02 155.21,455.68 155.34,456.38 155.47,456.87 155.6,453.12 155.73,455.65 155.86,459.94 155.99,457.46 156.12,456.59 156.25,463.33 156.37,460.69 156.5,457.98 156.63,463.93 156.76,457.53 156.89,470.33 157.02,454.56 157.15,454.03 157.28,456.3 157.41,460.37 157.54,458.36 157.67,457.51 157.8,459.94 157.93,457.91 158.06,468.26 158.18,458.66 158.32,459.91 158.45,469.57 158.59,459.1 158.72,468.03 158.86,458.46 158.99,456.8 159.13,464.64 159.26,460.18 159.39,455.99 159.53,458.99 159.66,461.68 159.79,460.82 159.92,457.29 160.05,456.4 160.18,456.8 160.31,459.28 160.44,457.8 160.58,460.99 160.71,457.48 160.85,457.36 160.99,459.95 161.13,456.65 161.27,456.39 161.41,456.28 161.55,455.97 162.22,450.42 162.55,442.35 162.55,442.4" fill="#A2142F"/>
<polygon points="145.75,442.35 146.25,463.87 146.92,477.65 147.43,455.46 147.93,442.35 148.94,442.02 150.96,445.88 152.97,449.92 154.82,451.76 156.5,452.94 158.18,453.61 159.53,454.79 160.71,454.96 161.55,455.97 162.22,450.42 162.55,442.35 162.55,442.35 162.22,450.42 161.55,455.97 160.71,464.2 159.53,469.08 158.18,470.42 156.5,470.59 154.82,470.25 152.97,468.4 150.96,462.69 148.94,455.46 147.93,449.08 147.43,455.46 146.92,477.65 146.25,463.87 145.75,442.35" fill="#000" fill-opacity="0.05"/>
<polygon points="145.75,442.35 146.25,463.87 146.92,477.65 147.43,455.46 147.93,442.86 148.94,443.03 150.96,447.39 152.97,451.43 154.82,453.28 156.5,454.45 158.18,455.13 159.53,456.05 160.71,455.71 161.55,455.97 162.22,450.42 162.55,442.35 162.55,442.35 162.22,450.42 161.55,455.97 160.71,462.18 159.53,466.05 158.18,466.89 156.5,466.81 154.82,466.22 152.97,464.37 150.96,459.16 148.94,452.44 147.93,447.56 147.43,455.46 146.92,477.65 146.25,463.87 145.75,442.35" fill="#000" fill-opacity="0.05"/>
<polygon points="145.75,442.35 146.25,463.87 146.92,477.65 147.43,455.46 147.93,443.28 148.94,443.87 150.96,448.66 152.97,452.69 154.82,454.54 156.5,455.71 158.18,456.39 159.53,457.1 160.71,456.34 161.55,455.97 162.22,450.42 162.55,442.35 162.55,442.35 162.22,450.42 161.55,455.97 160.71,460.5 159.53,463.53 158.18,463.95 156.5,463.66 154.82,462.86 152.97,461.01 150.96,456.22 148.94,449.92 147.93,446.3 147.43,455.46 146.92,477.65 146.25,463.87 145.75,442.35" fill="#000" fill-opacity="0.07"/>
<polygon points="145.75,442.35 146.25,463.87 146.92,477.65 147.43,455.46 147.93,443.61 148.94,444.54 150.96,449.66 152.97,453.7 154.82,455.55 156.5,456.72 158.18,457.39 159.53,457.94 160.71,456.85 161.55,455.97 162.22,450.42 162.55,442.35 162.55,442.35 162.22,450.42 161.55,455.97 160.71,459.16 159.53,461.51 158.18,461.6 156.5,461.13 154.82,460.17 152.97,458.32 150.96,453.87 148.94,447.9 147.93,445.29 147.43,455.46 146.92,477.65 146.25,463.87 145.75,442.35" fill="#000" fill-opacity="0.1"/>
<polygon points="145.75,442.35 146.25,463.87 146.92,477.65 147.43,455.46 147.93,443.83 148.94,444.97 150.96,450.32 152.97,454.35 154.82,456.2 156.5,457.38 158.18,458.05 159.53,458.49 160.71,457.18 161.55,455.97 162.22,450.42 162.55,442.35 162.55,442.35 162.22,450.42 161.55,455.97 160.71,458.29 159.53,460.2 158.18,460.07 156.5,459.5 154.82,458.42 152.97,456.57 150.96,452.34 148.94,446.59 147.93,444.64 147.43,455.46 146.92,477.65 146.25,463.87 145.75,442.35" fill="#000" fill-opacity="0.14"/>
<polyline points="145.75,442.35 146.25,463.87 146.92,477.65 147.43,455.46 147.55,452.31 147.68,449.14 147.81,449.86 147.93,444.03 148.06,443.64 148.18,450.25 148.31,444.65 148.44,445.07 148.56,450.99 148.69,442.37 148.82,446.7 148.94,445.38 149.07,444.46 149.19,450.98 149.32,446.39 149.45,443.91 149.57,445.27 149.7,444.97 149.82,447.45 149.95,452.82 150.08,456.73 150.2,448.88 150.33,448.78 150.45,458.94 150.58,450 150.71,446.49 150.83,453.77 150.96,450.92 151.08,450.7 151.21,454.7 151.34,457.76 151.46,450.72 151.59,447.82 151.71,452.59 151.84,451.32 151.97,450.45 152.09,451.86 152.22,450.94 152.34,453.66 152.47,449 152.6,453.77 152.72,456.57 152.85,452.63 152.97,454.96 153.11,452.64 153.24,467.86 153.37,455.47 153.5,464.79 153.64,464.98 153.77,462.82 153.9,454.89 154.03,467.11 154.16,463.96 154.3,452.71 154.43,461.58 154.56,459.6 154.69,460.43 154.82,456.81 154.95,455.64 155.08,452.02 155.21,455.68 155.34,456.38 155.47,456.87 155.6,453.12 155.73,455.65 155.86,459.94 155.99,457.46 156.12,456.59 156.25,463.33 156.37,460.69 156.5,457.98 156.63,463.93 156.76,457.53 156.89,470.33 157.02,454.56 157.15,454.03 157.28,456.3 157.41,460.37 157.54,458.36 157.67,457.51 157.8,459.94 157.93,457.91 158.06,468.26 158.18,458.66 158.32,459.91 158.45,469.57 158.59,459.1 158.72,468.03 158.86,458.46 158.99,456.8 159.13,464.64 159.26,460.18 159.39,455.99 159.53,458.99 159.66,461.68 159.79,460.82 159.92,457.29 160.05,456.4 160.18,456.8 160.31,459.28 160.44,457.8 160.58,460.99 160.71,457.48 160.85,457.36 160.99,459.95 161.13,456.65 161.27,456.39 161.41,456.28 161.55,455.97 162.22,450.42 162.55,442.35" fill="none" stroke="#000" stroke-opacity="1.0" stroke-width="0.45" stroke-linejoin="round"/>
<polygon points="161.85,442.4 161.85,442.35 161.97,441.36 162.1,439.78 162.23,437.87 162.35,433.61 162.49,437.51 162.62,440.3 162.76,445.18 162.89,446.52 163.03,448.74 163.16,448.11 163.29,439.97 163.43,439.88 163.56,432.6 163.7,428.57 163.83,425.67 163.97,427.87 164.1,426.6 164.24,425.38 164.37,424.37 164.5,426.95 164.64,428.61 164.77,433.35 164.91,436.79 165.04,438.66 165.18,436.58 165.31,438.45 165.45,433.57 165.58,432.52 165.71,430.25 165.85,434.4 165.98,436.55 166.12,439.64 166.25,437.93 166.39,443.7 166.52,439.31 166.66,437.64 166.79,434.73 166.92,433.92 167.06,433.61 167.19,431.81 167.33,438.25 167.46,437.03 167.6,437.77 167.73,440.34 167.87,441.54 168,445.71 168.13,441.9 168.27,445.33 168.4,448.74 168.54,443.48 168.67,444.7 168.81,444.42 168.94,438.45 169.08,436.97 169.21,436.64 169.34,440.19 169.48,446.34 169.61,450.72 169.75,450.42 169.88,440.03 170.02,433.07 170.15,428.65 170.29,424.32 170.42,413.45 170.55,419.13 170.69,421.49 170.82,427.47 170.96,433.92 171.09,442.02 171.23,440.3 171.36,439.5 171.5,434.84 171.63,439.63 171.76,435.29 171.9,437.36 172.03,436.72 172.17,441.4 172.3,443.92 172.44,445.38 172.57,443.83 172.71,439.23 172.84,438.37 172.97,438.58 173.11,438.66 173.24,438.52 173.38,438.63 173.51,439.49 173.65,443.18 173.78,444.03 173.92,441.84 174.05,443.49 174.18,438.46 174.32,443.44 174.45,440.34 174.59,440.44 174.72,441.22 174.86,440.35 174.99,440.68 175.13,442.86 175.26,441 175.39,441.21 175.53,438.96 175.66,438.88 175.8,433.61 175.93,434.58 176.07,430.09 176.2,426.2 176.34,427.18 176.47,426.89 176.61,429.28 176.74,432.27 176.87,438.14 177.01,435.76 177.14,440.34 177.28,440.15 177.41,440.91 177.55,444.12 177.68,442.03 177.82,442.35 177.82,442.4" fill="#0072BD"/>
<polygon points="161.85,438.85 162.35,430.11 163.03,445.24 163.7,425.07 164.37,420.87 165.04,435.16 165.71,426.75 166.39,440.2 167.06,430.11 167.73,436.84 168.4,445.24 169.08,433.47 169.75,446.92 170.42,409.95 171.09,438.52 171.76,431.79 172.44,441.88 173.11,435.16 173.78,440.53 174.45,436.84 175.13,439.36 175.8,430.11 176.47,423.39 177.14,436.84 177.82,438.85 177.82,445.85 177.14,443.84 176.47,430.39 175.8,437.11 175.13,446.36 174.45,443.84 173.78,447.53 173.11,442.16 172.44,448.88 171.76,438.79 171.09,445.52 170.42,416.95 169.75,453.92 169.08,440.47 168.4,452.24 167.73,443.84 167.06,437.11 166.39,447.2 165.71,433.75 165.04,442.16 164.37,427.87 163.7,432.07 163.03,452.24 162.35,437.11 161.85,445.85" fill="#000" fill-opacity="0.05"/>
<polygon points="161.85,439.9 162.35,431.16 163.03,446.29 163.7,426.12 164.37,421.92 165.04,436.21 165.71,427.8 166.39,441.25 167.06,431.16 167.73,437.89 168.4,446.29 169.08,434.52 169.75,447.97 170.42,411 171.09,439.57 171.76,432.84 172.44,442.93 173.11,436.21 173.78,441.58 174.45,437.89 175.13,440.41 175.8,431.16 176.47,424.44 177.14,437.89 177.82,439.9 177.82,444.8 177.14,442.79 176.47,429.34 175.8,436.06 175.13,445.31 174.45,442.79 173.78,446.48 173.11,441.11 172.44,447.83 171.76,437.74 171.09,444.47 170.42,415.9 169.75,452.87 169.08,439.42 168.4,451.19 167.73,442.79 167.06,436.06 166.39,446.15 165.71,432.7 165.04,441.11 164.37,426.82 163.7,431.02 163.03,451.19 162.35,436.06 161.85,444.8" fill="#000" fill-opacity="0.05"/>
<polygon points="161.85,440.78 162.35,432.04 163.03,447.16 163.7,427 164.37,422.79 165.04,437.08 165.71,428.68 166.39,442.12 167.06,432.04 167.73,438.76 168.4,447.16 169.08,435.4 169.75,448.85 170.42,411.87 171.09,440.44 171.76,433.72 172.44,443.8 173.11,437.08 173.78,442.46 174.45,438.76 175.13,441.28 175.8,432.04 176.47,425.32 177.14,438.76 177.82,440.78 177.82,443.93 177.14,441.91 176.47,428.47 175.8,435.19 175.13,444.43 174.45,441.91 173.78,445.61 173.11,440.23 172.44,446.95 171.76,436.87 171.09,443.59 170.42,415.02 169.75,452 169.08,438.55 168.4,450.31 167.73,441.91 167.06,435.19 166.39,445.27 165.71,431.83 165.04,440.23 164.37,425.94 163.7,430.15 163.03,450.31 162.35,435.19 161.85,443.93" fill="#000" fill-opacity="0.07"/>
<polygon points="161.85,441.48 162.35,432.74 163.03,447.86 163.7,427.7 164.37,423.49 165.04,437.78 165.71,429.38 166.39,442.82 167.06,432.74 167.73,439.46 168.4,447.86 169.08,436.1 169.75,449.55 170.42,412.57 171.09,441.14 171.76,434.42 172.44,444.5 173.11,437.78 173.78,443.16 174.45,439.46 175.13,441.98 175.8,432.74 176.47,426.02 177.14,439.46 177.82,441.48 177.82,443.23 177.14,441.21 176.47,427.77 175.8,434.49 175.13,443.73 174.45,441.21 173.78,444.91 173.11,439.53 172.44,446.25 171.76,436.17 171.09,442.89 170.42,414.32 169.75,451.3 169.08,437.85 168.4,449.61 167.73,441.21 167.06,434.49 166.39,444.57 165.71,431.13 165.04,439.53 164.37,425.24 163.7,429.45 163.03,449.61 162.35,434.49 161.85,443.23" fill="#000" fill-opacity="0.1"/>
<polygon points="161.85,441.93 162.35,433.19 163.03,448.32 163.7,428.15 164.37,423.95 165.04,438.24 165.71,429.83 166.39,443.28 167.06,433.19 167.73,439.92 168.4,448.32 169.08,436.55 169.75,450 170.42,413.03 171.09,441.6 171.76,434.87 172.44,444.96 173.11,438.24 173.78,443.61 174.45,439.92 175.13,442.44 175.8,433.19 176.47,426.47 177.14,439.92 177.82,441.93 177.82,442.77 177.14,440.76 176.47,427.31 175.8,434.03 175.13,443.28 174.45,440.76 173.78,444.45 173.11,439.08 172.44,445.8 171.76,435.71 171.09,442.44 170.42,413.87 169.75,450.84 169.08,437.39 168.4,449.16 167.73,440.76 167.06,434.03 166.39,444.12 165.71,430.67 165.04,439.08 164.37,424.79 163.7,428.99 163.03,449.16 162.35,434.03 161.85,442.77" fill="#000" fill-opacity="0.14"/>
<polyline points="161.85,442.35 161.97,441.36 162.1,439.78 162.23,437.87 162.35,433.61 162.49,437.51 162.62,440.3 162.76,445.18 162.89,446.52 163.03,448.74 163.16,448.11 163.29,439.97 163.43,439.88 163.56,432.6 163.7,428.57 163.83,425.67 163.97,427.87 164.1,426.6 164.24,425.38 164.37,424.37 164.5,426.95 164.64,428.61 164.77,433.35 164.91,436.79 165.04,438.66 165.18,436.58 165.31,438.45 165.45,433.57 165.58,432.52 165.71,430.25 165.85,434.4 165.98,436.55 166.12,439.64 166.25,437.93 166.39,443.7 166.52,439.31 166.66,437.64 166.79,434.73 166.92,433.92 167.06,433.61 167.19,431.81 167.33,438.25 167.46,437.03 167.6,437.77 167.73,440.34 167.87,441.54 168,445.71 168.13,441.9 168.27,445.33 168.4,448.74 168.54,443.48 168.67,444.7 168.81,444.42 168.94,438.45 169.08,436.97 169.21,436.64 169.34,440.19 169.48,446.34 169.61,450.72 169.75,450.42 169.88,440.03 170.02,433.07 170.15,428.65 170.29,424.32 170.42,413.45 170.55,419.13 170.69,421.49 170.82,427.47 170.96,433.92 171.09,442.02 171.23,440.3 171.36,439.5 171.5,434.84 171.63,439.63 171.76,435.29 171.9,437.36 172.03,436.72 172.17,441.4 172.3,443.92 172.44,445.38 172.57,443.83 172.71,439.23 172.84,438.37 172.97,438.58 173.11,438.66 173.24,438.52 173.38,438.63 173.51,439.49 173.65,443.18 173.78,444.03 173.92,441.84 174.05,443.49 174.18,438.46 174.32,443.44 174.45,440.34 174.59,440.44 174.72,441.22 174.86,440.35 174.99,440.68 175.13,442.86 175.26,441 175.39,441.21 175.53,438.96 175.66,438.88 175.8,433.61 175.93,434.58 176.07,430.09 176.2,426.2 176.34,427.18 176.47,426.89 176.61,429.28 176.74,432.27 176.87,438.14 177.01,435.76 177.14,440.34 177.28,440.15 177.41,440.91 177.55,444.12 177.68,442.03 177.82,442.35" fill="none" stroke="#000" stroke-opacity="1.0" stroke-width="0.62" stroke-linejoin="round"/>
<polygon points="179.66,442.4 179.66,442.35 180.17,458.82 180.67,442.35 181.18,442.35 181.51,431.93 182.35,425.21 182.49,424.63 182.63,424.11 182.77,422.23 182.91,421.65 183.05,422.44 183.19,421.51 183.32,422.05 183.45,419.55 183.59,420.88 183.72,420.59 183.85,420.48 183.98,419.93 184.11,419.82 184.24,417.68 184.37,418.82 184.5,416.56 184.62,417.28 184.75,419.54 184.87,419.09 185,419.84 185.13,419.97 185.25,419.85 185.38,419.83 185.51,417.91 185.64,418.66 185.77,421.13 185.9,420.6 186.03,418.63 186.16,421.02 186.29,420.66 186.42,420.58 186.55,421.51 186.69,421.96 186.82,421.52 186.96,419.04 187.09,422.1 187.23,419.82 187.36,422 187.5,422.23 187.63,422.2 187.76,421.41 187.9,422.18 188.03,422.09 188.16,420.7 188.29,421.65 188.42,422.06 188.55,421.35 188.68,421.78 188.81,422.36 188.94,420.66 189.08,421.51 189.21,421.79 189.34,421.08 189.47,420.18 189.6,420.96 189.73,419.01 189.86,420.63 189.99,418.84 190.12,420.13 190.25,419.83 190.38,420.2 190.51,417.88 190.64,419.18 190.77,419.34 190.91,419.26 191.04,419.31 191.17,417.25 191.3,417.42 191.43,418.15 191.57,418.5 191.71,417.01 191.85,417.99 191.99,418.82 192.13,418.81 192.27,418.82 192.61,433.61 192.77,442.35 192.77,442.4" fill="#D95319"/>
<polygon points="179.66,442.35 180.17,458.82 180.67,442.35 181.18,442.35 181.51,431.93 182.35,425.21 183.19,419.16 184.37,416.13 185.38,417.14 186.55,418.82 187.9,419.5 189.08,418.82 190.25,417.14 191.43,415.8 192.27,418.82 192.61,433.61 192.77,442.35 192.77,442.35 192.61,433.61 192.27,418.82 191.43,418.99 190.25,420.67 189.08,422.35 187.9,423.03 186.55,422.35 185.38,420.67 184.37,419.66 183.19,422.35 182.35,425.21 181.51,431.93 181.18,442.35 180.67,442.35 180.17,458.82 179.66,442.35" fill="#000" fill-opacity="0.05"/>
<polygon points="179.66,442.35 180.17,458.82 180.67,442.35 181.18,442.35 181.51,431.93 182.35,425.21 183.19,419.87 184.37,416.94 185.38,417.95 186.55,419.63 187.9,420.3 189.08,419.63 190.25,417.95 191.43,416.5 192.27,418.82 192.61,433.61 192.77,442.35 192.77,442.35 192.61,433.61 192.27,418.82 191.43,418.74 190.25,420.42 189.08,422.1 187.9,422.77 186.55,422.1 185.38,420.42 184.37,419.41 183.19,422.1 182.35,425.21 181.51,431.93 181.18,442.35 180.67,442.35 180.17,458.82 179.66,442.35" fill="#000" fill-opacity="0.05"/>
<polygon points="179.66,442.35 180.17,458.82 180.67,442.35 181.18,442.35 181.51,431.93 182.35,425.21 183.19,420.45 184.37,417.61 185.38,418.62 186.55,420.3 187.9,420.97 189.08,420.3 190.25,418.62 191.43,417.09 192.27,418.82 192.61,433.61 192.77,442.35 192.77,442.35 192.61,433.61 192.27,418.82 191.43,418.53 190.25,420.21 189.08,421.89 187.9,422.56 186.55,421.89 185.38,420.21 184.37,419.2 183.19,421.89 182.35,425.21 181.51,431.93 181.18,442.35 180.67,442.35 180.17,458.82 179.66,442.35" fill="#000" fill-opacity="0.07"/>
<polygon points="179.66,442.35 180.17,458.82 180.67,442.35 181.18,442.35 181.51,431.93 182.35,425.21 183.19,420.92 184.37,418.15 185.38,419.16 186.55,420.84 187.9,421.51 189.08,420.84 190.25,419.16 191.43,417.56 192.27,418.82 192.61,433.61 192.77,442.35 192.77,442.35 192.61,433.61 192.27,418.82 191.43,418.36 190.25,420.04 189.08,421.72 187.9,422.39 186.55,421.72 185.38,420.04 184.37,419.03 183.19,421.72 182.35,425.21 181.51,431.93 181.18,442.35 180.67,442.35 180.17,458.82 179.66,442.35" fill="#000" fill-opacity="0.1"/>
<polygon points="179.66,442.35 180.17,458.82 180.67,442.35 181.18,442.35 181.51,431.93 182.35,425.21 183.19,421.23 184.37,418.5 185.38,419.51 186.55,421.19 187.9,421.86 189.08,421.19 190.25,419.51 191.43,417.87 192.27,418.82 192.61,433.61 192.77,442.35 192.77,442.35 192.61,433.61 192.27,418.82 191.43,418.25 190.25,419.93 189.08,421.61 187.9,422.29 186.55,421.61 185.38,419.93 184.37,418.92 183.19,421.61 182.35,425.21 181.51,431.93 181.18,442.35 180.67,442.35 180.17,458.82 179.66,442.35" fill="#000" fill-opacity="0.14"/>
<polyline points="179.66,442.35 180.17,458.82 180.67,442.35 181.18,442.35 181.51,431.93 182.35,425.21 182.49,424.63 182.63,424.11 182.77,422.23 182.91,421.65 183.05,422.44 183.19,421.51 183.32,422.05 183.45,419.55 183.59,420.88 183.72,420.59 183.85,420.48 183.98,419.93 184.11,419.82 184.24,417.68 184.37,418.82 184.5,416.56 184.62,417.28 184.75,419.54 184.87,419.09 185,419.84 185.13,419.97 185.25,419.85 185.38,419.83 185.51,417.91 185.64,418.66 185.77,421.13 185.9,420.6 186.03,418.63 186.16,421.02 186.29,420.66 186.42,420.58 186.55,421.51 186.69,421.96 186.82,421.52 186.96,419.04 187.09,422.1 187.23,419.82 187.36,422 187.5,422.23 187.63,422.2 187.76,421.41 187.9,422.18 188.03,422.09 188.16,420.7 188.29,421.65 188.42,422.06 188.55,421.35 188.68,421.78 188.81,422.36 188.94,420.66 189.08,421.51 189.21,421.79 189.34,421.08 189.47,420.18 189.6,420.96 189.73,419.01 189.86,420.63 189.99,418.84 190.12,420.13 190.25,419.83 190.38,420.2 190.51,417.88 190.64,419.18 190.77,419.34 190.91,419.26 191.04,419.31 191.17,417.25 191.3,417.42 191.43,418.15 191.57,418.5 191.71,417.01 191.85,417.99 191.99,418.82 192.13,418.81 192.27,418.82 192.61,433.61 192.77,442.35" fill="none" stroke="#000" stroke-opacity="1.0" stroke-width="0.45" stroke-linejoin="round"/>
<polygon points="193.45,442.4 193.45,442.35 193.78,455.46 194.62,458.82 195.46,459.24 196.3,459.66 197.14,459.92 197.98,460.17 198.82,460.34 199.66,460.5 200.5,460.76 201.34,461.01 202.18,461.18 203.03,461.34 203.87,461.09 204.71,460.84 205.55,460.5 206.39,460.17 207.23,459.66 208.07,459.16 208.24,442.35 208.24,442.4" fill="#EDB120"/>
<polyline points="193.45,442.35 193.78,455.46 194.62,458.82 195.46,459.24 196.3,459.66 197.14,459.92 197.98,460.17 198.82,460.34 199.66,460.5 200.5,460.76 201.34,461.01 202.18,461.18 203.03,461.34 203.87,461.09 204.71,460.84 205.55,460.5 206.39,460.17 207.23,459.66 208.07,459.16 208.24,442.35" fill="none" stroke="#000" stroke-opacity="1.0" stroke-width="0.38" stroke-linejoin="round"/>
<line x1="40.4" y1="442.4" x2="208.5" y2="442.4" stroke="#3a3a3a" stroke-width="0.45" />
<rect x="40.4" y="375.3" width="168.1" height="134.2" fill="none" stroke="#6e6e6e" stroke-width="0.6"/>
<line x1="40.4" y1="498.32" x2="41.4" y2="498.32" stroke="#555" stroke-width="0.5" />
<line x1="208.5" y1="498.32" x2="207.5" y2="498.32" stroke="#555" stroke-width="0.5" />
<line x1="40.4" y1="487.13" x2="42.1" y2="487.13" stroke="#555" stroke-width="0.5" />
<line x1="208.5" y1="487.13" x2="206.8" y2="487.13" stroke="#555" stroke-width="0.5" />
<line x1="40.4" y1="475.95" x2="41.4" y2="475.95" stroke="#555" stroke-width="0.5" />
<line x1="208.5" y1="475.95" x2="207.5" y2="475.95" stroke="#555" stroke-width="0.5" />
<line x1="40.4" y1="464.77" x2="42.1" y2="464.77" stroke="#555" stroke-width="0.5" />
<line x1="208.5" y1="464.77" x2="206.8" y2="464.77" stroke="#555" stroke-width="0.5" />
<line x1="40.4" y1="453.58" x2="41.4" y2="453.58" stroke="#555" stroke-width="0.5" />
<line x1="208.5" y1="453.58" x2="207.5" y2="453.58" stroke="#555" stroke-width="0.5" />
<line x1="40.4" y1="442.4" x2="42.1" y2="442.4" stroke="#555" stroke-width="0.5" />
<line x1="208.5" y1="442.4" x2="206.8" y2="442.4" stroke="#555" stroke-width="0.5" />
<line x1="40.4" y1="431.22" x2="41.4" y2="431.22" stroke="#555" stroke-width="0.5" />
<line x1="208.5" y1="431.22" x2="207.5" y2="431.22" stroke="#555" stroke-width="0.5" />
<line x1="40.4" y1="420.03" x2="42.1" y2="420.03" stroke="#555" stroke-width="0.5" />
<line x1="208.5" y1="420.03" x2="206.8" y2="420.03" stroke="#555" stroke-width="0.5" />
<line x1="40.4" y1="408.85" x2="41.4" y2="408.85" stroke="#555" stroke-width="0.5" />
<line x1="208.5" y1="408.85" x2="207.5" y2="408.85" stroke="#555" stroke-width="0.5" />
<line x1="40.4" y1="397.67" x2="42.1" y2="397.67" stroke="#555" stroke-width="0.5" />
<line x1="208.5" y1="397.67" x2="206.8" y2="397.67" stroke="#555" stroke-width="0.5" />
<line x1="40.4" y1="386.48" x2="41.4" y2="386.48" stroke="#555" stroke-width="0.5" />
<line x1="208.5" y1="386.48" x2="207.5" y2="386.48" stroke="#555" stroke-width="0.5" />
<text x="36.6" y="512.25" font-size="7.5" text-anchor="end" fill="#2a2a2a" stroke="#2a2a2a" stroke-width="0.16" >-0.03</text>
<text x="36.6" y="489.88" font-size="7.5" text-anchor="end" fill="#2a2a2a" stroke="#2a2a2a" stroke-width="0.16" >-0.02</text>
<text x="36.6" y="467.52" font-size="7.5" text-anchor="end" fill="#2a2a2a" stroke="#2a2a2a" stroke-width="0.16" >-0.01</text>
<text x="36.6" y="445.15" font-size="7.5" text-anchor="end" fill="#2a2a2a" stroke="#2a2a2a" stroke-width="0.16" >0</text>
<text x="36.6" y="422.78" font-size="7.5" text-anchor="end" fill="#2a2a2a" stroke="#2a2a2a" stroke-width="0.16" >0.01</text>
<text x="36.6" y="400.42" font-size="7.5" text-anchor="end" fill="#2a2a2a" stroke="#2a2a2a" stroke-width="0.16" >0.02</text>
<text x="36.6" y="378.05" font-size="7.5" text-anchor="end" fill="#2a2a2a" stroke="#2a2a2a" stroke-width="0.16" >0.03</text>
<text x="47.74" y="520.2" font-size="7.5" text-anchor="middle" fill="#2a2a2a" stroke="#2a2a2a" stroke-width="0.16" >1</text>
<text x="63.02" y="520.2" font-size="7.5" text-anchor="middle" fill="#2a2a2a" stroke="#2a2a2a" stroke-width="0.16" >2</text>
<text x="78.3" y="520.2" font-size="7.5" text-anchor="middle" fill="#2a2a2a" stroke="#2a2a2a" stroke-width="0.16" >3</text>
<text x="93.59" y="520.2" font-size="7.5" text-anchor="middle" fill="#2a2a2a" stroke="#2a2a2a" stroke-width="0.16" >4</text>
<text x="108.87" y="520.2" font-size="7.5" text-anchor="middle" fill="#2a2a2a" stroke="#2a2a2a" stroke-width="0.16" >5</text>
<text x="124.15" y="520.2" font-size="7.5" text-anchor="middle" fill="#2a2a2a" stroke="#2a2a2a" stroke-width="0.16" >6</text>
<text x="139.43" y="520.2" font-size="7.5" text-anchor="middle" fill="#2a2a2a" stroke="#2a2a2a" stroke-width="0.16" >7</text>
<text x="154.71" y="520.2" font-size="7.5" text-anchor="middle" fill="#2a2a2a" stroke="#2a2a2a" stroke-width="0.16" >8</text>
<text x="170" y="520.2" font-size="7.5" text-anchor="middle" fill="#2a2a2a" stroke="#2a2a2a" stroke-width="0.16" >9</text>
<text x="185.28" y="520.2" font-size="7.5" text-anchor="middle" fill="#2a2a2a" stroke="#2a2a2a" stroke-width="0.16" >10</text>
<text x="200.56" y="520.2" font-size="7.5" text-anchor="middle" fill="#2a2a2a" stroke="#2a2a2a" stroke-width="0.16" >11</text>
<text x="124.15" y="530.5" font-size="8.4" text-anchor="middle" fill="#2a2a2a" stroke="#2a2a2a" stroke-width="0.16" >Variable number</text>
<text transform="translate(12.2 442.4) rotate(-90)" font-size="8.4" text-anchor="middle" fill="#2a2a2a" stroke="#2a2a2a" stroke-width="0.16">Weight* on LV<tspan font-size="6.6" dy="2.8">1</tspan></text>
<text x="116" y="544.3" font-size="10.2" text-anchor="middle" fill="#111" font-family='"Liberation Serif", "Times New Roman", serif'>(<tspan font-weight="bold" stroke="#111" stroke-width="0.25">d</tspan>)</text>
</g>
<g id="panel-e">
<rect x="302" y="375.3" width="168.2" height="134.2" fill="#fbfbfb" />
<rect x="302.4" y="375.3" width="7.7" height="134.2" fill="#d9d9d9" />
<rect x="317.69" y="375.3" width="7.7" height="134.2" fill="#d9d9d9" />
<rect x="332.98" y="375.3" width="7.7" height="134.2" fill="#d9d9d9" />
<rect x="348.27" y="375.3" width="7.7" height="134.2" fill="#d9d9d9" />
<rect x="363.56" y="375.3" width="7.7" height="134.2" fill="#d9d9d9" />
<rect x="378.85" y="375.3" width="7.7" height="134.2" fill="#d9d9d9" />
<rect x="394.15" y="375.3" width="7.7" height="134.2" fill="#d9d9d9" />
<rect x="409.44" y="375.3" width="7.7" height="134.2" fill="#d9d9d9" />
<rect x="424.73" y="375.3" width="7.7" height="134.2" fill="#d9d9d9" />
<rect x="440.02" y="375.3" width="7.7" height="134.2" fill="#d9d9d9" />
<rect x="455.31" y="375.3" width="7.7" height="134.2" fill="#d9d9d9" />
<rect x="316.89" y="375.3" width="0.8" height="134.2" fill="#8a8a8a" />
<rect x="332.18" y="375.3" width="0.8" height="134.2" fill="#8a8a8a" />
<rect x="347.47" y="375.3" width="0.8" height="134.2" fill="#8a8a8a" />
<rect x="362.76" y="375.3" width="0.8" height="134.2" fill="#8a8a8a" />
<rect x="378.05" y="375.3" width="0.8" height="134.2" fill="#8a8a8a" />
<rect x="393.35" y="375.3" width="0.8" height="134.2" fill="#8a8a8a" />
<rect x="408.64" y="375.3" width="0.8" height="134.2" fill="#8a8a8a" />
<rect x="423.93" y="375.3" width="0.8" height="134.2" fill="#8a8a8a" />
<rect x="439.22" y="375.3" width="0.8" height="134.2" fill="#8a8a8a" />
<rect x="454.51" y="375.3" width="0.8" height="134.2" fill="#8a8a8a" />
<polygon points="301.7,442.4 301.7,442.35 302.03,428.57 302.71,430.59 303.38,432.77 303.71,442.35 303.88,442.35 304.05,458.32 304.89,464.71 305.9,473.61 306.49,476.47 307.08,479.33 307.75,476.97 308.25,475.63 308.92,474.62 309.76,472.94 310.44,473.95 310.77,475.97 311.11,473.28 312.12,472.27 312.9,471.88 313.69,471.48 314.47,471.09 315.25,470.87 316.04,470.64 316.82,470.42 317.16,442.35 317.16,442.4" fill="#D95319"/>
<polyline points="301.7,442.35 302.03,428.57 302.71,430.59 303.38,432.77 303.71,442.35 303.88,442.35 304.05,458.32 304.89,464.71 305.9,473.61 306.49,476.47 307.08,479.33 307.75,476.97 308.25,475.63 308.92,474.62 309.76,472.94 310.44,473.95 310.77,475.97 311.11,473.28 312.12,472.27 312.9,471.88 313.69,471.48 314.47,471.09 315.25,470.87 316.04,470.64 316.82,470.42 317.16,442.35" fill="none" stroke="#000" stroke-opacity="1.0" stroke-width="0.38" stroke-linejoin="round"/>
<polygon points="317.83,442.4 317.83,442.35 318.34,433.61 319.01,423.87 319.51,429.41 320.35,430.25 321.36,431.93 322.2,432.77 323.21,431.09 324.05,428.91 324.39,442.35 324.89,442.35 325.06,450.42 325.56,452.44 326.24,456.3 326.74,459.16 327.24,454.12 327.92,450.76 328.59,449.41 329.6,448.4 330.18,447.98 330.77,447.56 331.45,447.39 331.78,449.08 332.29,442.35 332.29,442.4" fill="#EDB120"/>
<polyline points="317.83,442.35 318.34,433.61 319.01,423.87 319.51,429.41 320.35,430.25 321.36,431.93 322.2,432.77 323.21,431.09 324.05,428.91 324.39,442.35 324.89,442.35 325.06,450.42 325.56,452.44 326.24,456.3 326.74,459.16 327.24,454.12 327.92,450.76 328.59,449.41 329.6,448.4 330.18,447.98 330.77,447.56 331.45,447.39 331.78,449.08 332.29,442.35" fill="none" stroke="#000" stroke-opacity="1.0" stroke-width="0.38" stroke-linejoin="round"/>
<polygon points="332.96,442.4 332.96,442.35 333.46,431.93 334.13,424.37 334.81,429.41 335.82,431.09 336.4,431.93 336.99,432.77 337.66,431.93 338.34,431.09 339.34,428.91 339.68,442.35 340.02,463.03 340.69,455.46 341.7,456.3 342.71,450.42 343.71,448.74 344.39,448.32 345.06,447.9 345.73,447.65 346.4,447.39 347.24,448.74 347.75,442.35 347.75,442.4" fill="#7E2F8E"/>
<polyline points="332.96,442.35 333.46,431.93 334.13,424.37 334.81,429.41 335.82,431.09 336.4,431.93 336.99,432.77 337.66,431.93 338.34,431.09 339.34,428.91 339.68,442.35 340.02,463.03 340.69,455.46 341.7,456.3 342.71,450.42 343.71,448.74 344.39,448.32 345.06,447.9 345.73,447.65 346.4,447.39 347.24,448.74 347.75,442.35" fill="none" stroke="#000" stroke-opacity="1.0" stroke-width="0.38" stroke-linejoin="round"/>
<polygon points="348.08,442.4 348.08,442.35 348.25,448.74 349.26,448.4 349.85,447.56 350.44,446.72 351.11,445.88 351.78,445.04 352.45,444.2 353.13,443.36 353.8,440.34 354.47,442.86 355.48,445.04 356.15,446.05 356.82,447.06 357.66,447.73 358.5,448.4 359.34,448.74 360.18,449.08 361.03,448.91 361.87,448.74 362.71,447.9 362.87,442.35 362.87,442.4" fill="#77AC30"/>
<polyline points="348.08,442.35 348.25,448.74 349.26,448.4 349.85,447.56 350.44,446.72 351.11,445.88 351.78,445.04 352.45,444.2 353.13,443.36 353.8,440.34 354.47,442.86 355.48,445.04 356.15,446.05 356.82,447.06 357.66,447.73 358.5,448.4 359.34,448.74 360.18,449.08 361.03,448.91 361.87,448.74 362.71,447.9 362.87,442.35" fill="none" stroke="#000" stroke-opacity="1.0" stroke-width="0.38" stroke-linejoin="round"/>
<polygon points="363.04,442.4 363.04,442.35 363.55,432.77 364.22,440.34 365.06,439.5 366.07,441.18 366.66,440.59 367.24,440 367.83,441.01 368.42,442.02 369.09,443.03 369.76,444.03 370.44,443.03 371.11,442.02 371.7,442.69 372.29,443.36 372.87,444.37 373.46,445.38 374.13,446.64 374.81,447.9 375.48,449.16 376.15,450.42 377.16,448.74 377.83,445.38 378.34,442.35 378.34,442.4" fill="#4DBEEE"/>
<polyline points="363.04,442.35 363.55,432.77 364.22,440.34 365.06,439.5 366.07,441.18 366.66,440.59 367.24,440 367.83,441.01 368.42,442.02 369.09,443.03 369.76,444.03 370.44,443.03 371.11,442.02 371.7,442.69 372.29,443.36 372.87,444.37 373.46,445.38 374.13,446.64 374.81,447.9 375.48,449.16 376.15,450.42 377.16,448.74 377.83,445.38 378.34,442.35" fill="none" stroke="#000" stroke-opacity="1.0" stroke-width="0.55" stroke-linejoin="round"/>
<polygon points="378.34,442.4 378.34,442.35 378.47,436.88 378.61,432.05 378.74,426.89 378.87,420.38 379.01,415.13 379.14,419.63 379.28,425.95 379.41,432.06 379.55,436.16 379.68,442.35 379.82,444.46 379.95,444.82 380.08,446.57 380.22,449.74 380.35,450.42 380.49,451.37 380.63,451.56 380.77,451.76 380.91,453.55 381.05,454.39 381.19,455.46 381.33,456.72 381.46,457.22 381.6,457.2 381.73,459.07 381.87,458.82 382.01,457.65 382.15,455.99 382.29,454.98 382.43,452.72 382.57,452.17 382.71,450.42 382.85,449.24 382.99,448.32 383.13,446.09 383.27,445.45 383.41,444 383.55,442.35 383.68,438.02 383.82,434.7 383.95,432.7 384.08,427.53 384.22,425.21 384.35,420.99 384.49,418.39 384.62,415.66 384.76,412.49 384.89,409.24 385.03,416.01 385.16,423.08 385.29,429.62 385.43,436.47 385.56,442.35 385.69,446.29 385.82,450.7 385.94,454.88 386.07,458.82 386.21,459.88 386.35,462.19 386.49,461.46 386.63,462.24 386.77,464.55 386.91,465.55 387.03,466.04 387.16,467.1 387.29,469.12 387.41,470.59 387.54,465.84 387.66,460.63 387.79,455.77 387.92,450.42 388.03,447.85 388.14,446.21 388.25,442.35 388.38,440.36 388.5,437.71 388.63,435.86 388.76,434.45 388.89,433.52 389.02,433.95 389.15,433.14 389.28,432.68 389.41,433.31 389.54,432.2 389.67,430.85 389.8,431.23 389.93,430.25 390.07,429.81 390.2,428.24 390.34,429.31 390.47,428.13 390.61,426.69 390.74,427.42 390.87,426.74 391.01,427.37 391.14,424.6 391.28,425.21 391.41,424.87 391.54,424.01 391.67,423.26 391.8,422.82 391.93,423.3 392.06,423.04 392.19,423.49 392.32,422.69 392.45,421.85 392.59,420.98 392.73,420.47 392.87,420.23 393.01,420.14 393.15,420.3 393.29,419.83 393.41,426.22 393.52,433.87 393.63,442.35 393.63,442.4" fill="#A2142F"/>
<polyline points="378.34,442.35 378.47,436.88 378.61,432.05 378.74,426.89 378.87,420.38 379.01,415.13 379.14,419.63 379.28,425.95 379.41,432.06 379.55,436.16 379.68,442.35 379.82,444.46 379.95,444.82 380.08,446.57 380.22,449.74 380.35,450.42 380.49,451.37 380.63,451.56 380.77,451.76 380.91,453.55 381.05,454.39 381.19,455.46 381.33,456.72 381.46,457.22 381.6,457.2 381.73,459.07 381.87,458.82 382.01,457.65 382.15,455.99 382.29,454.98 382.43,452.72 382.57,452.17 382.71,450.42 382.85,449.24 382.99,448.32 383.13,446.09 383.27,445.45 383.41,444 383.55,442.35 383.68,438.02 383.82,434.7 383.95,432.7 384.08,427.53 384.22,425.21 384.35,420.99 384.49,418.39 384.62,415.66 384.76,412.49 384.89,409.24 385.03,416.01 385.16,423.08 385.29,429.62 385.43,436.47 385.56,442.35 385.69,446.29 385.82,450.7 385.94,454.88 386.07,458.82 386.21,459.88 386.35,462.19 386.49,461.46 386.63,462.24 386.77,464.55 386.91,465.55 387.03,466.04 387.16,467.1 387.29,469.12 387.41,470.59 387.54,465.84 387.66,460.63 387.79,455.77 387.92,450.42 388.03,447.85 388.14,446.21 388.25,442.35 388.38,440.36 388.5,437.71 388.63,435.86 388.76,434.45 388.89,433.52 389.02,433.95 389.15,433.14 389.28,432.68 389.41,433.31 389.54,432.2 389.67,430.85 389.8,431.23 389.93,430.25 390.07,429.81 390.2,428.24 390.34,429.31 390.47,428.13 390.61,426.69 390.74,427.42 390.87,426.74 391.01,427.37 391.14,424.6 391.28,425.21 391.41,424.87 391.54,424.01 391.67,423.26 391.8,422.82 391.93,423.3 392.06,423.04 392.19,423.49 392.32,422.69 392.45,421.85 392.59,420.98 392.73,420.47 392.87,420.23 393.01,420.14 393.15,420.3 393.29,419.83 393.41,426.22 393.52,433.87 393.63,442.35" fill="none" stroke="#000" stroke-opacity="1.0" stroke-width="0.55" stroke-linejoin="round"/>
<polygon points="393.97,442.4 393.97,442.35 394.09,446.96 394.22,450.52 394.34,454.79 394.47,458.82 394.61,461.06 394.75,463.95 394.89,466.67 395.03,470.38 395.17,472.43 395.31,475.63 395.45,473.52 395.58,470.58 395.71,470.62 395.85,466.45 395.98,465.55 396.11,464.43 396.24,465.89 396.36,464.07 396.49,464.47 396.61,464.11 396.74,464.55 396.87,464.13 396.99,463.87 397.12,463.86 397.24,464.34 397.37,463.28 397.5,462.38 397.62,462.84 397.75,463.37 397.87,462.72 398,462.18 398.13,461.18 398.25,459.25 398.38,458.18 398.5,456.24 398.63,454.01 398.76,453.48 398.88,451.78 399.01,450.42 399.12,447.54 399.23,443.88 399.34,442.35 399.48,438.82 399.61,432.97 399.75,430.11 399.88,425.3 400.02,420.17 400.15,429.24 400.29,440.56 400.42,448.61 400.55,459.03 400.69,468.91 400.82,464.34 400.96,458.39 401.09,454.08 401.23,448.5 401.36,442.35 401.5,445.89 401.63,448.03 401.76,451.11 401.9,453.12 402.03,455.46 402.17,453.4 402.3,450.31 402.44,448.49 402.57,444.01 402.71,442.35 402.83,442.4 402.96,442.57 403.08,441.92 403.21,443.98 403.34,442.51 403.46,444.37 403.59,444.77 403.71,444.03 403.84,443.51 403.97,444.07 404.09,442.01 404.22,443.09 404.34,441.22 404.47,441.18 404.6,441.21 404.72,440.34 404.85,441.01 404.97,440.57 405.1,439.99 405.23,441.44 405.35,441.14 405.48,442.04 405.61,442.73 405.73,442.02 405.86,441.43 405.98,441.41 406.11,442.28 406.24,443.04 406.36,441.82 406.49,444.07 406.61,442.68 406.74,443.36 406.87,443.72 406.99,443.18 407.12,442.99 407.24,442.69 407.37,441.4 407.5,441.43 407.62,441.85 407.75,442.02 407.87,441.48 408,442.63 408.13,441.05 408.25,442.92 408.38,441.55 408.5,441.13 408.63,441.59 408.76,442.35 408.76,442.4" fill="#0072BD"/>
<polyline points="393.97,442.35 394.09,446.96 394.22,450.52 394.34,454.79 394.47,458.82 394.61,461.06 394.75,463.95 394.89,466.67 395.03,470.38 395.17,472.43 395.31,475.63 395.45,473.52 395.58,470.58 395.71,470.62 395.85,466.45 395.98,465.55 396.11,464.43 396.24,465.89 396.36,464.07 396.49,464.47 396.61,464.11 396.74,464.55 396.87,464.13 396.99,463.87 397.12,463.86 397.24,464.34 397.37,463.28 397.5,462.38 397.62,462.84 397.75,463.37 397.87,462.72 398,462.18 398.13,461.18 398.25,459.25 398.38,458.18 398.5,456.24 398.63,454.01 398.76,453.48 398.88,451.78 399.01,450.42 399.12,447.54 399.23,443.88 399.34,442.35 399.48,438.82 399.61,432.97 399.75,430.11 399.88,425.3 400.02,420.17 400.15,429.24 400.29,440.56 400.42,448.61 400.55,459.03 400.69,468.91 400.82,464.34 400.96,458.39 401.09,454.08 401.23,448.5 401.36,442.35 401.5,445.89 401.63,448.03 401.76,451.11 401.9,453.12 402.03,455.46 402.17,453.4 402.3,450.31 402.44,448.49 402.57,444.01 402.71,442.35 402.83,442.4 402.96,442.57 403.08,441.92 403.21,443.98 403.34,442.51 403.46,444.37 403.59,444.77 403.71,444.03 403.84,443.51 403.97,444.07 404.09,442.01 404.22,443.09 404.34,441.22 404.47,441.18 404.6,441.21 404.72,440.34 404.85,441.01 404.97,440.57 405.1,439.99 405.23,441.44 405.35,441.14 405.48,442.04 405.61,442.73 405.73,442.02 405.86,441.43 405.98,441.41 406.11,442.28 406.24,443.04 406.36,441.82 406.49,444.07 406.61,442.68 406.74,443.36 406.87,443.72 406.99,443.18 407.12,442.99 407.24,442.69 407.37,441.4 407.5,441.43 407.62,441.85 407.75,442.02 407.87,441.48 408,442.63 408.13,441.05 408.25,442.92 408.38,441.55 408.5,441.13 408.63,441.59 408.76,442.35" fill="none" stroke="#000" stroke-opacity="1.0" stroke-width="0.55" stroke-linejoin="round"/>
<polygon points="408.92,442.4 408.92,442.35 409.43,428.57 410.1,421.85 410.77,426.89 411.45,433.61 412.29,431.09 413.13,426.89 413.97,431.93 414.81,436.13 415.31,442.35 415.82,442.35 416.15,433.61 416.82,425.21 417.33,422.69 418,427.73 418.84,436.97 419.51,442.35 420.35,442.35 421.19,442.35 421.53,440.34 422.2,438.66 422.87,434.45 423.55,442.35 423.55,442.4" fill="#D95319"/>
<polyline points="408.92,442.35 409.05,438.31 409.18,434.28 409.3,429.84 409.43,425.21 409.56,420.9 409.7,417.51 409.83,415.02 409.97,410.53 410.1,407.56 410.24,410.29 410.37,411.95 410.5,414.05 410.64,417 410.77,418.49 410.91,421.09 411.04,424.56 411.18,427 411.31,430.76 411.45,433.61 411.59,433.23 411.73,432.77 411.87,432.41 412.01,431.87 412.15,430.05 412.29,430.25 412.43,429.92 412.57,428.48 412.71,428.37 412.85,427.11 412.99,425.69 413.13,425.21 413.27,426.42 413.41,427.54 413.55,428.55 413.69,429.44 413.83,431.58 413.97,431.93 414.11,432.44 414.25,433.45 414.39,433.74 414.53,434.58 414.67,435.18 414.81,436.13 414.94,441.51 415.08,445.84 415.21,451.12 415.34,457.57 415.48,462.18 415.61,454.12 415.73,446.54 415.86,438.73 415.98,430.25 416.12,428.18 416.26,425.05 416.4,423.71 416.54,421.44 416.68,419.06 416.82,416.81 416.95,415.53 417.08,412.7 417.2,411.62 417.33,410.08 417.46,412.72 417.6,416.63 417.73,418.54 417.87,421.99 418,425.21 418.14,427.94 418.28,429.64 418.42,431.35 418.56,433.61 418.7,434.76 418.84,436.97 418.98,438.88 419.12,439.66 419.26,442.38 419.4,444.4 419.54,445.16 419.68,447.06 419.82,447.07 419.96,448.28 420.1,448.31 420.24,447.77 420.38,447.81 420.52,448.74 420.66,447.98 420.8,445.44 420.94,444.88 421.08,443.84 421.22,442.37 421.36,440.34 421.5,440.74 421.64,439.25 421.78,439.94 421.92,439.19 422.06,439.57 422.2,438.66 422.34,437.52 422.47,436.59 422.61,436.41 422.74,434.85 422.87,433.61 423.01,435.39 423.14,437.31 423.28,438.4 423.41,440.44 423.55,442.35" fill="none" stroke="#000" stroke-opacity="0.18" stroke-width="1.3" stroke-linejoin="round"/>
<polyline points="408.92,442.35 409.05,438.31 409.18,434.28 409.3,429.84 409.43,425.21 409.56,420.9 409.7,417.51 409.83,415.02 409.97,410.53 410.1,407.56 410.24,410.29 410.37,411.95 410.5,414.05 410.64,417 410.77,418.49 410.91,421.09 411.04,424.56 411.18,427 411.31,430.76 411.45,433.61 411.59,433.23 411.73,432.77 411.87,432.41 412.01,431.87 412.15,430.05 412.29,430.25 412.43,429.92 412.57,428.48 412.71,428.37 412.85,427.11 412.99,425.69 413.13,425.21 413.27,426.42 413.41,427.54 413.55,428.55 413.69,429.44 413.83,431.58 413.97,431.93 414.11,432.44 414.25,433.45 414.39,433.74 414.53,434.58 414.67,435.18 414.81,436.13 414.94,441.51 415.08,445.84 415.21,451.12 415.34,457.57 415.48,462.18 415.61,454.12 415.73,446.54 415.86,438.73 415.98,430.25 416.12,428.18 416.26,425.05 416.4,423.71 416.54,421.44 416.68,419.06 416.82,416.81 416.95,415.53 417.08,412.7 417.2,411.62 417.33,410.08 417.46,412.72 417.6,416.63 417.73,418.54 417.87,421.99 418,425.21 418.14,427.94 418.28,429.64 418.42,431.35 418.56,433.61 418.7,434.76 418.84,436.97 418.98,438.88 419.12,439.66 419.26,442.38 419.4,444.4 419.54,445.16 419.68,447.06 419.82,447.07 419.96,448.28 420.1,448.31 420.24,447.77 420.38,447.81 420.52,448.74 420.66,447.98 420.8,445.44 420.94,444.88 421.08,443.84 421.22,442.37 421.36,440.34 421.5,440.74 421.64,439.25 421.78,439.94 421.92,439.19 422.06,439.57 422.2,438.66 422.34,437.52 422.47,436.59 422.61,436.41 422.74,434.85 422.87,433.61 423.01,435.39 423.14,437.31 423.28,438.4 423.41,440.44 423.55,442.35" fill="none" stroke="#000" stroke-width="0.5" stroke-linejoin="round"/>
<polygon points="424.22,442.4 424.22,442.23 424.88,427.82 425.7,424.55 426.51,427.82 427.5,436.82 428.48,438.46 429.46,431.91 429.95,442.23 430.28,442.23 430.61,427.82 431.42,422.91 432.08,421.28 432.73,424.55 433.55,432.73 434.37,439.28 434.86,442.23 435.35,442.23 435.68,439.28 436.5,436.01 437.32,431.1 437.97,426.19 438.63,423.73 439.12,431.1 439.44,442.23 439.44,442.4" fill="#EDB120"/>
<polyline points="424.22,442.23 424.33,445.85 424.44,450.7 424.55,454.01 424.67,441.71 424.8,430.56 424.92,419.24 425.04,407.36 425.17,409.42 425.3,411.67 425.43,414.08 425.56,417.56 425.7,419.64 425.83,420.14 425.97,421.47 426.1,422.89 426.24,424.55 426.38,425.36 426.51,426.19 426.64,427.94 426.76,428.17 426.88,430.79 427,431.71 427.13,432.87 427.25,434.1 427.37,434.99 427.5,436.82 427.62,437.34 427.74,437.13 427.86,437.27 427.99,437.09 428.11,438.14 428.23,437.53 428.36,438.1 428.48,438.46 428.6,438.06 428.72,437.18 428.85,436.42 428.97,435.32 429.09,433.74 429.21,432.27 429.34,432.47 429.46,431.1 429.59,436.76 429.72,442.42 429.85,448.96 429.98,454.57 430.11,460.56 430.24,450.85 430.36,442.86 430.48,433.5 430.61,424.55 430.74,422.87 430.88,421.58 431.01,421.88 431.15,419.55 431.29,419.04 431.42,418 431.55,417.05 431.69,415.23 431.82,413.36 431.95,413.51 432.08,411.46 432.21,414.04 432.34,416.29 432.47,418.98 432.6,420.62 432.73,422.91 432.87,424.13 433.01,426.18 433.14,428.42 433.28,429.44 433.42,431.47 433.55,432.73 433.69,433.62 433.82,435.61 433.96,435.54 434.1,436.95 434.23,438.44 434.37,439.28 434.5,441.8 434.63,445.06 434.76,447.7 434.89,451.59 435.02,454.01 435.16,451.03 435.29,448.14 435.42,444.91 435.55,442.76 435.68,439.28 435.82,438.26 435.95,438.51 436.09,436.93 436.22,437.13 436.36,435.76 436.5,436.01 436.63,434.93 436.77,435 436.91,434.11 437.04,432.69 437.18,432.53 437.32,431.1 437.45,429.77 437.58,427.74 437.71,426.67 437.84,426.32 437.97,424.55 438.1,423.73 438.23,422.58 438.36,421.66 438.49,421.15 438.63,419.64 438.75,421.48 438.87,424.19 438.99,426.41 439.12,429.46 439.23,434.43 439.33,437.31 439.44,442.23" fill="none" stroke="#000" stroke-opacity="0.18" stroke-width="1.3" stroke-linejoin="round"/>
<polyline points="424.22,442.23 424.33,445.85 424.44,450.7 424.55,454.01 424.67,441.71 424.8,430.56 424.92,419.24 425.04,407.36 425.17,409.42 425.3,411.67 425.43,414.08 425.56,417.56 425.7,419.64 425.83,420.14 425.97,421.47 426.1,422.89 426.24,424.55 426.38,425.36 426.51,426.19 426.64,427.94 426.76,428.17 426.88,430.79 427,431.71 427.13,432.87 427.25,434.1 427.37,434.99 427.5,436.82 427.62,437.34 427.74,437.13 427.86,437.27 427.99,437.09 428.11,438.14 428.23,437.53 428.36,438.1 428.48,438.46 428.6,438.06 428.72,437.18 428.85,436.42 428.97,435.32 429.09,433.74 429.21,432.27 429.34,432.47 429.46,431.1 429.59,436.76 429.72,442.42 429.85,448.96 429.98,454.57 430.11,460.56 430.24,450.85 430.36,442.86 430.48,433.5 430.61,424.55 430.74,422.87 430.88,421.58 431.01,421.88 431.15,419.55 431.29,419.04 431.42,418 431.55,417.05 431.69,415.23 431.82,413.36 431.95,413.51 432.08,411.46 432.21,414.04 432.34,416.29 432.47,418.98 432.6,420.62 432.73,422.91 432.87,424.13 433.01,426.18 433.14,428.42 433.28,429.44 433.42,431.47 433.55,432.73 433.69,433.62 433.82,435.61 433.96,435.54 434.1,436.95 434.23,438.44 434.37,439.28 434.5,441.8 434.63,445.06 434.76,447.7 434.89,451.59 435.02,454.01 435.16,451.03 435.29,448.14 435.42,444.91 435.55,442.76 435.68,439.28 435.82,438.26 435.95,438.51 436.09,436.93 436.22,437.13 436.36,435.76 436.5,436.01 436.63,434.93 436.77,435 436.91,434.11 437.04,432.69 437.18,432.53 437.32,431.1 437.45,429.77 437.58,427.74 437.71,426.67 437.84,426.32 437.97,424.55 438.1,423.73 438.23,422.58 438.36,421.66 438.49,421.15 438.63,419.64 438.75,421.48 438.87,424.19 438.99,426.41 439.12,429.46 439.23,434.43 439.33,437.31 439.44,442.23" fill="none" stroke="#000" stroke-width="0.5" stroke-linejoin="round"/>
<polygon points="438.79,442.4 438.79,442.23 439.28,421.44 439.77,442.23 440.43,442.23 441.08,442.23 441.24,460.88 441.38,462.27 441.52,463.34 441.65,464.97 441.79,464.23 441.93,465.84 442.06,465.96 442.2,466.55 442.33,467.19 442.47,470.9 442.61,468.23 442.74,469.52 442.88,469.56 443.02,469.82 443.15,471.55 443.29,470.58 443.43,472.09 443.56,471.37 443.7,471.69 444.68,468.58 444.82,467.79 444.95,467.43 445.09,468.29 445.23,466.07 445.36,465.22 445.5,464.81 445.62,464.94 445.74,462.84 445.87,457.83 445.99,461.36 446.11,459.3 446.24,457.86 446.36,453.68 446.48,452.05 446.61,452.22 446.74,446.03 446.87,444.63 447,443.65 447.14,442.23 447.46,432.73 447.79,425.37 447.9,426.31 448.01,427.2 448.12,429.13 448.24,427.96 448.36,430.19 448.49,430.58 448.61,431.09 448.73,430.73 448.85,429.52 448.98,430.5 449.1,431.42 449.22,432.35 449.35,429 449.47,432.69 449.59,432.54 449.71,429.53 449.84,430.59 449.96,431.16 450.08,432.9 450.21,432.71 450.34,432.84 450.46,432.84 450.59,428.88 450.72,432.32 450.85,430.79 450.97,428.09 451.1,430.11 451.23,430.44 451.36,432.26 451.49,431.53 451.62,434.01 451.75,435.08 451.88,435.52 452.01,435.61 452.14,435.43 452.27,436.42 452.41,437.31 452.54,437.64 452.67,437.99 452.8,438.13 452.93,438.53 453.06,438.89 453.19,439.28 453.85,440.75 454.5,442.23 454.5,442.4" fill="#7E2F8E"/>
<polygon points="438.79,442.23 439.28,421.44 439.77,442.23 441.08,442.23 441.24,460.88 442.06,464.32 442.88,467.92 443.7,471.69 444.68,468.58 445.5,460.72 446.48,447.95 447.14,442.23 447.46,432.73 447.79,425.37 448.12,425.04 449.1,427.33 450.08,429.62 451.23,427.17 451.88,433.88 453.19,439.28 454.5,442.23 454.5,442.23 453.19,439.28 451.88,436.33 451.23,431.26 450.08,433.72 449.1,432.24 448.12,429.95 447.79,425.37 447.46,432.73 447.14,442.23 446.48,455.32 445.5,468.09 444.68,468.58 443.7,471.69 442.88,473.65 442.06,470.05 441.24,460.88 441.08,442.23 439.77,442.23 439.28,421.44 438.79,442.23" fill="#000" fill-opacity="0.05"/>
<polygon points="438.79,442.23 439.28,421.44 439.77,442.23 441.08,442.23 441.24,460.88 442.06,464.81 442.88,468.41 443.7,471.69 444.68,468.58 445.5,461.95 446.48,449.18 447.14,442.23 447.46,432.73 447.79,425.37 448.12,426.27 449.1,428.56 450.08,430.61 451.23,428.15 451.88,434.37 453.19,439.28 454.5,442.23 454.5,442.23 453.19,439.28 451.88,436.09 451.23,431.01 450.08,433.47 449.1,432 448.12,429.71 447.79,425.37 447.46,432.73 447.14,442.23 446.48,454.34 445.5,467.1 444.68,468.58 443.7,471.69 442.88,472.42 442.06,468.82 441.24,460.88 441.08,442.23 439.77,442.23 439.28,421.44 438.79,442.23" fill="#000" fill-opacity="0.05"/>
<polygon points="438.79,442.23 439.28,421.44 439.77,442.23 441.08,442.23 441.24,460.88 442.06,465.22 442.88,468.82 443.7,471.69 444.68,468.58 445.5,462.97 446.48,450.2 447.14,442.23 447.46,432.73 447.79,425.37 448.12,427.29 449.1,429.58 450.08,431.42 451.23,428.97 451.88,434.78 453.19,439.28 454.5,442.23 454.5,442.23 453.19,439.28 451.88,435.88 451.23,430.81 450.08,433.27 449.1,431.79 448.12,429.5 447.79,425.37 447.46,432.73 447.14,442.23 446.48,453.52 445.5,466.28 444.68,468.58 443.7,471.69 442.88,471.4 442.06,467.8 441.24,460.88 441.08,442.23 439.77,442.23 439.28,421.44 438.79,442.23" fill="#000" fill-opacity="0.07"/>
<polygon points="438.79,442.23 439.28,421.44 439.77,442.23 441.08,442.23 441.24,460.88 442.06,465.55 442.88,469.15 443.7,471.69 444.68,468.58 445.5,463.79 446.48,451.02 447.14,442.23 447.46,432.73 447.79,425.37 448.12,428.11 449.1,430.4 450.08,432.08 451.23,429.62 451.88,435.11 453.19,439.28 454.5,442.23 454.5,442.23 453.19,439.28 451.88,435.72 451.23,430.65 450.08,433.1 449.1,431.63 448.12,429.34 447.79,425.37 447.46,432.73 447.14,442.23 446.48,452.86 445.5,465.63 444.68,468.58 443.7,471.69 442.88,470.58 442.06,466.98 441.24,460.88 441.08,442.23 439.77,442.23 439.28,421.44 438.79,442.23" fill="#000" fill-opacity="0.1"/>
<polygon points="438.79,442.23 439.28,421.44 439.77,442.23 441.08,442.23 441.24,460.88 442.06,465.76 442.88,469.36 443.7,471.69 444.68,468.58 445.5,464.32 446.48,451.55 447.14,442.23 447.46,432.73 447.79,425.37 448.12,428.64 449.1,430.93 450.08,432.5 451.23,430.05 451.88,435.32 453.19,439.28 454.5,442.23 454.5,442.23 453.19,439.28 451.88,435.61 451.23,430.54 450.08,433 449.1,431.52 448.12,429.23 447.79,425.37 447.46,432.73 447.14,442.23 446.48,452.44 445.5,465.2 444.68,468.58 443.7,471.69 442.88,470.05 442.06,466.45 441.24,460.88 441.08,442.23 439.77,442.23 439.28,421.44 438.79,442.23" fill="#000" fill-opacity="0.14"/>
<polyline points="438.79,442.23 439.28,421.44 439.77,442.23 440.43,442.23 441.08,442.23 441.24,460.88 441.38,462.27 441.52,463.34 441.65,464.97 441.79,464.23 441.93,465.84 442.06,465.96 442.2,466.55 442.33,467.19 442.47,470.9 442.61,468.23 442.74,469.52 442.88,469.56 443.02,469.82 443.15,471.55 443.29,470.58 443.43,472.09 443.56,471.37 443.7,471.69 444.68,468.58 444.82,467.79 444.95,467.43 445.09,468.29 445.23,466.07 445.36,465.22 445.5,464.81 445.62,464.94 445.74,462.84 445.87,457.83 445.99,461.36 446.11,459.3 446.24,457.86 446.36,453.68 446.48,452.05 446.61,452.22 446.74,446.03 446.87,444.63 447,443.65 447.14,442.23 447.46,432.73 447.79,425.37 447.9,426.31 448.01,427.2 448.12,429.13 448.24,427.96 448.36,430.19 448.49,430.58 448.61,431.09 448.73,430.73 448.85,429.52 448.98,430.5 449.1,431.42 449.22,432.35 449.35,429 449.47,432.69 449.59,432.54 449.71,429.53 449.84,430.59 449.96,431.16 450.08,432.9 450.21,432.71 450.34,432.84 450.46,432.84 450.59,428.88 450.72,432.32 450.85,430.79 450.97,428.09 451.1,430.11 451.23,430.44 451.36,432.26 451.49,431.53 451.62,434.01 451.75,435.08 451.88,435.52 452.01,435.61 452.14,435.43 452.27,436.42 452.41,437.31 452.54,437.64 452.67,437.99 452.8,438.13 452.93,438.53 453.06,438.89 453.19,439.28 453.85,440.75 454.5,442.23" fill="none" stroke="#000" stroke-opacity="1.0" stroke-width="0.45" stroke-linejoin="round"/>
<polygon points="454.5,442.4 454.5,442.23 454.75,431.59 455.16,430.93 455.81,430.77 456.46,430.61 457.06,430.52 457.67,430.44 458.27,430.36 459,430.48 459.74,430.61 460.31,430.85 460.88,431.1 461.87,433.22 462.68,435.52 463.67,437.64 464.65,439.28 465.3,439.69 465.96,440.1 466.61,440.34 467.27,440.59 468,441 468.74,441.41 469.72,441.82 470.38,442.23 470.38,442.4" fill="#77AC30"/>
<polyline points="454.5,442.23 454.75,431.59 455.16,430.93 455.81,430.77 456.46,430.61 457.06,430.52 457.67,430.44 458.27,430.36 459,430.48 459.74,430.61 460.31,430.85 460.88,431.1 461.87,433.22 462.68,435.52 463.67,437.64 464.65,439.28 465.3,439.69 465.96,440.1 466.61,440.34 467.27,440.59 468,441 468.74,441.41 469.72,441.82 470.38,442.23" fill="none" stroke="#000" stroke-opacity="1.0" stroke-width="0.38" stroke-linejoin="round"/>
<line x1="302" y1="442.4" x2="470.2" y2="442.4" stroke="#3a3a3a" stroke-width="0.45" />
<rect x="302" y="375.3" width="168.2" height="134.2" fill="none" stroke="#6e6e6e" stroke-width="0.6"/>
<line x1="302" y1="498.32" x2="303" y2="498.32" stroke="#555" stroke-width="0.5" />
<line x1="470.2" y1="498.32" x2="469.2" y2="498.32" stroke="#555" stroke-width="0.5" />
<line x1="302" y1="487.13" x2="303.7" y2="487.13" stroke="#555" stroke-width="0.5" />
<line x1="470.2" y1="487.13" x2="468.5" y2="487.13" stroke="#555" stroke-width="0.5" />
<line x1="302" y1="475.95" x2="303" y2="475.95" stroke="#555" stroke-width="0.5" />
<line x1="470.2" y1="475.95" x2="469.2" y2="475.95" stroke="#555" stroke-width="0.5" />
<line x1="302" y1="464.77" x2="303.7" y2="464.77" stroke="#555" stroke-width="0.5" />
<line x1="470.2" y1="464.77" x2="468.5" y2="464.77" stroke="#555" stroke-width="0.5" />
<line x1="302" y1="453.58" x2="303" y2="453.58" stroke="#555" stroke-width="0.5" />
<line x1="470.2" y1="453.58" x2="469.2" y2="453.58" stroke="#555" stroke-width="0.5" />
<line x1="302" y1="442.4" x2="303.7" y2="442.4" stroke="#555" stroke-width="0.5" />
<line x1="470.2" y1="442.4" x2="468.5" y2="442.4" stroke="#555" stroke-width="0.5" />
<line x1="302" y1="431.22" x2="303" y2="431.22" stroke="#555" stroke-width="0.5" />
<line x1="470.2" y1="431.22" x2="469.2" y2="431.22" stroke="#555" stroke-width="0.5" />
<line x1="302" y1="420.03" x2="303.7" y2="420.03" stroke="#555" stroke-width="0.5" />
<line x1="470.2" y1="420.03" x2="468.5" y2="420.03" stroke="#555" stroke-width="0.5" />
<line x1="302" y1="408.85" x2="303" y2="408.85" stroke="#555" stroke-width="0.5" />
<line x1="470.2" y1="408.85" x2="469.2" y2="408.85" stroke="#555" stroke-width="0.5" />
<line x1="302" y1="397.67" x2="303.7" y2="397.67" stroke="#555" stroke-width="0.5" />
<line x1="470.2" y1="397.67" x2="468.5" y2="397.67" stroke="#555" stroke-width="0.5" />
<line x1="302" y1="386.48" x2="303" y2="386.48" stroke="#555" stroke-width="0.5" />
<line x1="470.2" y1="386.48" x2="469.2" y2="386.48" stroke="#555" stroke-width="0.5" />
<text x="298.2" y="512.25" font-size="7.5" text-anchor="end" fill="#2a2a2a" stroke="#2a2a2a" stroke-width="0.16" >-0.03</text>
<text x="298.2" y="489.88" font-size="7.5" text-anchor="end" fill="#2a2a2a" stroke="#2a2a2a" stroke-width="0.16" >-0.02</text>
<text x="298.2" y="467.52" font-size="7.5" text-anchor="end" fill="#2a2a2a" stroke="#2a2a2a" stroke-width="0.16" >-0.01</text>
<text x="298.2" y="445.15" font-size="7.5" text-anchor="end" fill="#2a2a2a" stroke="#2a2a2a" stroke-width="0.16" >0</text>
<text x="298.2" y="422.78" font-size="7.5" text-anchor="end" fill="#2a2a2a" stroke="#2a2a2a" stroke-width="0.16" >0.01</text>
<text x="298.2" y="400.42" font-size="7.5" text-anchor="end" fill="#2a2a2a" stroke="#2a2a2a" stroke-width="0.16" >0.02</text>
<text x="298.2" y="378.05" font-size="7.5" text-anchor="end" fill="#2a2a2a" stroke="#2a2a2a" stroke-width="0.16" >0.03</text>
<text x="309.35" y="520.2" font-size="7.5" text-anchor="middle" fill="#2a2a2a" stroke="#2a2a2a" stroke-width="0.16" >1</text>
<text x="324.64" y="520.2" font-size="7.5" text-anchor="middle" fill="#2a2a2a" stroke="#2a2a2a" stroke-width="0.16" >2</text>
<text x="339.93" y="520.2" font-size="7.5" text-anchor="middle" fill="#2a2a2a" stroke="#2a2a2a" stroke-width="0.16" >3</text>
<text x="355.22" y="520.2" font-size="7.5" text-anchor="middle" fill="#2a2a2a" stroke="#2a2a2a" stroke-width="0.16" >4</text>
<text x="370.51" y="520.2" font-size="7.5" text-anchor="middle" fill="#2a2a2a" stroke="#2a2a2a" stroke-width="0.16" >5</text>
<text x="385.8" y="520.2" font-size="7.5" text-anchor="middle" fill="#2a2a2a" stroke="#2a2a2a" stroke-width="0.16" >6</text>
<text x="401.09" y="520.2" font-size="7.5" text-anchor="middle" fill="#2a2a2a" stroke="#2a2a2a" stroke-width="0.16" >7</text>
<text x="416.38" y="520.2" font-size="7.5" text-anchor="middle" fill="#2a2a2a" stroke="#2a2a2a" stroke-width="0.16" >8</text>
<text x="431.67" y="520.2" font-size="7.5" text-anchor="middle" fill="#2a2a2a" stroke="#2a2a2a" stroke-width="0.16" >9</text>
<text x="446.96" y="520.2" font-size="7.5" text-anchor="middle" fill="#2a2a2a" stroke="#2a2a2a" stroke-width="0.16" >10</text>
<text x="462.25" y="520.2" font-size="7.5" text-anchor="middle" fill="#2a2a2a" stroke="#2a2a2a" stroke-width="0.16" >11</text>
<text x="385.8" y="530.5" font-size="8.4" text-anchor="middle" fill="#2a2a2a" stroke="#2a2a2a" stroke-width="0.16" >Variable number</text>
<text transform="translate(274.2 442.4) rotate(-90)" font-size="8.4" text-anchor="middle" fill="#2a2a2a" stroke="#2a2a2a" stroke-width="0.16">Weight* on LV<tspan font-size="6.6" dy="2.8">1</tspan></text>
<text x="377.5" y="544.3" font-size="10.2" text-anchor="middle" fill="#111" font-family='"Liberation Serif", "Times New Roman", serif'>(<tspan font-weight="bold" stroke="#111" stroke-width="0.25">e</tspan>)</text>
</g>
</svg>
</body>
</html>
